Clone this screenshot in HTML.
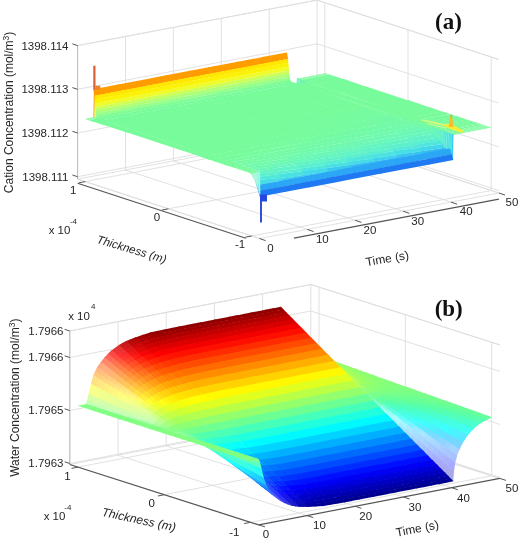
<!DOCTYPE html>
<html lang="en"><head><meta charset="utf-8"><title>Concentration profiles</title>
<style>html,body{margin:0;padding:0;background:#fff}svg{display:block}text{font-family:"Liberation Sans",sans-serif;fill:#262626}.s{font-family:"Liberation Serif",serif;font-weight:bold;fill:#111}</style></head><body>
<svg width="520" height="540" viewBox="0 0 520 540">
<rect width="520" height="540" fill="#fff"/>
<line x1="77.6" y1="179.1" x2="77.6" y2="45.6" stroke="#dedede" stroke-width="0.9"/>
<line x1="77.6" y1="179.1" x2="259.4" y2="238.5" stroke="#dedede" stroke-width="0.9"/>
<line x1="125.5" y1="170" x2="125.5" y2="36.5" stroke="#dedede" stroke-width="0.9"/>
<line x1="125.5" y1="170" x2="307.3" y2="229.4" stroke="#dedede" stroke-width="0.9"/>
<line x1="173.4" y1="160.9" x2="173.4" y2="27.4" stroke="#dedede" stroke-width="0.9"/>
<line x1="173.4" y1="160.9" x2="355.2" y2="220.3" stroke="#dedede" stroke-width="0.9"/>
<line x1="221.3" y1="151.8" x2="221.3" y2="18.3" stroke="#dedede" stroke-width="0.9"/>
<line x1="221.3" y1="151.8" x2="403.1" y2="211.2" stroke="#dedede" stroke-width="0.9"/>
<line x1="269.2" y1="142.7" x2="269.2" y2="9.2" stroke="#dedede" stroke-width="0.9"/>
<line x1="269.2" y1="142.7" x2="451" y2="202.1" stroke="#dedede" stroke-width="0.9"/>
<line x1="317.1" y1="133.6" x2="317.1" y2="0.1" stroke="#dedede" stroke-width="0.9"/>
<line x1="317.1" y1="133.6" x2="498.9" y2="193" stroke="#dedede" stroke-width="0.9"/>
<line x1="324.8" y1="136.1" x2="324.8" y2="2.6" stroke="#dedede" stroke-width="0.9"/>
<line x1="85.3" y1="181.6" x2="324.8" y2="136.1" stroke="#dedede" stroke-width="0.9"/>
<line x1="408" y1="163.3" x2="408" y2="29.8" stroke="#dedede" stroke-width="0.9"/>
<line x1="168.5" y1="208.8" x2="408" y2="163.3" stroke="#dedede" stroke-width="0.9"/>
<line x1="491.2" y1="190.5" x2="491.2" y2="57" stroke="#dedede" stroke-width="0.9"/>
<line x1="251.7" y1="236" x2="491.2" y2="190.5" stroke="#dedede" stroke-width="0.9"/>
<line x1="77.6" y1="176.7" x2="317.1" y2="131.2" stroke="#dedede" stroke-width="0.9"/>
<line x1="317.1" y1="131.2" x2="498.9" y2="190.6" stroke="#dedede" stroke-width="0.9"/>
<line x1="77.6" y1="133" x2="317.1" y2="87.5" stroke="#dedede" stroke-width="0.9"/>
<line x1="317.1" y1="87.5" x2="498.9" y2="146.9" stroke="#dedede" stroke-width="0.9"/>
<line x1="77.6" y1="89.3" x2="317.1" y2="43.8" stroke="#dedede" stroke-width="0.9"/>
<line x1="317.1" y1="43.8" x2="498.9" y2="103.2" stroke="#dedede" stroke-width="0.9"/>
<line x1="77.6" y1="45.6" x2="317.1" y2="0.1" stroke="#dedede" stroke-width="0.9"/>
<line x1="317.1" y1="0.1" x2="498.9" y2="59.5" stroke="#dedede" stroke-width="0.9"/>
<line x1="77.6" y1="45.6" x2="317.1" y2="0.1" stroke="#dedede" stroke-width="0.9"/>
<line x1="317.1" y1="0.1" x2="498.9" y2="59.5" stroke="#dedede" stroke-width="0.9"/>
<line x1="317.1" y1="133.6" x2="498.9" y2="193" stroke="#dedede" stroke-width="0.9"/>
<line x1="77.6" y1="179.1" x2="317.1" y2="133.6" stroke="#dedede" stroke-width="0.9"/>
<g>
<path d="M296.5,78.7L325.3,73.2L326.3,73.6L297.5,79z" fill="#78fb9a"/>
<path d="M297.5,79L326.3,73.5L326.7,73.7L297.8,79.1z" fill="#78fb9a"/>
<path d="M297.8,79.1L326.7,73.6L327,73.8L298.1,79.2z" fill="#78fb9a"/>
<path d="M298.1,79.2L327,73.8L327.3,73.9L298.5,79.4z" fill="#78fb9a"/>
<path d="M298.5,79.3L327.3,73.9L327.7,74L298.8,79.5z" fill="#78fb9a"/>
<path d="M298.8,79.5L327.7,74L328,74.1L299.1,79.6z" fill="#78fb9a"/>
<path d="M299.1,79.6L328,74.1L328.5,74.3L299.6,79.7z" fill="#78fb9a"/>
<path d="M299.6,79.7L328.5,74.2L329.5,74.6L300.6,80.1z" fill="#78fb9a"/>
<path d="M300.6,80L329.5,74.5L334.5,76.3L305.6,81.7z" fill="#78fb9a"/>
<path d="M305.6,81.6L334.5,76.1L343.6,79.3L314.8,84.8z" fill="#78fb9a"/>
<path d="M314.8,84.6L343.3,78.8L366.9,86.9L338.4,92.7z" fill="#78fb9a"/>
<path d="M338.1,92.1L366.1,86.5L408.5,100.6L380.5,106.2z" fill="#78fb9a"/>
<path d="M379.7,105.8L408.3,100L429.3,107.3L400.7,113.1z" fill="#78fb9a"/>
<path d="M400.5,112.6L429.3,107L441.8,111.4L413,117z" fill="#78fb9a"/>
<path d="M412.9,116.7L441.8,111.2L450.1,114.1L421.3,119.6z" fill="#78fb9a"/>
<path d="M421.3,119.4L450.1,113.9L456.8,116.2L428,121.8z" fill="#78fb9a"/>
<path d="M427.9,121.6L456.8,116.1L461.8,117.9L432.9,123.4z" fill="#78fb9a"/>
<path d="M432.9,123.3L461.8,117.8L466.8,119.5L437.9,125z" fill="#78fb9a"/>
<path d="M437.9,124.9L466.8,119.4L470.9,120.9L442.1,126.3z" fill="#78fb9a"/>
<path d="M442.1,126.3L470.9,120.8L475.1,122.2L446.2,127.7z" fill="#78fb9a"/>
<path d="M446.2,127.6L475.1,122.1L478.4,123.3L449.6,128.8z" fill="#78fb9a"/>
<path d="M449.6,128.7L478.4,123.2L480.9,124.1L452.1,129.6z" fill="#78fb9a"/>
<path d="M452.1,129.5L480.9,124.1L483.4,124.9L454.6,130.4z" fill="#78fb9a"/>
<path d="M454.6,130.4L483.4,124.9L485.1,125.5L456.2,130.9z" fill="#78fb9a"/>
<path d="M456.2,130.9L485.1,125.4L486.7,126L457.9,131.5z" fill="#78fb9a"/>
<path d="M457.9,131.5L486.7,126L488.4,126.5L459.5,132z" fill="#78fb9a"/>
<path d="M459.5,132L488.4,126.5L490.1,127.1L461.2,132.6z" fill="#78fb9a"/>
<path d="M461.2,132.5L490.1,127.1L491.7,127.6L462.9,133.1z" fill="#78fb9a"/>
<path d="M296.4,83.6L297,78.1L298.2,78.4L297.6,83.7z" fill="#70f4b0"/>
<path d="M297.4,83.7L298,78.4L298.5,78.5L297.8,83.7z" fill="#70f4b0"/>
<path d="M297.8,83.7L298.4,78.5L298.8,78.6L298.2,83.8z" fill="#70f4b0"/>
<path d="M298.1,83.7L298.7,78.6L299.1,78.7L298.5,83.8z" fill="#70f4b0"/>
<path d="M298.4,83.8L299,78.7L299.5,78.8L298.8,83.8z" fill="#70f4b0"/>
<path d="M298.8,83.8L299.4,78.8L299.8,78.9L299.2,83.8z" fill="#70f4b0"/>
<path d="M299.1,83.8L299.7,78.9L300.3,79.1L299.7,83.9z" fill="#70f4b0"/>
<path d="M299.5,83.8L300.1,79.1L301.4,79.5L300.8,84z" fill="#70f4b0"/>
<path d="M300.2,83.6L300.8,79.6L306.7,81.5L306.1,84.2z" fill="#70f4b0"/>
<path d="M305.1,83.9L305.7,81.4L315.9,84.7L315.4,84.8z" fill="#78fb9a"/>
<path d="M314.3,84.5L314.8,84.4L339.1,92.4L338.7,92.5z" fill="#78fb9a"/>
<path d="M337.6,92.1L338.1,92L380.7,106L380.3,106.1z" fill="#78fb9a"/>
<path d="M379.2,105.7L379.7,105.6L401.5,112.8L401.1,112.9z" fill="#78fb9a"/>
<path d="M400,112.5L400.5,112.4L414,116.8L413.5,116.9z" fill="#78fb9a"/>
<path d="M412.5,116.6L413,116.5L422.3,119.6L421.9,119.7z" fill="#78fb9a"/>
<path d="M420.8,119.3L421.3,119.2L429,121.7L428.5,121.9z" fill="#78fb9a"/>
<path d="M427.5,121.5L428,121.4L434,123.4L433.5,123.5z" fill="#78fb9a"/>
<path d="M432.5,123.1L432.9,123L439,125L438.5,125.1z" fill="#78fb9a"/>
<path d="M437.4,124.8L437.9,124.6L443.1,126.3L442.6,126.5z" fill="#78fb9a"/>
<path d="M441.6,126.1L442.1,126L447.3,127.7L446.8,127.8z" fill="#78fb9a"/>
<path d="M445.8,127.5L446.3,127.3L450.6,128.8L450.1,128.9z" fill="#78fb9a"/>
<path d="M449.1,128.6L449.6,128.4L453.1,129.6L452.6,129.8z" fill="#78fb9a"/>
<path d="M451.6,129.4L452.1,129.2L455.6,130.4L455.1,130.6z" fill="#78fb9a"/>
<path d="M454.1,130.3L454.6,130L457.3,130.9L456.8,131.2z" fill="#78fb9a"/>
<path d="M455.7,130.8L456.3,130.6L459,131.5L458.4,131.7z" fill="#78fb9a"/>
<path d="M457.4,131.3L457.9,131.1L460.6,132L460.1,132.3z" fill="#78fb9a"/>
<path d="M459.1,131.9L459.6,131.6L462.3,132.6L461.8,132.8z" fill="#78fb9a"/>
<path d="M460.7,132.4L461.3,132.2L464,133.1L463.4,133.3z" fill="#78fb9a"/>
<path d="M286.5,84.9L297.1,82.9L298.1,83.1L287.5,85.1z" fill="#70f4b0"/>
<path d="M287.5,85L298.1,83L298.4,83.1L287.8,85.1z" fill="#70f4b0"/>
<path d="M287.8,85.1L298.4,83.1L298.7,83.1L288.2,85.1z" fill="#70f4b0"/>
<path d="M288.2,85.1L298.7,83.1L299.1,83.1L288.5,85.1z" fill="#70f4b0"/>
<path d="M288.5,85.1L299.1,83.1L299.4,83.2L288.8,85.2z" fill="#70f4b0"/>
<path d="M288.8,85.2L299.4,83.2L299.7,83.2L289.2,85.2z" fill="#70f4b0"/>
<path d="M289.2,85.2L299.7,83.2L300.2,83.2L289.7,85.2z" fill="#70f4b0"/>
<path d="M289.7,85.2L300.2,83.2L301.2,83.3L290.7,85.3z" fill="#70f4b0"/>
<path d="M290.7,85.3L301.2,83.2L306.2,83.8L295.7,85.9z" fill="#70f4b0"/>
<path d="M295.7,85.7L305.8,83.3L315.4,84.6L305.3,87z" fill="#78fb9a"/>
<path d="M304.8,86.4L314.4,84.4L338.7,92.4L329.1,94.4z" fill="#78fb9a"/>
<path d="M328.1,94L337.6,92.1L380.3,106L370.7,107.9z" fill="#78fb9a"/>
<path d="M369.7,107.6L379.3,105.6L401.1,112.8L391.5,114.8z" fill="#78fb9a"/>
<path d="M390.5,114.4L400.3,112.2L413.6,116.8L403.8,119.1z" fill="#78fb9a"/>
<path d="M403,118.5L413.2,116.2L421.9,119.5L411.7,121.8z" fill="#78fb9a"/>
<path d="M411.3,121.3L421.7,119L428.5,121.7L418.2,123.9z" fill="#78fb9a"/>
<path d="M418,123.5L428.4,121.3L433.5,123.3L423.1,125.4z" fill="#78fb9a"/>
<path d="M422.9,125.1L433.4,123L438.5,124.9L428.1,127.1z" fill="#78fb9a"/>
<path d="M427.9,126.7L438.4,124.6L442.7,126.3L432.2,128.4z" fill="#78fb9a"/>
<path d="M432.1,128.1L442.6,126L446.8,127.6L436.3,129.7z" fill="#78fb9a"/>
<path d="M436.3,129.5L446.8,127.4L450.2,128.7L439.6,130.8z" fill="#78fb9a"/>
<path d="M439.6,130.6L450.1,128.5L452.7,129.5L442.1,131.5z" fill="#78fb9a"/>
<path d="M442.1,131.4L452.6,129.4L455.2,130.3L444.6,132.4z" fill="#78fb9a"/>
<path d="M444.6,132.2L455.1,130.2L456.8,130.9L446.3,132.9z" fill="#78fb9a"/>
<path d="M446.2,132.8L456.8,130.8L458.5,131.4L447.9,133.4z" fill="#78fb9a"/>
<path d="M447.9,133.3L458.5,131.3L460.2,131.9L449.6,134z" fill="#78fb9a"/>
<path d="M449.6,133.9L460.1,131.8L461.8,132.5L451.3,134.5z" fill="#78fb9a"/>
<path d="M451.2,134.4L461.8,132.4L463.5,133L452.9,135z" fill="#78fb9a"/>
<path d="M286.5,52.1L287,85.4L288.1,85.5L287.5,58.5z" fill="#70f4b0"/>
<path d="M287.5,58.5L288.1,85.5L288.4,85.5L287.8,62.1z" fill="#70f4b0"/>
<path d="M287.8,62.1L288.4,85.5L288.7,85.6L288.1,66.2z" fill="#70f4b0"/>
<path d="M288.1,66.2L288.7,85.6L289.1,85.6L288.5,69.8z" fill="#70f4b0"/>
<path d="M288.4,69.8L289.1,85.6L289.4,85.6L288.8,72.9z" fill="#70f4b0"/>
<path d="M288.8,72.9L289.4,85.6L289.8,85.6L289.1,76.1z" fill="#70f4b0"/>
<path d="M289.1,76.1L289.7,85.6L290.3,85.7L289.6,78.9z" fill="#70f4b0"/>
<path d="M289.5,78.9L290.2,85.7L291.4,85.7L290.8,81.4z" fill="#70f4b0"/>
<path d="M290.2,81.6L290.7,85.5L296.7,85.9L296.2,83.5z" fill="#70f4b0"/>
<path d="M295.1,83.4L295.7,85.7L305.9,86.6L305.3,86.7z" fill="#75fba1"/>
<path d="M304.3,86.4L304.8,86.3L329.2,94.3L328.6,94.4z" fill="#78fb9a"/>
<path d="M327.6,94L328.1,93.9L370.8,107.9L370.2,108.4z" fill="#77fb9b"/>
<path d="M369.2,108.1L369.7,107.5L391.6,114.6L391,115.9z" fill="#76fb9f"/>
<path d="M389.9,115.5L390.6,114.3L404.1,118.7L403.4,120.6z" fill="#75fba2"/>
<path d="M402.4,120.3L403.1,118.3L412.4,121.3L411.7,124z" fill="#74faa4"/>
<path d="M410.7,123.7L411.4,120.9L419.1,123.4L418.3,126.8z" fill="#73faa6"/>
<path d="M417.4,126.5L418.1,123.1L424,124.9L423.2,129.5z" fill="#72faab"/>
<path d="M422.4,129.2L423.2,124.7L429,126.5L428.2,132.1z" fill="#70f9af"/>
<path d="M427.5,131.9L428.2,126.2L433.1,127.7L432.3,134.7z" fill="#6df8b3"/>
<path d="M431.6,134.5L432.4,127.6L437.2,129L436.4,138.3z" fill="#69f6bc"/>
<path d="M435.9,138.3L436.7,128.9L440.4,130L439.7,141.3z" fill="#65f4c2"/>
<path d="M439.4,141.3L440.1,130L442.8,130.8L442.1,144.6z" fill="#60f2c9"/>
<path d="M441.9,144.6L442.6,130.8L445.3,131.6L444.6,148.1z" fill="#5aefd0"/>
<path d="M444.5,148.1L445.1,131.6L446.9,132.2L446.3,150.7z" fill="#54ead6"/>
<path d="M446.1,150.7L446.8,132.2L448.5,132.7L447.9,153.2z" fill="#4ee5dd"/>
<path d="M447.8,153.2L448.4,132.7L450.2,133.3L449.6,149.3z" fill="#4ee5dd"/>
<path d="M449.4,149.3L450.1,133.3L451.9,133.8L451.2,155.1z" fill="#4ce3e0"/>
<path d="M451.1,155.1L451.8,133.8L453.5,134.3L452.9,160.5z" fill="#3bcbed"/>
<path d="M262,57.1L287,52.4L288,59.1L263,63.9z" fill="#ff9c00"/>
<path d="M263,63.6L288,58.9L288.4,62.7L263.3,67.4z" fill="#ffe700"/>
<path d="M263.3,67.2L288.3,62.5L288.7,66.7L263.7,71.5z" fill="#fcf208"/>
<path d="M263.6,71.3L288.7,66.5L289,70.3L264,75.1z" fill="#f2fb2a"/>
<path d="M264,74.9L289,70.2L289.4,73.5L264.3,78.2z" fill="#cfff57"/>
<path d="M264.3,78.1L289.3,73.3L289.7,76.6L264.7,81.4z" fill="#b0ff76"/>
<path d="M264.6,81.3L289.7,76.5L290.2,79.4L265.2,84.2z" fill="#97ff8a"/>
<path d="M265.1,84L290.2,79.3L291.2,81.9L266.2,86.7z" fill="#82fd95"/>
<path d="M266.1,86.6L291.2,81.8L296.2,83.5L271.2,88.3z" fill="#78fb9a"/>
<path d="M271.1,88.2L296.1,83.3L305.3,86.6L280.3,91.4z" fill="#78fb9a"/>
<path d="M280.3,91.1L304.8,86L328.6,94.2L304.1,99.3z" fill="#78fb9a"/>
<path d="M303.6,98.7L327.7,93.8L370.2,108.3L346.1,113.1z" fill="#77fb9b"/>
<path d="M345.2,112.6L369.8,107.7L391,115.7L366.4,120.6z" fill="#76fba0"/>
<path d="M366,120L390.9,115.3L403.5,120.4L378.6,125z" fill="#74faa4"/>
<path d="M378.5,124.6L403.5,120.1L411.8,123.7L386.8,128.3z" fill="#73faa8"/>
<path d="M386.8,128L411.8,123.5L418.5,126.4L393.5,130.9z" fill="#71faac"/>
<path d="M393.4,130.8L418.4,126.2L423.5,129L398.5,133.2z" fill="#6ef9b1"/>
<path d="M398.4,133.1L423.4,128.8L428.5,131.6L403.4,136z" fill="#6bf7b7"/>
<path d="M403.4,135.8L428.4,131.5L432.6,134.1L407.6,138.2z" fill="#68f6be"/>
<path d="M407.6,138L432.6,134L436.8,137.8L411.8,141.8z" fill="#61f3c6"/>
<path d="M411.7,141.6L436.8,137.7L440.1,140.7L415.1,144.9z" fill="#5aefcf"/>
<path d="M415.1,144.7L440.1,140.6L442.6,144.1L417.6,147.8z" fill="#4fe6dc"/>
<path d="M417.6,147.7L442.6,143.9L445.1,147.6L420.1,151.5z" fill="#42d8e9"/>
<path d="M420.1,151.4L445.1,147.4L446.8,150.1L421.7,154.2z" fill="#34bcf1"/>
<path d="M421.7,154L446.7,150L448.4,152.7L423.4,156.9z" fill="#2aa4f6"/>
<path d="M423.4,156.9L448.4,152.7L450.1,148.6L425,153.3z" fill="#2cabf6"/>
<path d="M425,153.3L450,148.5L451.8,154.6L426.8,159.3z" fill="#2ba7f6"/>
<path d="M426.7,159.1L451.7,154.3L453.4,159.9L428.4,164.7z" fill="#1f79f2"/>
<path d="M238,61.7L263,56.9L264.1,63.7L239.1,68.4z" fill="#ff9c00"/>
<path d="M239,68.2L264,63.4L264.4,67.2L239.4,72z" fill="#ffe700"/>
<path d="M239.4,71.8L264.4,67L264.7,71.3L239.7,76z" fill="#fcf208"/>
<path d="M239.7,75.8L264.7,71.1L265.1,74.9L240.1,79.6z" fill="#f2fb2a"/>
<path d="M240,79.5L265,74.7L265.4,78L240.4,82.8z" fill="#cfff57"/>
<path d="M240.4,82.6L265.4,77.9L265.7,81.2L240.7,85.9z" fill="#b0ff76"/>
<path d="M240.7,85.8L265.7,81L266.2,84L241.2,88.7z" fill="#97ff8a"/>
<path d="M241.2,88.6L266.2,83.8L267.2,86.5L242.2,91.2z" fill="#82fd95"/>
<path d="M242.2,91.1L267.2,86.3L272.2,88.1L247.2,92.9z" fill="#78fb9a"/>
<path d="M247.2,92.7L272.2,87.9L281.4,91.1L256.4,95.9z" fill="#78fb9a"/>
<path d="M256.3,95.6L280.9,90.6L304.7,98.8L280.1,103.8z" fill="#78fb9a"/>
<path d="M279.6,103.2L303.7,98.4L346.3,112.7L322.2,117.5z" fill="#78fb9b"/>
<path d="M321.2,117.1L345.9,112.1L367.1,120.1L342.4,125z" fill="#76fb9f"/>
<path d="M342,124.4L367,119.7L379.6,124.6L354.6,129.3z" fill="#75faa2"/>
<path d="M354.5,128.9L379.5,124.4L387.9,128L362.9,132.5z" fill="#73faa6"/>
<path d="M362.8,132.3L387.8,127.8L394.5,130.7L369.5,135.2z" fill="#72faab"/>
<path d="M369.5,135.1L394.5,130.6L399.5,133L374.5,137.3z" fill="#70f9af"/>
<path d="M374.5,137.1L399.5,132.9L404.5,135.8L379.5,140z" fill="#6df8b4"/>
<path d="M379.5,139.9L404.5,135.6L408.7,138L383.7,142.4z" fill="#6af7bb"/>
<path d="M383.6,142.2L408.6,137.9L412.8,141.6L387.8,145.4z" fill="#64f4c4"/>
<path d="M387.8,145.3L412.8,141.4L416.2,144.7L391.1,148.7z" fill="#5df0cc"/>
<path d="M391.1,148.5L416.1,144.5L418.7,147.6L393.6,151.2z" fill="#54ead7"/>
<path d="M393.6,151.1L418.6,147.5L421.2,151.3L396.1,155.2z" fill="#47dfe4"/>
<path d="M396.1,155L421.1,151.2L422.8,154L397.8,157.9z" fill="#38c5ef"/>
<path d="M397.8,157.8L422.8,153.9L424.5,156.7L399.5,160.8z" fill="#2cabf6"/>
<path d="M399.5,160.8L424.5,156.7L426.1,153.2L401.1,157.9z" fill="#2eaff5"/>
<path d="M401.1,157.8L426.1,153.1L427.8,159.1L402.8,163.9z" fill="#2ba7f6"/>
<path d="M402.8,163.6L427.8,158.9L429.5,164.5L404.5,169.2z" fill="#1f79f2"/>
<path d="M214.1,66.2L239.1,61.5L240.1,68.2L215.1,73z" fill="#ff9c00"/>
<path d="M215.1,72.7L240.1,68L240.5,71.8L215.4,76.5z" fill="#ffe700"/>
<path d="M215.4,76.3L240.4,71.6L240.8,75.8L215.8,80.6z" fill="#fcf208"/>
<path d="M215.7,80.4L240.8,75.6L241.1,79.4L216.1,84.2z" fill="#f2fb2a"/>
<path d="M216.1,84L241.1,79.3L241.5,82.6L216.4,87.3z" fill="#cfff57"/>
<path d="M216.4,87.2L241.4,82.4L241.8,85.7L216.8,90.5z" fill="#b0ff76"/>
<path d="M216.7,90.4L241.8,85.6L242.3,88.5L217.3,93.3z" fill="#97ff8a"/>
<path d="M217.2,93.1L242.3,88.4L243.3,91L218.3,95.8z" fill="#82fd95"/>
<path d="M218.2,95.7L243.3,90.9L248.3,92.6L223.3,97.4z" fill="#78fb9a"/>
<path d="M223.2,97.3L248.2,92.4L257.4,95.7L232.4,100.5z" fill="#78fb9a"/>
<path d="M232.4,100.2L256.9,95.1L280.7,103.3L256.2,108.4z" fill="#78fb9a"/>
<path d="M255.7,107.8L279.8,102.9L322.3,117.2L298.2,122z" fill="#78fb9b"/>
<path d="M297.3,121.5L321.9,116.6L343.1,124.5L318.5,129.3z" fill="#77fb9e"/>
<path d="M318.1,128.8L343,124.1L355.6,128.9L330.7,133.6z" fill="#76fba1"/>
<path d="M330.6,133.3L355.6,128.7L363.9,132.2L338.9,136.7z" fill="#74faa5"/>
<path d="M338.9,136.5L363.9,132.1L370.6,135L345.6,139.5z" fill="#73faa8"/>
<path d="M345.5,139.3L370.6,134.9L375.6,137.1L350.6,141.6z" fill="#71faac"/>
<path d="M350.5,141.4L375.5,136.9L380.6,139.8L355.5,144z" fill="#6ef8b2"/>
<path d="M355.5,143.8L380.5,139.7L384.7,142.2L359.7,146.4z" fill="#6bf7b8"/>
<path d="M359.7,146.3L384.7,142L388.9,145.2L363.9,148.9z" fill="#66f5c0"/>
<path d="M363.8,148.7L388.9,145.1L392.2,148.5L367.2,152.4z" fill="#60f2c8"/>
<path d="M367.2,152.2L392.2,148.4L394.7,151.1L369.7,155z" fill="#58eed1"/>
<path d="M369.7,154.8L394.7,150.9L397.2,155L372.2,158.7z" fill="#4ce3e0"/>
<path d="M372.2,158.6L397.2,154.9L398.9,157.8L373.8,161.5z" fill="#3ed0ec"/>
<path d="M373.8,161.4L398.8,157.6L400.5,160.7L375.5,164.7z" fill="#30b3f4"/>
<path d="M375.5,164.7L400.5,160.7L402.2,157.7L377.2,162.5z" fill="#30b3f4"/>
<path d="M377.1,162.4L402.1,157.6L403.9,163.7L378.9,168.4z" fill="#2ba7f6"/>
<path d="M378.8,168.2L403.8,163.4L405.5,169L380.5,173.8z" fill="#1f79f2"/>
<path d="M190.1,70.8L215.1,66L216.2,72.8L191.2,77.5z" fill="#ff9c00"/>
<path d="M191.1,77.3L216.1,72.5L216.5,76.3L191.5,81.1z" fill="#ffe700"/>
<path d="M191.5,80.9L216.5,76.1L216.8,80.4L191.8,85.1z" fill="#fcf208"/>
<path d="M191.8,84.9L216.8,80.2L217.2,84L192.2,88.7z" fill="#f2fb2a"/>
<path d="M192.1,88.6L217.1,83.8L217.5,87.1L192.5,91.9z" fill="#cfff57"/>
<path d="M192.5,91.7L217.5,87L217.8,90.3L192.8,95z" fill="#b0ff76"/>
<path d="M192.8,94.9L217.8,90.1L218.3,93.1L193.3,97.8z" fill="#97ff8a"/>
<path d="M193.3,97.7L218.3,92.9L219.3,95.6L194.3,100.3z" fill="#82fd95"/>
<path d="M194.3,100.2L219.3,95.4L224.3,97.2L199.3,102z" fill="#78fb9a"/>
<path d="M199.3,101.8L224.3,97L233.5,100.2L208.5,105z" fill="#78fb9a"/>
<path d="M208.4,104.7L233,99.7L256.8,107.9L232.2,112.9z" fill="#78fb9a"/>
<path d="M231.7,112.3L255.8,107.5L298.4,121.6L274.3,126.4z" fill="#78fb9a"/>
<path d="M273.3,126L298,121L319.2,128.8L294.5,133.6z" fill="#77fb9c"/>
<path d="M294.1,133.1L319.1,128.4L331.7,133.3L306.7,138z" fill="#76fb9f"/>
<path d="M306.6,137.7L331.6,133.1L340,136.4L315,141z" fill="#75faa2"/>
<path d="M314.9,140.7L339.9,136.2L346.6,139.2L321.6,143.7z" fill="#73faa6"/>
<path d="M321.6,143.5L346.6,139.1L351.6,141.3L326.6,145.8z" fill="#72faaa"/>
<path d="M326.6,145.7L351.6,141.2L356.6,143.8L331.6,148z" fill="#70f9ae"/>
<path d="M331.6,147.8L356.6,143.6L360.8,146.2L335.8,150.4z" fill="#6df8b4"/>
<path d="M335.7,150.2L360.7,146.1L364.9,148.7L339.9,152.9z" fill="#69f7bb"/>
<path d="M339.9,152.8L364.9,148.5L368.3,152.2L343.2,155.9z" fill="#63f3c5"/>
<path d="M343.2,155.7L368.2,152L370.8,154.8L345.7,158.7z" fill="#5cf0cd"/>
<path d="M345.7,158.5L370.7,154.6L373.3,158.5L348.2,162z" fill="#50e7da"/>
<path d="M348.2,161.8L373.2,158.4L374.9,161.4L349.9,165.1z" fill="#44dce8"/>
<path d="M349.9,164.9L374.9,161.2L376.6,164.5L351.6,168.4z" fill="#35bdf1"/>
<path d="M351.5,168.3L376.6,164.5L378.2,162.3L353.2,167z" fill="#32b9f2"/>
<path d="M353.2,166.9L378.2,162.2L379.9,168.2L354.9,173z" fill="#2ba7f6"/>
<path d="M354.9,172.7L379.9,168L381.6,173.6L356.6,178.3z" fill="#1f79f2"/>
<path d="M166.2,75.3L191.2,70.6L192.2,77.3L167.2,82.1z" fill="#ff9c00"/>
<path d="M167.2,81.8L192.2,77.1L192.6,80.9L167.5,85.6z" fill="#ffe700"/>
<path d="M167.5,85.4L192.5,80.7L192.9,84.9L167.9,89.7z" fill="#fcf208"/>
<path d="M167.8,89.5L192.9,84.7L193.2,88.5L168.2,93.3z" fill="#f2fb2a"/>
<path d="M168.2,93.1L193.2,88.4L193.6,91.7L168.5,96.4z" fill="#cfff57"/>
<path d="M168.5,96.3L193.5,91.5L193.9,94.8L168.9,99.6z" fill="#b0ff76"/>
<path d="M168.8,99.5L193.9,94.7L194.4,97.6L169.4,102.4z" fill="#97ff8a"/>
<path d="M169.3,102.2L194.4,97.5L195.4,100.1L170.4,104.9z" fill="#82fd95"/>
<path d="M170.3,104.8L195.4,100L200.4,101.7L175.4,106.5z" fill="#78fb9a"/>
<path d="M175.3,106.4L200.3,101.5L209.5,104.8L184.5,109.6z" fill="#78fb9a"/>
<path d="M184.5,109.3L209,104.2L232.8,112.4L208.3,117.5z" fill="#78fb9a"/>
<path d="M207.8,116.9L231.9,112L274.4,126.1L250.3,130.9z" fill="#78fb9a"/>
<path d="M249.4,130.5L274,125.5L295.2,133.1L270.6,138.1z" fill="#77fb9b"/>
<path d="M270.2,137.5L295.1,132.8L307.7,137.7L282.8,142.3z" fill="#77fb9e"/>
<path d="M282.7,142L307.7,137.4L316,140.7L291,145.3z" fill="#76fba0"/>
<path d="M291,145.1L316,140.5L322.7,143.4L297.7,147.7z" fill="#74faa4"/>
<path d="M297.6,147.6L322.7,143.3L327.7,145.6L302.7,149.9z" fill="#73faa7"/>
<path d="M302.6,149.8L327.6,145.4L332.7,147.7L307.6,152.2z" fill="#71faab"/>
<path d="M307.6,152L332.6,147.6L336.8,150.2L311.8,154.1z" fill="#6ff9b1"/>
<path d="M311.8,154L336.8,150L341,152.7L316,156.9z" fill="#6bf7b7"/>
<path d="M315.9,156.7L341,152.6L344.3,155.7L319.3,159.1z" fill="#66f5c1"/>
<path d="M319.3,158.9L344.3,155.5L346.8,158.5L321.8,162.1z" fill="#60f2c8"/>
<path d="M321.8,162L346.8,158.3L349.3,161.8L324.3,165.2z" fill="#56edd4"/>
<path d="M324.3,165L349.3,161.7L351,164.9L325.9,168.3z" fill="#4ae2e1"/>
<path d="M325.9,168.2L350.9,164.7L352.6,168.2L327.6,171.8z" fill="#3bcaed"/>
<path d="M327.6,171.8L352.6,168.1L354.3,166.9L329.3,171.6z" fill="#35bff0"/>
<path d="M329.2,171.5L354.2,166.7L356,172.8L331,177.5z" fill="#2ba7f6"/>
<path d="M330.9,177.3L355.9,172.5L357.6,178.1L332.6,182.9z" fill="#1f79f2"/>
<path d="M142.2,79.9L167.2,75.1L168.3,81.9L143.3,86.6z" fill="#ff9c00"/>
<path d="M143.2,86.4L168.2,81.6L168.6,85.4L143.6,90.2z" fill="#ffe700"/>
<path d="M143.6,90L168.6,85.2L168.9,89.5L143.9,94.2z" fill="#fcf208"/>
<path d="M143.9,94L168.9,89.3L169.3,93.1L144.3,97.8z" fill="#f2fb2a"/>
<path d="M144.2,97.7L169.2,92.9L169.6,96.2L144.6,101z" fill="#cfff57"/>
<path d="M144.6,100.8L169.6,96.1L169.9,99.4L144.9,104.1z" fill="#b0ff76"/>
<path d="M144.9,104L169.9,99.2L170.4,102.2L145.4,106.9z" fill="#97ff8a"/>
<path d="M145.4,106.8L170.4,102L171.4,104.7L146.4,109.4z" fill="#82fd95"/>
<path d="M146.4,109.3L171.4,104.5L176.4,106.3L151.4,111.1z" fill="#78fb9a"/>
<path d="M151.4,110.9L176.4,106.1L185.6,109.3L160.6,114.1z" fill="#78fb9a"/>
<path d="M160.5,113.8L185.1,108.8L208.9,117L184.3,122z" fill="#78fb9a"/>
<path d="M183.8,121.4L207.9,116.6L250.5,130.6L226.4,135.5z" fill="#78fb9a"/>
<path d="M225.4,135.1L250.1,130L271.3,137.6L246.6,142.5z" fill="#78fb9b"/>
<path d="M246.2,141.9L271.2,137.2L283.8,141.9L258.8,146.6z" fill="#77fb9c"/>
<path d="M258.7,146.3L283.7,141.7L292.1,145L267.1,149.6z" fill="#76fb9f"/>
<path d="M267,149.4L292,144.9L298.7,147.5L273.7,152.1z" fill="#75fba1"/>
<path d="M273.7,151.9L298.7,147.4L303.7,149.7L278.7,154z" fill="#74faa5"/>
<path d="M278.7,153.8L303.7,149.6L308.7,152L283.7,156.3z" fill="#73faa8"/>
<path d="M283.7,156.2L308.7,151.8L312.9,153.9L287.8,158.2z" fill="#71f9ad"/>
<path d="M287.8,158.1L312.8,153.8L317,156.7L292,160.7z" fill="#6df8b4"/>
<path d="M292,160.5L317,156.6L320.4,158.9L295.3,163z" fill="#6af7bb"/>
<path d="M295.3,162.8L320.3,158.8L322.9,162L297.8,165.3z" fill="#63f4c4"/>
<path d="M297.8,165.1L322.8,161.8L325.4,165L300.3,168.7z" fill="#5cf0cd"/>
<path d="M300.3,168.5L325.3,164.9L327,168.2L302,171.3z" fill="#50e7db"/>
<path d="M302,171.1L327,168L328.7,171.7L303.7,175.1z" fill="#43dae9"/>
<path d="M303.6,175L328.7,171.6L330.3,171.4L305.3,176.2z" fill="#3bcaed"/>
<path d="M305.3,176L330.3,171.3L332,177.3L307,182.1z" fill="#2ba7f6"/>
<path d="M307,181.8L332,177.1L333.7,182.7L308.7,187.4z" fill="#1f79f2"/>
<path d="M118.3,84.4L143.3,79.7L144.3,86.4L119.3,91.2z" fill="#ff9c00"/>
<path d="M119.3,90.9L144.3,86.2L144.7,90L119.6,94.7z" fill="#ffe700"/>
<path d="M119.6,94.5L144.6,89.8L145,94L120,98.8z" fill="#fcf208"/>
<path d="M119.9,98.6L145,93.8L145.3,97.6L120.3,102.4z" fill="#f2fb2a"/>
<path d="M120.3,102.2L145.3,97.5L145.7,100.8L120.6,105.5z" fill="#cfff57"/>
<path d="M120.6,105.4L145.6,100.6L146,103.9L121,108.7z" fill="#b0ff76"/>
<path d="M120.9,108.6L146,103.8L146.5,106.7L121.5,111.5z" fill="#97ff8a"/>
<path d="M121.4,111.3L146.5,106.6L147.5,109.2L122.5,114z" fill="#82fd95"/>
<path d="M122.4,113.9L147.5,109.1L152.5,110.8L127.5,115.6z" fill="#78fb9a"/>
<path d="M127.4,115.5L152.4,110.6L161.6,113.9L136.6,118.7z" fill="#78fb9a"/>
<path d="M136.6,118.4L161.1,113.3L184.9,121.5L160.4,126.6z" fill="#78fb9a"/>
<path d="M159.9,126L184,121.1L226.5,135.2L202.4,140z" fill="#78fb9a"/>
<path d="M201.5,139.6L226.1,134.6L247.3,142L222.7,147z" fill="#78fb9a"/>
<path d="M222.3,146.5L247.2,141.6L259.8,146.3L234.9,151z" fill="#78fb9b"/>
<path d="M234.8,150.7L259.8,146L268.1,149.3L243.1,153.8z" fill="#77fb9d"/>
<path d="M243.1,153.6L268.1,149.1L274.8,151.8L249.8,156.3z" fill="#76fb9f"/>
<path d="M249.7,156.1L274.8,151.7L279.8,153.8L254.8,158.2z" fill="#75fba2"/>
<path d="M254.7,158.1L279.7,153.6L284.8,156.1L259.7,160.3z" fill="#74faa6"/>
<path d="M259.7,160.1L284.7,156L288.9,158L263.9,162.3z" fill="#72faa9"/>
<path d="M263.9,162.2L288.9,157.9L293.1,160.5L268.1,164.3z" fill="#6ff9af"/>
<path d="M268,164.2L293.1,160.3L296.4,162.8L271.4,166.7z" fill="#6cf8b6"/>
<path d="M271.4,166.6L296.4,162.7L298.9,165.1L273.9,168.6z" fill="#67f6bf"/>
<path d="M273.9,168.4L298.9,165L301.4,168.5L276.4,171.8z" fill="#60f2c8"/>
<path d="M276.4,171.7L301.4,168.4L303.1,171.1L278,174.3z" fill="#58eed2"/>
<path d="M278,174.2L303,171L304.7,174.9L279.7,178z" fill="#4ae1e1"/>
<path d="M279.7,177.9L304.7,174.8L306.4,176L281.4,180.8z" fill="#41d7ea"/>
<path d="M281.3,180.6L306.3,175.8L308.1,181.9L283.1,186.6z" fill="#2ba7f6"/>
<path d="M283,186.4L308,181.6L309.7,187.2L284.7,192z" fill="#1f79f2"/>
<path d="M93.4,89.2L119.3,84.2L120.4,91L94.4,95.9z" fill="#ff9c00"/>
<path d="M94.4,95.7L120.3,90.7L120.7,94.5L94.7,99.4z" fill="#ffe700"/>
<path d="M94.7,99.3L120.7,94.3L121,98.6L95.1,103.5z" fill="#fcf208"/>
<path d="M95,103.3L121,98.4L121.4,102.2L95.4,107.1z" fill="#f2fb2a"/>
<path d="M95.4,106.9L121.3,102L121.7,105.3L95.7,110.2z" fill="#cfff57"/>
<path d="M95.7,110.1L121.7,105.2L122,108.5L96.1,113.4z" fill="#b0ff76"/>
<path d="M96,113.3L122,108.4L122.5,111.3L96.6,116.2z" fill="#97ff8a"/>
<path d="M96.5,116.1L122.5,111.1L123.5,113.8L97.6,118.7z" fill="#82fd95"/>
<path d="M97.5,118.6L123.5,113.6L128.5,115.4L102.5,120.3z" fill="#78fb9a"/>
<path d="M102.5,120.2L128.5,115.2L137.7,118.4L111.7,123.4z" fill="#78fb9a"/>
<path d="M111.7,123.1L137.2,117.9L161,126.1L135.4,131.3z" fill="#78fb9a"/>
<path d="M135,130.7L160.1,125.6L202.6,139.7L177.5,144.8z" fill="#78fb9a"/>
<path d="M176.6,144.4L202.2,139.1L223.4,146.5L197.7,151.7z" fill="#78fb9a"/>
<path d="M197.4,151.2L223.3,146.1L235.9,150.6L209.9,155.6z" fill="#78fb9b"/>
<path d="M209.8,155.3L235.8,150.4L244.2,153.5L218.2,158.3z" fill="#77fb9b"/>
<path d="M218.2,158.1L244.1,153.4L250.8,156.1L224.9,160.7z" fill="#77fb9d"/>
<path d="M224.8,160.5L250.8,155.9L255.8,158L229.8,162.6z" fill="#76fb9f"/>
<path d="M229.8,162.4L255.8,157.9L260.8,160.1L234.8,164.6z" fill="#75fba2"/>
<path d="M234.8,164.4L260.8,159.9L265,162.1L239,166.3z" fill="#74faa6"/>
<path d="M239,166.2L265,162L269.1,164.1L243.2,168.5z" fill="#72faaa"/>
<path d="M243.1,168.4L269.1,164L272.5,166.5L246.5,170.2z" fill="#6ef9b1"/>
<path d="M246.5,170.1L272.4,166.4L275,168.4L249,172.3z" fill="#6bf7b7"/>
<path d="M249,172.2L274.9,168.3L277.5,171.7L251.5,174.5z" fill="#65f4c2"/>
<path d="M251.4,174.3L277.4,171.5L279.1,174.2L253.1,177.4z" fill="#5ef1ca"/>
<path d="M253.1,177.3L279.1,174L280.8,177.9L254.8,180.3z" fill="#52e9d8"/>
<path d="M254.8,180.2L280.8,177.7L282.4,180.6L256.5,185.5z" fill="#47dee5"/>
<path d="M256.4,185.3L282.4,180.4L284.1,186.4L258.2,191.4z" fill="#2ba7f6"/>
<path d="M258.1,191.1L284.1,186.2L285.8,191.8L259.8,196.7z" fill="#1f79f2"/>
<path d="M93.4,117.8L93.9,88.7L95,95.1L94.4,118.1z" fill="#ff9c00"/>
<path d="M94.4,118.1L94.9,95.1L95.3,98.7L94.8,118.3z" fill="#edfc33"/>
<path d="M94.7,118.3L95.3,98.7L95.6,102.8L95.1,118.4z" fill="#d6fe4f"/>
<path d="M95.1,118.4L95.6,102.8L96,106.4L95.4,118.5z" fill="#bfff67"/>
<path d="M95.4,118.5L95.9,106.4L96.3,109.5L95.8,118.6z" fill="#abff7b"/>
<path d="M95.7,118.6L96.3,109.5L96.7,112.7L96.1,118.7z" fill="#9dff85"/>
<path d="M96,118.7L96.6,112.7L97.5,115.7L96.6,118.9z" fill="#8eff90"/>
<path d="M96.1,118.6L97,115.5L98.5,118.9L97.8,119.2z" fill="#82fd95"/>
<path d="M97.1,118.5L97.6,118.3L103.6,120.3L103.1,120.5z" fill="#78fb9a"/>
<path d="M102.1,120.1L102.6,120L112.7,123.3L112.3,123.4z" fill="#78fb9a"/>
<path d="M111.2,123.1L111.7,123L136,130.9L135.6,131z" fill="#78fb9a"/>
<path d="M134.5,130.7L135,130.6L177.6,144.5L177.2,144.6z" fill="#78fb9a"/>
<path d="M176.1,144.3L176.6,144.2L198.4,151.3L198,151.4z" fill="#78fb9a"/>
<path d="M196.9,151.1L197.4,151L210.9,155.4L210.4,155.5z" fill="#78fb9a"/>
<path d="M209.4,155.2L209.9,155.1L219.2,158.3L218.8,158.3z" fill="#78fb9b"/>
<path d="M217.7,157.9L218.2,157.9L225.9,160.6L225.4,160.4z" fill="#78fb9b"/>
<path d="M224.4,160.1L224.9,160.3L230.9,162.6L230.4,162z" fill="#b4fdc8"/>
<path d="M229.4,161.7L229.8,162.2L235.9,164.6L235.4,163.6z" fill="#b4fdc9"/>
<path d="M234.4,163.3L234.8,164.3L240,166.5L239.6,164.9z" fill="#b4fdc9"/>
<path d="M238.6,164.6L239,166.1L244.1,168.7L243.7,166.2z" fill="#b4fdcb"/>
<path d="M242.8,165.9L243.1,168.5L247.4,170.5L247,167.1z" fill="#b3fdcb"/>
<path d="M246.2,166.9L246.5,170.4L249.8,172.7L249.4,167.7z" fill="#b3fccd"/>
<path d="M248.8,167.7L249.2,172.6L252.2,174.8L251.8,168.5z" fill="#b2fccf"/>
<path d="M251.4,168.4L251.8,174.8L253.8,177.8L253.3,169z" fill="#b0fcd2"/>
<path d="M253.1,169L253.6,177.8L255.4,180.8L254.9,169.5z" fill="#affbd5"/>
<path d="M254.8,169.5L255.2,180.8L257.1,185.9L256.6,170z" fill="#acfadb"/>
<path d="M256.4,170L256.9,185.9L258.7,191.7L258.2,170.6z" fill="#a8f8e0"/>
<path d="M258.1,170.6L258.6,191.7L260.4,197L259.9,171.1z" fill="#a5f7e4"/>
<path d="M84.8,118.9L94,117.1L95,117.5L85.8,119.3z" fill="#78fb9a"/>
<path d="M85.8,119.2L95,117.5L95.3,117.6L86.1,119.4z" fill="#78fb9a"/>
<path d="M86.1,119.3L95.3,117.6L95.6,117.7L86.4,119.5z" fill="#78fb9a"/>
<path d="M86.4,119.5L95.6,117.7L96,117.8L86.8,119.6z" fill="#78fb9a"/>
<path d="M86.8,119.6L96,117.8L96.3,117.9L87.1,119.7z" fill="#78fb9a"/>
<path d="M87.1,119.7L96.3,117.9L96.6,118.1L87.4,119.8z" fill="#78fb9a"/>
<path d="M87.4,119.8L96.6,118L97.1,118.2L87.9,120z" fill="#78fb9a"/>
<path d="M87.9,119.9L97.1,118.2L98.1,118.6L88.9,120.3z" fill="#78fb9a"/>
<path d="M88.9,120.2L98,118.2L103.1,120.3L94.1,122.2z" fill="#78fb9a"/>
<path d="M93.9,121.8L102.5,119.7L112.3,123.3L103.7,125.3z" fill="#78fb9a"/>
<path d="M103.1,124.7L111.3,123L135.6,131L127.4,132.7z" fill="#78fb9a"/>
<path d="M126.4,132.3L134.5,130.6L177.2,144.6L169,146.2z" fill="#78fb9a"/>
<path d="M168,145.9L176.2,144.2L198,151.4L189.8,153.1z" fill="#78fb9a"/>
<path d="M188.8,152.8L197.1,150.8L210.5,155.4L202.1,157.3z" fill="#78fb9a"/>
<path d="M201.2,156.9L209.9,154.8L218.8,158.1L210.1,160.2z" fill="#78fb9a"/>
<path d="M209.5,159.6L218.4,157.6L225.4,160.3L216.5,162.3z" fill="#78fb9a"/>
<path d="M216.2,161.8L225.3,159.9L230.4,161.9L221.4,163.8z" fill="#78fb9a"/>
<path d="M221.2,163.4L230.3,161.5L235.4,163.5L226.3,165.4z" fill="#78fb9a"/>
<path d="M226.2,165.1L235.3,163.2L239.6,164.9L230.5,166.7z" fill="#78fb9a"/>
<path d="M230.3,166.4L239.5,164.5L243.7,166.2L234.6,168.1z" fill="#78fb9a"/>
<path d="M234.5,167.8L243.7,166L247.1,167.3L237.9,169.1z" fill="#78fb9a"/>
<path d="M237.8,168.9L247,167.1L249.6,168.1L240.4,169.9z" fill="#78fb9a"/>
<path d="M240.3,169.7L249.5,167.9L252.1,168.9L242.9,170.7z" fill="#78fb9a"/>
<path d="M242.8,170.6L252,168.8L253.7,169.4L244.5,171.2z" fill="#78fb9a"/>
<path d="M244.5,171.1L253.7,169.3L255.4,170L246.2,171.8z" fill="#78fb9a"/>
<path d="M246.2,171.6L255.4,169.9L257.1,170.5L247.8,172.3z" fill="#78fb9a"/>
<path d="M247.8,172.2L257,170.4L258.7,171.1L249.5,172.8z" fill="#78fb9a"/>
<path d="M249.5,172.7L258.7,171L260.4,171.6L251.2,173.4z" fill="#78fb9a"/>
<path d="M93.3,89.7 h2.2 v-24 h-2.2z" fill="#dc5c34"/>
<path d="M95.3,89.7 h5 v-4 h-5z" fill="#ee8428"/>
<path d="M260,195.5 h2 v27 h-2z" fill="#3050dc"/>
<path d="M260,194.5 h7 v7 h-7z" fill="#2448e0"/>
<path d="M421.5,119.3L435.5,122.1L448.5,125.5L448.5,126.9L434.5,123.7L421.5,120.5z" fill="#e6fa78" opacity=".85"/>
<path d="M427.5,123.1L446.5,127.5L446.5,128.7L427.5,124.3z" fill="#dcfc8c" opacity=".8"/>
<path d="M443.5,124.9L447.5,123.7L452.5,124.5L458,127.5L464,131.1L463,132.7L455.5,130.7L448.5,128.3z" fill="#f4ee3a"/>
<path d="M448.9,126.9L449.9,119.5L451.1,113.9L452.5,119.5L453.3,127.1z" fill="#ffb82a"/>
<path d="M450.2,117.5L451.1,113.7L452.2,117.5z" fill="#ff9638"/>
</g>
<line x1="77.6" y1="179.1" x2="77.6" y2="45.6" stroke="#bbb" stroke-width="1"/>
<line x1="77.6" y1="183.3" x2="245.9" y2="238.3" stroke="#555" stroke-width="1.2"/>
<line x1="293.9" y1="238.2" x2="498.9" y2="199.2" stroke="#555" stroke-width="1.2"/>
<line x1="77.6" y1="179.1" x2="259.4" y2="238.5" stroke="#dedede" stroke-width="0.9"/>
<line x1="259.4" y1="238.5" x2="498.9" y2="193" stroke="#dedede" stroke-width="0.9"/>
<line x1="259.4" y1="238.5" x2="265.6" y2="240.6" stroke="#555" stroke-width="1"/>
<line x1="307.3" y1="229.4" x2="313.5" y2="231.5" stroke="#555" stroke-width="1"/>
<line x1="355.2" y1="220.3" x2="361.4" y2="222.4" stroke="#555" stroke-width="1"/>
<line x1="403.1" y1="211.2" x2="409.3" y2="213.3" stroke="#555" stroke-width="1"/>
<line x1="451" y1="202.1" x2="457.2" y2="204.2" stroke="#555" stroke-width="1"/>
<line x1="498.9" y1="193" x2="505.1" y2="195.1" stroke="#555" stroke-width="1"/>
<line x1="85.3" y1="181.6" x2="78.9" y2="182.8" stroke="#555" stroke-width="1"/>
<line x1="168.5" y1="208.8" x2="162.1" y2="210" stroke="#555" stroke-width="1"/>
<line x1="251.7" y1="236" x2="245.3" y2="237.2" stroke="#555" stroke-width="1"/>
<line x1="77.6" y1="176.7" x2="72.4" y2="175" stroke="#555" stroke-width="1"/>
<line x1="77.6" y1="133" x2="72.4" y2="131.3" stroke="#555" stroke-width="1"/>
<line x1="77.6" y1="89.3" x2="72.4" y2="87.6" stroke="#555" stroke-width="1"/>
<line x1="77.6" y1="45.6" x2="72.4" y2="43.9" stroke="#555" stroke-width="1"/>
<text x="68.5" y="180.6" font-size="11.5" text-anchor="end">1398.111</text>
<text x="68.5" y="136.9" font-size="11.5" text-anchor="end">1398.112</text>
<text x="68.5" y="93.2" font-size="11.5" text-anchor="end">1398.113</text>
<text x="68.5" y="49.5" font-size="11.5" text-anchor="end">1398.114</text>
<text x="73.3" y="194.3" font-size="11.5" text-anchor="middle">1</text>
<text x="156.9" y="220.8" font-size="11.5" text-anchor="middle">0</text>
<text x="240" y="248.3" font-size="11.5" text-anchor="middle">-1</text>
<text x="270.4" y="251.8" font-size="11.5" text-anchor="middle">0</text>
<text x="322.3" y="243.1" font-size="11.5" text-anchor="middle">10</text>
<text x="370" y="233.9" font-size="11.5" text-anchor="middle">20</text>
<text x="417.7" y="225.3" font-size="11.5" text-anchor="middle">30</text>
<text x="466.2" y="214.5" font-size="11.5" text-anchor="middle">40</text>
<text x="512" y="206.4" font-size="11.5" text-anchor="middle">50</text>
<text x="59.5" y="233.5" font-size="11.5" text-anchor="middle">x 10</text>
<text x="73.5" y="224.3" font-size="8" text-anchor="middle">-4</text>
<text transform="translate(13.4 112.4) rotate(-90)" font-size="12" text-anchor="middle">Cation Concentration (mol/m<tspan dy="-4.5" font-size="8.5">3</tspan><tspan dy="4.5">)</tspan></text>
<text transform="translate(130.5 253) rotate(16.5)" font-size="11.5" text-anchor="middle" font-style="italic">Thickness (m)</text>
<text transform="translate(388 262.5) rotate(-10)" font-size="12" text-anchor="middle">Time (s)</text>
<text class="s" x="448.5" y="29" font-size="23" text-anchor="middle">(a)</text>
<line x1="69.8" y1="464.5" x2="69.8" y2="331" stroke="#dedede" stroke-width="0.9"/>
<line x1="69.8" y1="464.5" x2="258.8" y2="524.9" stroke="#dedede" stroke-width="0.9"/>
<line x1="118" y1="455.2" x2="118" y2="321.7" stroke="#dedede" stroke-width="0.9"/>
<line x1="118" y1="455.2" x2="307" y2="515.6" stroke="#dedede" stroke-width="0.9"/>
<line x1="166.2" y1="445.9" x2="166.2" y2="312.4" stroke="#dedede" stroke-width="0.9"/>
<line x1="166.2" y1="445.9" x2="355.2" y2="506.3" stroke="#dedede" stroke-width="0.9"/>
<line x1="214.4" y1="436.6" x2="214.4" y2="303.1" stroke="#dedede" stroke-width="0.9"/>
<line x1="214.4" y1="436.6" x2="403.4" y2="497" stroke="#dedede" stroke-width="0.9"/>
<line x1="262.6" y1="427.3" x2="262.6" y2="293.8" stroke="#dedede" stroke-width="0.9"/>
<line x1="262.6" y1="427.3" x2="451.6" y2="487.7" stroke="#dedede" stroke-width="0.9"/>
<line x1="310.8" y1="418" x2="310.8" y2="284.5" stroke="#dedede" stroke-width="0.9"/>
<line x1="310.8" y1="418" x2="499.8" y2="478.4" stroke="#dedede" stroke-width="0.9"/>
<line x1="319" y1="420.6" x2="319" y2="287.1" stroke="#dedede" stroke-width="0.9"/>
<line x1="78" y1="467.1" x2="319" y2="420.6" stroke="#dedede" stroke-width="0.9"/>
<line x1="405.3" y1="448.2" x2="405.3" y2="314.7" stroke="#dedede" stroke-width="0.9"/>
<line x1="164.3" y1="494.7" x2="405.3" y2="448.2" stroke="#dedede" stroke-width="0.9"/>
<line x1="491.6" y1="475.8" x2="491.6" y2="342.3" stroke="#dedede" stroke-width="0.9"/>
<line x1="250.6" y1="522.3" x2="491.6" y2="475.8" stroke="#dedede" stroke-width="0.9"/>
<line x1="69.8" y1="463.5" x2="310.8" y2="417" stroke="#dedede" stroke-width="0.9"/>
<line x1="310.8" y1="417" x2="499.8" y2="477.4" stroke="#dedede" stroke-width="0.9"/>
<line x1="69.8" y1="410.5" x2="310.8" y2="364" stroke="#dedede" stroke-width="0.9"/>
<line x1="310.8" y1="364" x2="499.8" y2="424.4" stroke="#dedede" stroke-width="0.9"/>
<line x1="69.8" y1="357.5" x2="310.8" y2="311" stroke="#dedede" stroke-width="0.9"/>
<line x1="310.8" y1="311" x2="499.8" y2="371.4" stroke="#dedede" stroke-width="0.9"/>
<line x1="69.8" y1="331" x2="310.8" y2="284.5" stroke="#dedede" stroke-width="0.9"/>
<line x1="310.8" y1="284.5" x2="499.8" y2="344.9" stroke="#dedede" stroke-width="0.9"/>
<line x1="69.8" y1="331" x2="310.8" y2="284.5" stroke="#dedede" stroke-width="0.9"/>
<line x1="310.8" y1="284.5" x2="499.8" y2="344.9" stroke="#dedede" stroke-width="0.9"/>
<line x1="310.8" y1="418" x2="499.8" y2="478.4" stroke="#dedede" stroke-width="0.9"/>
<line x1="69.8" y1="464.5" x2="310.8" y2="418" stroke="#dedede" stroke-width="0.9"/>
<g>
<path d="M312.7,355.5L319.5,355.9L322,357L315.2,356.6z" fill="#a0ff5f"/>
<path d="M315.2,356.5L322,356.8L324.9,358L318.1,357.7z" fill="#9fff60"/>
<path d="M318.1,357.5L324.8,357.8L328.2,359.2L321.4,359z" fill="#9dff62"/>
<path d="M321.4,358.8L328.1,358.9L331.8,360.5L325.1,360.5z" fill="#9cff63"/>
<path d="M325.1,360.1L331.7,360.1L335.9,361.9L329.2,362z" fill="#9bff64"/>
<path d="M329.1,361.7L335.7,361.5L340.3,363.5L333.7,363.8z" fill="#9f6"/>
<path d="M333.5,363.3L340.1,363L345.1,365.2L338.5,365.6z" fill="#97ff68"/>
<path d="M338.3,365.1L344.7,364.7L350.2,367L343.7,367.5z" fill="#95ff6a"/>
<path d="M343.4,367L349.8,366.4L355.5,368.9L349.2,369.6z" fill="#94ff6b"/>
<path d="M348.8,369L355.1,368.3L361.2,370.9L354.9,371.7z" fill="#91ff6e"/>
<path d="M354.4,371.1L360.7,370.4L367.1,373L360.8,373.9z" fill="#8fff70"/>
<path d="M360.3,373.3L366.5,372.5L373.2,375.2L367,376.2z" fill="#8dff72"/>
<path d="M366.4,375.6L372.6,374.6L379.5,377.4L373.3,378.5z" fill="#8bff74"/>
<path d="M372.7,378L378.9,376.9L386,379.7L379.8,380.9z" fill="#8f7"/>
<path d="M379.2,380.4L385.3,379.2L392.5,382.1L386.3,383.4z" fill="#86ff79"/>
<path d="M385.7,382.8L391.9,381.5L399.1,384.4L393,385.8z" fill="#83ff7c"/>
<path d="M392.4,385.3L398.5,383.9L405.8,386.8L399.6,388.3z" fill="#81ff7e"/>
<path d="M399,387.8L405.2,386.2L412.5,389.1L406.3,390.8z" fill="#7eff81"/>
<path d="M405.7,390.3L411.8,388.6L419.1,391.5L412.9,393.3z" fill="#7cff83"/>
<path d="M412.3,392.8L418.5,391L425.6,393.8L419.5,395.7z" fill="#79ff86"/>
<path d="M418.9,395.2L425.1,393.3L432.1,396.1L425.9,398.1z" fill="#7f8"/>
<path d="M425.3,397.6L431.5,395.6L438.4,398.3L432.2,400.5z" fill="#74ff8b"/>
<path d="M431.6,400L437.8,397.8L444.5,400.5L438.2,402.8z" fill="#72ff8d"/>
<path d="M437.7,402.3L444,400L450.4,402.6L444.1,405z" fill="#70ff8f"/>
<path d="M443.6,404.5L449.9,402.1L456.1,404.6L449.8,407.1z" fill="#6eff91"/>
<path d="M449.3,406.6L455.6,404.1L461.4,406.5L455.1,409.1z" fill="#6bff94"/>
<path d="M454.7,408.6L461,406L466.5,408.3L460.2,411z" fill="#6aff95"/>
<path d="M459.7,410.5L466.1,407.8L471.3,410L464.9,412.8z" fill="#68ff97"/>
<path d="M464.5,412.3L470.9,409.5L475.7,411.6L469.3,414.4z" fill="#6f9"/>
<path d="M468.9,414L475.4,411.1L479.8,413L473.3,415.9z" fill="#64ff9b"/>
<path d="M473,415.5L479.5,412.6L483.4,414.3L476.9,417.3z" fill="#63ff9c"/>
<path d="M476.7,416.9L483.2,413.9L486.7,415.4L480.2,418.5z" fill="#62ff9d"/>
<path d="M479.9,418.1L486.5,415.1L489.6,416.5L483,419.5z" fill="#60ff9f"/>
<path d="M482.8,419.2L489.5,416.2L492.1,417.3L485.5,420.4z" fill="#5fffa0"/>
<path d="M306.5,354.2L313.7,355.7L316.2,356.7L308.9,355.3z" fill="#b3ff54"/>
<path d="M309,355.2L316.2,356.6L319.1,357.7L311.8,356.5z" fill="#b1ff54"/>
<path d="M311.8,356.4L319.1,357.6L322.4,359L315.1,357.8z" fill="#afff55"/>
<path d="M315.1,357.7L322.4,358.8L326,360.3L318.8,359.4z" fill="#acff56"/>
<path d="M318.8,359.2L326,360.1L330.1,361.8L322.9,361.1z" fill="#aaff57"/>
<path d="M322.9,360.8L330.1,361.5L334.5,363.5L327.3,362.9z" fill="#a7ff59"/>
<path d="M327.3,362.6L334.4,363.1L339.3,365.3L332.1,364.9z" fill="#a4ff5b"/>
<path d="M332,364.5L339.1,364.8L344.4,367.2L337.3,367.1z" fill="#a1ff5e"/>
<path d="M337.1,366.5L344.1,366.6L349.8,369.2L342.8,369.3z" fill="#9eff61"/>
<path d="M342.5,368.7L349.4,368.6L355.4,371.3L348.5,371.6z" fill="#9bff64"/>
<path d="M348.2,371L355,370.7L361.3,373.5L354.5,374z" fill="#97ff68"/>
<path d="M354.1,373.4L360.9,372.9L367.4,375.8L360.6,376.4z" fill="#94ff6b"/>
<path d="M360.2,375.8L366.9,375.2L373.7,378.1L367,379z" fill="#90ff6f"/>
<path d="M366.5,378.4L373.2,377.5L380.2,380.5L373.4,381.6z" fill="#8dff72"/>
<path d="M372.9,381L379.6,379.9L386.7,382.9L380,384.2z" fill="#89ff76"/>
<path d="M379.5,383.6L386.2,382.4L393.3,385.4L386.6,386.9z" fill="#85ff7a"/>
<path d="M386.1,386.3L392.8,384.9L400,387.9L393.3,389.5z" fill="#81ff7e"/>
<path d="M392.8,389L399.5,387.3L406.7,390.4L400,392.2z" fill="#7eff81"/>
<path d="M399.4,391.7L406.1,389.8L413.3,392.8L406.6,394.9z" fill="#7aff85"/>
<path d="M406,394.4L412.8,392.3L419.9,395.3L413.1,397.5z" fill="#76ff89"/>
<path d="M412.6,397L419.3,394.7L426.3,397.7L419.6,400.1z" fill="#72ff8d"/>
<path d="M419,399.6L425.8,397.2L432.6,400L425.8,402.7z" fill="#6fff90"/>
<path d="M425.3,402.2L432.1,399.5L438.7,402.3L431.9,405.1z" fill="#6bff94"/>
<path d="M431.4,404.6L438.2,401.8L444.6,404.5L437.8,407.5z" fill="#68ff97"/>
<path d="M437.3,407L444.2,404L450.3,406.6L443.4,409.8z" fill="#64ff9b"/>
<path d="M443,409.3L449.9,406.1L455.7,408.6L448.8,411.9z" fill="#61ff9e"/>
<path d="M448.4,411.5L455.3,408.1L460.7,410.5L453.9,414z" fill="#5effa1"/>
<path d="M453.5,413.5L460.4,410L465.5,412.2L458.6,415.9z" fill="#5bffa4"/>
<path d="M458.2,415.5L465.2,411.8L469.9,413.9L463,417.7z" fill="#59ffa7"/>
<path d="M462.7,417.3L469.6,413.5L474,415.4L467,419.3z" fill="#57ffaa"/>
<path d="M466.7,418.9L473.7,415L477.6,416.7L470.6,420.7z" fill="#56ffac"/>
<path d="M470.4,420.4L477.4,416.4L480.9,417.9L473.9,422z" fill="#55ffaf"/>
<path d="M473.7,421.7L480.7,417.7L483.8,419L476.8,423.2z" fill="#54ffb1"/>
<path d="M476.6,422.9L483.6,418.7L486.3,419.9L479.2,424.2z" fill="#54ffb3"/>
<path d="M300.2,351.5L307.4,354.5L309.9,355.5L302.7,352.6z" fill="#d0ff48"/>
<path d="M302.7,352.6L309.9,355.5L312.8,356.7L305.6,353.9z" fill="#ceff49"/>
<path d="M305.6,353.9L312.8,356.6L316.1,358L308.9,355.4z" fill="#cbff4a"/>
<path d="M308.9,355.3L316.1,357.9L319.8,359.5L312.5,357.1z" fill="#c7ff4b"/>
<path d="M312.6,357L319.8,359.4L323.8,361.1L316.6,358.9z" fill="#c4ff4d"/>
<path d="M316.6,358.8L323.8,360.9L328.2,362.9L321,361z" fill="#c0ff4e"/>
<path d="M321,360.8L328.3,362.6L333,364.8L325.8,363.3z" fill="#bbff50"/>
<path d="M325.8,362.9L333,364.4L338.1,366.8L330.9,365.7z" fill="#b6ff52"/>
<path d="M330.9,365.2L337.9,366.3L343.5,369L336.4,368.2z" fill="#b0ff55"/>
<path d="M336.2,367.6L343.2,368.4L349.1,371.2L342.2,370.8z" fill="#aaff57"/>
<path d="M341.9,370.2L348.8,370.6L355,373.6L348.2,373.4z" fill="#a4ff5b"/>
<path d="M347.8,372.8L354.6,373L361.2,376L354.4,376.2z" fill="#9fff60"/>
<path d="M353.9,375.6L360.7,375.4L367.5,378.6L360.7,379z" fill="#9aff65"/>
<path d="M360.2,378.4L366.9,378L373.9,381.2L367.2,381.9z" fill="#94ff6b"/>
<path d="M366.6,381.3L373.4,380.6L380.5,383.8L373.7,384.8z" fill="#8eff71"/>
<path d="M373.2,384.2L379.9,383.2L387.1,386.4L380.4,387.8z" fill="#8f7"/>
<path d="M379.8,387.2L386.5,385.9L393.7,389.1L387,390.8z" fill="#82ff7d"/>
<path d="M386.5,390.2L393.2,388.5L400.4,391.8L393.7,393.7z" fill="#7dff82"/>
<path d="M393.1,393.2L399.9,391.2L407,394.4L400.3,396.7z" fill="#7f8"/>
<path d="M399.8,396.2L406.5,393.9L413.6,397.1L406.9,399.6z" fill="#71ff8e"/>
<path d="M406.3,399.1L413.1,396.5L420,399.6L413.3,402.5z" fill="#6bff94"/>
<path d="M412.8,402L419.5,399.1L426.3,402.2L419.6,405.3z" fill="#65ff9a"/>
<path d="M419.1,404.8L425.8,401.7L432.4,404.6L425.7,408.1z" fill="#60ff9f"/>
<path d="M425.2,407.6L432,404.1L438.3,407L431.5,410.7z" fill="#5bffa4"/>
<path d="M431.1,410.2L437.9,406.5L444,409.2L437.2,413.2z" fill="#57ffaa"/>
<path d="M436.7,412.8L443.6,408.8L449.4,411.4L442.5,415.6z" fill="#55ffb0"/>
<path d="M442.1,415.2L449,410.9L454.5,413.4L447.6,417.9z" fill="#52ffb6"/>
<path d="M447.2,417.5L454.1,413L459.2,415.3L452.3,420z" fill="#50ffbb"/>
<path d="M452,419.7L458.9,414.9L463.6,417.1L456.7,422z" fill="#4effc0"/>
<path d="M456.4,421.6L463.3,416.7L467.7,418.7L460.8,423.8z" fill="#4dffc4"/>
<path d="M460.5,423.5L467.4,418.4L471.4,420.1L464.4,425.4z" fill="#4bffc7"/>
<path d="M464.1,425.1L471.1,419.8L474.6,421.4L467.7,426.9z" fill="#4affcb"/>
<path d="M467.4,426.6L474.4,421.2L477.5,422.6L470.6,428.2z" fill="#49ffce"/>
<path d="M470.3,428L477.3,422.4L480,423.6L473,429.3z" fill="#48ffd0"/>
<path d="M294.5,347.1L301,352L303.6,353L297,348.3z" fill="#f3ff2a"/>
<path d="M297,348.4L303.5,353.1L306.5,354.3L299.9,349.8z" fill="#f0ff2e"/>
<path d="M299.8,349.8L306.4,354.4L309.8,355.8L303.2,351.4z" fill="#ecff31"/>
<path d="M303.1,351.5L309.7,355.9L313.5,357.4L306.9,353.3z" fill="#e8ff35"/>
<path d="M306.8,353.4L313.4,357.5L317.5,359.2L310.9,355.4z" fill="#e4ff3a"/>
<path d="M310.9,355.5L317.5,359.3L321.9,361.2L315.3,357.7z" fill="#dfff3f"/>
<path d="M315.3,357.7L321.9,361.2L326.7,363.3L320,360.2z" fill="#d9ff44"/>
<path d="M320,360.2L326.7,363.3L331.8,365.6L325.1,363z" fill="#d3ff48"/>
<path d="M325.1,362.8L331.8,365.1L337.2,368L330.6,366.1z" fill="#ccff4a"/>
<path d="M330.5,365.5L336.8,367.3L342.9,370.5L336.5,369.1z" fill="#c3ff4d"/>
<path d="M336.1,368.4L342.3,369.8L348.8,373.1L342.5,372.1z" fill="#bbff50"/>
<path d="M342,371.5L348.2,372.5L354.9,375.8L348.7,375.2z" fill="#b1ff54"/>
<path d="M348.1,374.6L354.3,375.2L361.2,378.6L355,378.5z" fill="#a7ff58"/>
<path d="M354.4,377.8L360.6,378L367.6,381.5L361.5,381.7z" fill="#9eff61"/>
<path d="M360.9,381.1L367,380.9L374.2,384.4L368,385.1z" fill="#96ff69"/>
<path d="M367.4,384.5L373.6,383.8L380.8,387.4L374.6,388.5z" fill="#8dff72"/>
<path d="M374,387.9L380.2,386.8L387.5,390.3L381.3,391.9z" fill="#84ff7b"/>
<path d="M380.7,391.3L386.9,389.8L394.1,393.3L388,395.3z" fill="#7bff84"/>
<path d="M387.4,394.7L393.6,392.7L400.8,396.3L394.6,398.6z" fill="#72ff8d"/>
<path d="M394,398.1L400.2,395.7L407.3,399.2L401.1,402z" fill="#69ff96"/>
<path d="M400.5,401.5L406.8,398.6L413.8,402L407.5,405.3z" fill="#61ff9e"/>
<path d="M407,404.8L413.2,401.5L420.1,404.8L413.8,408.5z" fill="#58ffa7"/>
<path d="M413.3,408L419.5,404.3L426.2,407.5L419.9,411.6z" fill="#54ffb1"/>
<path d="M419.4,411.1L425.7,407.1L432.1,410.2L425.8,414.6z" fill="#50ffbb"/>
<path d="M425.3,414.2L431.6,409.7L437.7,412.7L431.4,417.5z" fill="#4dffc3"/>
<path d="M431,417.1L437.3,412.2L443.1,415.1L436.8,420.2z" fill="#4affcc"/>
<path d="M436.3,419.8L442.7,414.6L448.2,417.3L441.9,422.8z" fill="#48ffd3"/>
<path d="M441.4,422.5L447.8,416.9L452.9,419.4L446.6,425.3z" fill="#46ffda"/>
<path d="M446.2,424.9L452.6,419.1L457.4,421.4L451,427.5z" fill="#44ffe0"/>
<path d="M450.6,427.2L457,421L461.4,423.2L455,429.6z" fill="#42ffe5"/>
<path d="M454.7,429.3L461.1,422.9L465.1,424.8L458.7,431.5z" fill="#41ffea"/>
<path d="M458.4,431.2L464.8,424.5L468.4,426.2L462,433.1z" fill="#40ffee"/>
<path d="M461.7,432.9L468.1,426L471.2,427.5L464.8,434.6z" fill="#40fff1"/>
<path d="M464.6,434.4L471,427.3L473.7,428.6L467.3,435.8z" fill="#3ffff4"/>
<path d="M289.7,341.4L295.1,347.8L297.8,349L292.3,342.8z" fill="#ffdf1f"/>
<path d="M292.2,342.9L297.6,349.1L300.7,350.4L295.2,344.5z" fill="#ffe41f"/>
<path d="M295.1,344.6L300.5,350.6L303.9,352.1L298.5,346.4z" fill="#ffe91f"/>
<path d="M298.4,346.5L303.7,352.2L307.6,354L302.2,348.6z" fill="#ffef1f"/>
<path d="M302,348.7L307.4,354.1L311.7,356L306.3,350.9z" fill="#fff51f"/>
<path d="M306.1,351.1L311.4,356.2L316.1,358.3L310.8,353.5z" fill="#fffd1f"/>
<path d="M310.5,353.7L315.7,358.5L320.9,360.7L315.6,356.3z" fill="#faff24"/>
<path d="M315.2,356.5L320.3,360.9L326,363.3L321,359.3z" fill="#f1ff2c"/>
<path d="M320.3,359.5L325.1,363.2L331.4,366L326.6,363z" fill="#e8ff35"/>
<path d="M325.7,362.6L330.5,365.6L337,368.9L332.2,366.5z" fill="#dfff3f"/>
<path d="M331.3,366L336.2,368.3L343,371.9L338,370z" fill="#d5ff47"/>
<path d="M337.2,369.4L342.2,371.3L349.1,375L344.1,373.6z" fill="#c9ff4b"/>
<path d="M343.3,373L348.3,374.4L355.4,378.2L350.4,377.3z" fill="#bcff50"/>
<path d="M349.6,376.7L354.6,377.5L361.8,381.4L356.8,381.1z" fill="#adff56"/>
<path d="M356.1,380.5L361.1,380.8L368.4,384.7L363.3,385z" fill="#9fff60"/>
<path d="M362.6,384.4L367.7,384.1L375,388.1L369.9,388.9z" fill="#93ff6c"/>
<path d="M369.2,388.3L374.3,387.5L381.7,391.5L376.6,392.8z" fill="#86ff79"/>
<path d="M375.9,392.2L381,390.9L388.4,394.9L383.2,396.7z" fill="#79ff86"/>
<path d="M382.6,396.1L387.7,394.3L395,398.2L389.8,400.6z" fill="#6cff93"/>
<path d="M389.2,400L394.3,397.7L401.5,401.5L396.4,404.4z" fill="#60ff9f"/>
<path d="M395.7,403.9L400.9,401L408,404.8L402.8,408.2z" fill="#56ffad"/>
<path d="M402.2,407.7L407.4,404.3L414.3,408L409.1,411.9z" fill="#50ffbc"/>
<path d="M408.5,411.4L413.7,407.5L420.4,411.1L415.2,415.4z" fill="#4bffc9"/>
<path d="M414.6,415L419.8,410.6L426.3,414.1L421,418.9z" fill="#47ffd5"/>
<path d="M420.5,418.5L425.7,413.6L431.9,416.9L426.7,422.2z" fill="#44ffe0"/>
<path d="M426.1,421.8L431.4,416.5L437.3,419.6L432.1,425.4z" fill="#42ffea"/>
<path d="M431.5,425L436.8,419.2L442.4,422.2L437.1,428.3z" fill="#40fff3"/>
<path d="M436.6,428L441.9,421.8L447.2,424.6L441.9,431.1z" fill="#3ffffa"/>
<path d="M441.4,430.8L446.7,424.3L451.6,426.8L446.3,433.7z" fill="#40fdff"/>
<path d="M445.8,433.4L451.1,426.5L455.6,428.9L450.3,436.1z" fill="#46f7ff"/>
<path d="M449.9,435.8L455.2,428.6L459.3,430.7L453.9,438.2z" fill="#4bf2ff"/>
<path d="M453.6,438L458.9,430.5L462.5,432.4L457.2,440.2z" fill="#50eeff"/>
<path d="M456.9,440L462.2,432.2L465.4,433.8L460.1,441.9z" fill="#54eaff"/>
<path d="M459.8,441.7L465.1,433.6L467.9,435.1L462.6,443.3z" fill="#58e7ff"/>
<path d="M286.4,336L290.2,342.3L292.9,343.6L289.1,337.5z" fill="#ffb11f"/>
<path d="M288.9,337.6L292.6,343.7L295.8,345.3L292,339.4z" fill="#ffb71f"/>
<path d="M291.7,339.5L295.5,345.4L299.1,347.2L295.4,341.5z" fill="#ffbe1f"/>
<path d="M295,341.7L298.7,347.4L302.8,349.4L299.1,343.9z" fill="#ffc61f"/>
<path d="M298.7,344.1L302.3,349.5L306.8,351.7L303.3,346.6z" fill="#ffce1f"/>
<path d="M302.7,346.8L306.2,351.8L311.3,354.3L307.8,349.6z" fill="#ffd81f"/>
<path d="M307.1,349.7L310.5,354.3L316,357.1L312.7,352.9z" fill="#ffe21f"/>
<path d="M311.9,352.8L315.2,356.9L321.1,360L317.9,356.4z" fill="#ffed1f"/>
<path d="M317,356.2L320.2,359.7L326.5,363.2L323.2,360.1z" fill="#fff91f"/>
<path d="M322.3,359.7L325.6,362.8L332.2,366.5L328.9,363.9z" fill="#f9ff25"/>
<path d="M328,363.4L331.3,366L338.1,369.9L334.7,367.8z" fill="#ecff32"/>
<path d="M333.9,367.3L337.3,369.4L344.2,373.5L340.8,371.9z" fill="#dfff45"/>
<path d="M340,371.3L343.4,372.9L350.5,377.2L347.1,376z" fill="#d0ff4a"/>
<path d="M346.3,375.5L349.7,376.6L357,380.9L353.5,380.3z" fill="#beff50"/>
<path d="M352.7,379.7L356.2,380.3L363.5,384.7L360,384.6z" fill="#abff57"/>
<path d="M359.3,384L362.8,384.1L370.2,388.6L366.6,389z" fill="#9f6"/>
<path d="M365.9,388.4L369.4,388L376.9,392.5L373.3,393.4z" fill="#8f7"/>
<path d="M372.5,392.8L376.1,391.9L383.5,396.3L379.9,397.7z" fill="#7f8"/>
<path d="M379.2,397.2L382.8,395.8L390.2,400.2L386.5,402.1z" fill="#6f9"/>
<path d="M385.8,401.6L389.4,399.6L396.7,404L393.1,406.4z" fill="#57ffab"/>
<path d="M392.4,405.9L396,403.5L403.2,407.8L399.5,410.6z" fill="#50ffbe"/>
<path d="M398.8,410.1L402.5,407.2L409.5,411.4L405.8,414.8z" fill="#4affd0"/>
<path d="M405.1,414.3L408.8,410.9L415.6,415L411.9,418.8z" fill="#45ffdf"/>
<path d="M411.2,418.3L414.9,414.5L421.5,418.4L417.8,422.7z" fill="#42ffed"/>
<path d="M417.1,422.2L420.8,417.9L427.1,421.7L423.4,426.4z" fill="#40fffa"/>
<path d="M422.8,426L426.5,421.2L432.5,424.8L428.8,429.9z" fill="#45faff"/>
<path d="M428.1,429.5L431.9,424.4L437.6,427.7L433.8,433.3z" fill="#4ef1ff"/>
<path d="M433.2,432.9L437,427.4L442.3,430.5L438.6,436.4z" fill="#57e9ff"/>
<path d="M438,436.1L441.8,430.1L446.7,433L443,439.3z" fill="#5fe3ff"/>
<path d="M442.4,439L446.2,432.7L450.8,435.4L447,442z" fill="#67deff"/>
<path d="M446.5,441.7L450.3,435.1L454.5,437.5L450.7,444.4z" fill="#6edaff"/>
<path d="M450.2,444.1L454,437.2L457.7,439.4L453.9,446.5z" fill="#74d7ff"/>
<path d="M453.5,446.3L457.3,439.2L460.6,441.1L456.8,448.4z" fill="#7ad4ff"/>
<path d="M456.4,448.3L460.2,440.9L463.1,442.5L459.3,450.1z" fill="#7ed2ff"/>
<path d="M284,330.6L286.7,336.8L289.5,338.4L286.8,332.3z" fill="#ff861f"/>
<path d="M286.5,332.4L289.1,338.5L292.4,340.3L289.8,334.4z" fill="#ff8d1f"/>
<path d="M289.4,334.5L291.9,340.3L295.7,342.4L293.1,336.8z" fill="#ff951f"/>
<path d="M292.6,336.9L295.1,342.5L299.4,344.8L296.9,339.5z" fill="#ff9f1f"/>
<path d="M296.3,339.6L298.7,344.8L303.4,347.5L301.1,342.6z" fill="#ffaa1f"/>
<path d="M300.3,342.5L302.7,347.3L307.9,350.4L305.6,345.9z" fill="#ffb51f"/>
<path d="M304.8,345.7L307,350.1L312.6,353.5L310.4,349.5z" fill="#ffc21f"/>
<path d="M309.5,349.2L311.8,353.1L317.7,356.8L315.5,353.2z" fill="#ffcf1f"/>
<path d="M314.6,352.9L316.9,356.4L323.1,360.3L320.8,357.2z" fill="#ffde1f"/>
<path d="M320,356.8L322.3,359.8L328.8,364L326.5,361.4z" fill="#ffed1f"/>
<path d="M325.6,360.9L328,363.5L334.7,367.9L332.3,365.7z" fill="#fffd1f"/>
<path d="M331.5,365.1L333.9,367.3L340.8,371.9L338.4,370.1z" fill="#f1ff2d"/>
<path d="M337.6,369.6L340,371.3L347.1,376L344.7,374.7z" fill="#e1ff49"/>
<path d="M343.9,374.1L346.3,375.4L353.6,380.2L351.1,379.4z" fill="#ceff4e"/>
<path d="M350.3,378.8L352.8,379.6L360.2,384.5L357.7,384.2z" fill="#b7ff55"/>
<path d="M356.9,383.6L359.4,383.9L366.8,388.8L364.3,389z" fill="#9fff60"/>
<path d="M363.5,388.4L366,388.2L373.5,393.2L370.9,393.8z" fill="#8aff75"/>
<path d="M370.1,393.2L372.7,392.6L380.1,397.5L377.6,398.6z" fill="#75ff8a"/>
<path d="M376.8,398L379.4,396.9L386.8,401.8L384.2,403.4z" fill="#60ff9f"/>
<path d="M383.4,402.9L386,401.3L393.3,406.1L390.7,408.2z" fill="#55ffb7"/>
<path d="M390,407.6L392.6,405.6L399.8,410.3L397.1,412.8z" fill="#4effce"/>
<path d="M396.4,412.3L399,409.8L406.1,414.4L403.4,417.4z" fill="#49ffe1"/>
<path d="M402.7,416.9L405.3,413.9L412.2,418.4L409.5,421.8z" fill="#47fff2"/>
<path d="M408.8,421.3L411.5,417.9L418.1,422.2L415.4,426.1z" fill="#49fdff"/>
<path d="M414.7,425.6L417.4,421.8L423.8,425.9L421,430.2z" fill="#56f1ff"/>
<path d="M420.3,429.8L423.1,425.5L429.1,429.4L426.4,434.1z" fill="#64e8ff"/>
<path d="M425.7,433.7L428.5,429L434.2,432.7L431.5,437.8z" fill="#70e1ff"/>
<path d="M430.8,437.4L433.6,432.3L439,435.8L436.2,441.2z" fill="#7cdbff"/>
<path d="M435.6,440.9L438.4,435.4L443.4,438.7L440.6,444.4z" fill="#87d8ff"/>
<path d="M440,444.1L442.8,438.3L447.4,441.3L444.6,447.4z" fill="#91d5ff"/>
<path d="M444.1,447.1L446.9,441L451.1,443.7L448.3,450z" fill="#9ad4ff"/>
<path d="M447.8,449.8L450.6,443.4L454.3,445.8L451.6,452.4z" fill="#a3d4ff"/>
<path d="M451.1,452.2L453.9,445.5L457.2,447.6L454.4,454.5z" fill="#a8d3ff"/>
<path d="M454,454.3L456.8,447.4L459.7,449.2L456.9,456.3z" fill="#a8d0ff"/>
<path d="M282.1,323.7L284.2,331.5L287,333.3L284.9,325.6z" fill="#ff561f"/>
<path d="M284.6,325.7L286.7,333.3L289.9,335.4L287.9,328z" fill="#ff5f1f"/>
<path d="M287.5,328L289.5,335.4L293.2,337.7L291.2,330.7z" fill="#ff691f"/>
<path d="M290.8,330.7L292.7,337.7L296.9,340.4L295,333.7z" fill="#ff741f"/>
<path d="M294.4,333.7L296.3,340.4L301,343.3L299.1,337z" fill="#ff811f"/>
<path d="M298.5,337L300.3,343.2L305.4,346.5L303.6,340.6z" fill="#ff8f1f"/>
<path d="M302.9,340.5L304.7,346.3L310.2,349.9L308.4,344.6z" fill="#ff9e1f"/>
<path d="M307.6,344.4L309.4,349.7L315.3,353.6L313.5,348.8z" fill="#ffaf1f"/>
<path d="M312.7,348.5L314.5,353.2L320.7,357.5L318.9,353.3z" fill="#ffc01f"/>
<path d="M318.1,352.9L319.8,357L326.4,361.5L324.6,357.9z" fill="#ffd21f"/>
<path d="M323.7,357.4L325.5,361L332.3,365.8L330.4,362.7z" fill="#ffe51f"/>
<path d="M329.6,362.2L331.4,365.3L338.4,370.2L336.5,367.7z" fill="#fff91f"/>
<path d="M335.7,367.2L337.6,369.6L344.7,374.7L342.8,372.9z" fill="#f0ff2d"/>
<path d="M342,372.3L343.9,374.1L351.2,379.4L349.2,378.1z" fill="#dbff43"/>
<path d="M348.4,377.5L350.4,378.8L357.7,384.1L355.7,383.4z" fill="#c7ff5c"/>
<path d="M355,382.8L356.9,383.5L364.4,388.9L362.3,388.8z" fill="#a9ff61"/>
<path d="M361.6,388.1L363.6,388.2L371,393.7L369,394.2z" fill="#8cff73"/>
<path d="M368.2,393.5L370.3,393L377.7,398.5L375.6,399.6z" fill="#73ff8c"/>
<path d="M374.9,399L377,397.8L384.3,403.2L382.2,404.9z" fill="#61ffa9"/>
<path d="M381.5,404.3L383.6,402.6L390.9,407.9L388.8,410.2z" fill="#5cffc7"/>
<path d="M388,409.6L390.2,407.3L397.4,412.6L395.2,415.4z" fill="#5bffe0"/>
<path d="M394.5,414.9L396.6,412L403.7,417.1L401.5,420.5z" fill="#5ffff4"/>
<path d="M400.8,420L402.9,416.5L409.8,421.5L407.6,425.5z" fill="#6bfbff"/>
<path d="M406.9,425L409.1,420.9L415.7,425.7L413.5,430.2z" fill="#82f1ff"/>
<path d="M412.8,429.8L415,425.2L421.3,429.7L419.1,434.8z" fill="#98eaff"/>
<path d="M418.4,434.4L420.7,429.3L426.7,433.6L424.5,439.2z" fill="#a8e7ff"/>
<path d="M423.8,438.8L426.1,433.2L431.8,437.2L429.5,443.3z" fill="#a8e0ff"/>
<path d="M428.9,442.9L431.2,436.8L436.6,440.6L434.3,447.1z" fill="#a8daff"/>
<path d="M433.7,446.8L435.9,440.3L441,443.7L438.7,450.7z" fill="#a8d4ff"/>
<path d="M438.1,450.4L440.4,443.5L445,446.6L442.7,454z" fill="#a8ceff"/>
<path d="M442.2,453.8L444.5,446.4L448.6,449.2L446.4,456.9z" fill="#a8c9ff"/>
<path d="M445.9,456.8L448.2,449L451.9,451.6L449.7,459.6z" fill="#a8c5ff"/>
<path d="M449.2,459.5L451.5,451.4L454.7,453.6L452.5,461.9z" fill="#a8c1ff"/>
<path d="M452.2,461.8L454.4,453.5L457.2,455.4L455,463.9z" fill="#a8beff"/>
<path d="M281,315.3L282.3,324.6L285,326.6L283.8,317.6z" fill="#fc1f1f"/>
<path d="M283.5,317.6L284.7,326.6L287.9,328.9L286.7,320.2z" fill="#ff271f"/>
<path d="M286.3,320.2L287.6,328.9L291.2,331.6L290,323.2z" fill="#ff331f"/>
<path d="M289.6,323.2L290.8,331.6L294.9,334.5L293.8,326.6z" fill="#ff411f"/>
<path d="M293.3,326.5L294.4,334.5L299,337.8L297.9,330.3z" fill="#ff501f"/>
<path d="M297.3,330.2L298.4,337.7L303.4,341.4L302.4,334.4z" fill="#ff611f"/>
<path d="M301.7,334.2L302.8,341.2L308.2,345.2L307.2,338.8z" fill="#ff731f"/>
<path d="M306.5,338.6L307.5,345L313.3,349.3L312.3,343.5z" fill="#ff871f"/>
<path d="M311.5,343.2L312.5,349L318.7,353.6L317.7,348.5z" fill="#ff9c1f"/>
<path d="M316.9,348.1L317.9,353.2L324.4,358.2L323.4,353.7z" fill="#ffb21f"/>
<path d="M322.6,353.2L323.6,357.7L330.3,362.9L329.2,359.1z" fill="#ffc91f"/>
<path d="M328.4,358.6L329.5,362.4L336.4,367.9L335.3,364.7z" fill="#ffe11f"/>
<path d="M334.5,364.1L335.6,367.3L342.7,372.9L341.6,370.5z" fill="#fffa1f"/>
<path d="M340.8,369.8L342,372.3L349.2,378.1L348,376.3z" fill="#ebff33"/>
<path d="M347.3,375.7L348.4,377.5L355.8,383.4L354.6,382.3z" fill="#d1ff4d"/>
<path d="M353.8,381.7L355,382.7L362.4,388.7L361.2,388.3z" fill="#bbff70"/>
<path d="M360.4,387.7L361.6,388.1L369.1,394.1L367.8,394.4z" fill="#8fff70"/>
<path d="M367.1,393.7L368.3,393.4L375.8,399.4L374.4,400.4z" fill="#70ff8f"/>
<path d="M373.7,399.8L375,398.8L382.4,404.8L381.1,406.5z" fill="#70ffbb"/>
<path d="M380.3,405.8L381.7,404.1L389,410L387.6,412.4z" fill="#7cffdd"/>
<path d="M386.8,411.8L388.2,409.4L395.4,415.2L394,418.3z" fill="#93fff4"/>
<path d="M393.3,417.7L394.7,414.6L401.7,420.2L400.3,424z" fill="#a8fdff"/>
<path d="M399.6,423.4L401,419.7L407.9,425.1L406.4,429.5z" fill="#a8f3ff"/>
<path d="M405.7,429L407.1,424.6L413.8,429.8L412.3,434.9z" fill="#a8eaff"/>
<path d="M411.6,434.4L413,429.3L419.4,434.3L417.9,440z" fill="#a8e1ff"/>
<path d="M417.2,439.6L418.7,433.9L424.8,438.6L423.3,444.9z" fill="#a8d9ff"/>
<path d="M422.6,444.6L424.1,438.2L429.9,442.7L428.4,449.5z" fill="#a8d1ff"/>
<path d="M427.7,449.2L429.2,442.3L434.6,446.4L433.1,453.8z" fill="#a8c9ff"/>
<path d="M432.5,453.6L434,446.2L439,450L437.5,457.9z" fill="#a8c2ff"/>
<path d="M437,457.7L438.4,449.7L443,453.2L441.5,461.5z" fill="#a8bbff"/>
<path d="M441,461.4L442.5,453L446.7,456.1L445.2,464.9z" fill="#a8b6ff"/>
<path d="M444.8,464.8L446.2,456L449.9,458.7L448.5,467.9z" fill="#a8b0ff"/>
<path d="M448.1,467.8L449.5,458.6L452.8,461L451.4,470.5z" fill="#a8abff"/>
<path d="M451,470.4L452.4,460.9L455.2,463L453.8,472.7z" fill="#a8a8fe"/>
<path d="M280.3,306.6L281,316.3L283.8,318.5L283.1,309.1z" fill="#bc1f1f"/>
<path d="M282.8,309.1L283.5,318.5L286.7,321.2L286,312z" fill="#c91f1f"/>
<path d="M285.6,312L286.3,321.1L290,324.1L289.3,315.4z" fill="#d81f1f"/>
<path d="M288.9,315.3L289.5,324.1L293.7,327.5L293.1,319.1z" fill="#e81f1f"/>
<path d="M292.6,319.1L293.2,327.4L297.8,331.1L297.2,323.3z" fill="#fb1f1f"/>
<path d="M296.6,323.2L297.2,331L302.2,335.1L301.7,327.8z" fill="#ff2e1f"/>
<path d="M301,327.6L301.5,334.9L307,339.4L306.5,332.7z" fill="#ff441f"/>
<path d="M305.8,332.4L306.3,339.1L312.1,344L311.6,337.9z" fill="#ff5b1f"/>
<path d="M310.9,337.6L311.3,343.6L317.5,348.9L317,343.5z" fill="#ff741f"/>
<path d="M316.2,343L316.7,348.4L323.1,354L322.6,349.2z" fill="#ff8e1f"/>
<path d="M321.9,348.7L322.4,353.5L329.1,359.4L328.5,355.3z" fill="#ffaa1f"/>
<path d="M327.8,354.7L328.3,358.8L335.2,364.9L334.6,361.5z" fill="#ffc61f"/>
<path d="M333.9,360.9L334.4,364.3L341.5,370.6L340.9,367.9z" fill="#ffe41f"/>
<path d="M340.1,367.2L340.8,369.9L348,376.4L347.3,374.4z" fill="#fcff21"/>
<path d="M346.6,373.8L347.2,375.7L354.5,382.3L353.8,381.1z" fill="#ddff40"/>
<path d="M353.1,380.4L353.8,381.7L361.2,388.3L360.4,387.8z" fill="#beff60"/>
<path d="M359.7,387.1L360.4,387.6L367.8,394.3L367.1,394.5z" fill="#97ff76"/>
<path d="M366.4,393.8L367.1,393.7L374.5,400.4L373.7,401.3z" fill="#76ff97"/>
<path d="M373,400.6L373.8,399.7L381.2,406.3L380.3,408z" fill="#8effd1"/>
<path d="M379.6,407.3L380.5,405.7L387.7,412.3L386.9,414.6z" fill="#b5fff2"/>
<path d="M386.1,413.9L387,411.6L394.2,418.1L393.3,421.1z" fill="#a9fffe"/>
<path d="M392.6,420.5L393.5,417.4L400.5,423.7L399.6,427.5z" fill="#a8f4ff"/>
<path d="M398.8,426.9L399.8,423.1L406.6,429.2L405.7,433.7z" fill="#a8e9ff"/>
<path d="M404.9,433.1L405.9,428.6L412.6,434.5L411.6,439.6z" fill="#a8deff"/>
<path d="M410.8,439.1L411.8,434L418.2,439.6L417.2,445.3z" fill="#a8d4ff"/>
<path d="M416.5,444.9L417.5,439.1L423.6,444.4L422.6,450.8z" fill="#a8c9ff"/>
<path d="M421.9,450.4L422.9,444L428.7,448.9L427.6,455.9z" fill="#a8c0ff"/>
<path d="M427,455.6L428,448.6L433.4,453.2L432.4,460.7z" fill="#a8b7ff"/>
<path d="M431.8,460.5L432.8,452.9L437.8,457.1L436.8,465.2z" fill="#a8aeff"/>
<path d="M436.2,465L437.2,456.9L441.8,460.7L440.8,469.3z" fill="#a8a8fd"/>
<path d="M440.3,469.2L441.3,460.6L445.4,464L444.5,473z" fill="#a8a8f6"/>
<path d="M444.1,472.9L445,463.9L448.7,467L447.8,476.3z" fill="#a8a8f0"/>
<path d="M447.4,476.3L448.3,466.9L451.5,469.6L450.6,479.2z" fill="#a8a8ea"/>
<path d="M450.3,479.2L451.2,469.5L454,471.8L453.1,481.8z" fill="#a8a8e5"/>
<path d="M272.7,308.4L280.8,306.7L283.4,309.6L275.3,311.3z" fill="#8e0000"/>
<path d="M275.2,310.9L283.3,309.2L286.3,312.6L278.2,314.2z" fill="#9e0000"/>
<path d="M278.1,313.8L286.1,312.1L289.6,315.9L281.6,317.6z" fill="#b00000"/>
<path d="M281.4,317.1L289.4,315.4L293.3,319.6L285.3,321.3z" fill="#c40000"/>
<path d="M285.1,320.8L293,319.1L297.3,323.7L289.4,325.4z" fill="#db0000"/>
<path d="M289.1,324.9L297.1,323.2L301.7,328.2L293.8,329.9z" fill="#f30000"/>
<path d="M293.5,329.3L301.4,327.6L306.5,333L298.6,334.7z" fill="#ff0f00"/>
<path d="M298.3,334.1L306.2,332.4L311.6,338.2L303.7,339.9z" fill="#ff2c00"/>
<path d="M303.4,339.3L311.2,337.5L317,343.6L309.1,345.3z" fill="#ff4a00"/>
<path d="M308.8,344.7L316.6,343L322.6,349.3L314.8,351z" fill="#ff6a00"/>
<path d="M314.4,350.4L322.2,348.7L328.5,355.3L320.7,357z" fill="#ff8c00"/>
<path d="M320.3,356.3L328.1,354.6L334.6,361.4L326.9,363.2z" fill="#ffaf00"/>
<path d="M326.5,362.5L334.2,360.8L340.9,367.8L333.2,369.5z" fill="#ffd300"/>
<path d="M332.8,368.9L340.5,367.1L347.4,374.3L339.6,376z" fill="#fff800"/>
<path d="M339.2,375.4L346.9,373.6L353.9,380.9L346.2,382.6z" fill="#e0ff1f"/>
<path d="M345.8,382L353.5,380.2L360.5,387.6L352.8,389.3z" fill="#baff45"/>
<path d="M352.4,388.7L360.1,386.9L367.2,394.3L359.5,396.1z" fill="#93ff6c"/>
<path d="M359,395.4L366.8,393.7L373.9,401.1L366.1,402.8z" fill="#6cff93"/>
<path d="M365.7,402.1L373.4,400.4L380.5,407.8L372.8,409.5z" fill="#45ffba"/>
<path d="M372.3,408.8L380.1,407.1L387,414.4L379.3,416.1z" fill="#1fffe0"/>
<path d="M378.9,415.4L386.6,413.7L393.5,420.9L385.7,422.6z" fill="#00f8ff"/>
<path d="M385.3,421.9L393.1,420.2L399.8,427.2L392,428.9z" fill="#00d3ff"/>
<path d="M391.6,428.3L399.4,426.5L405.9,433.4L398.1,435.1z" fill="#00afff"/>
<path d="M397.7,434.4L405.5,432.7L411.8,439.3L404,441.1z" fill="#008cff"/>
<path d="M403.6,440.4L411.4,438.7L417.5,445L409.7,446.8z" fill="#006aff"/>
<path d="M409.3,446.1L417.1,444.4L422.9,450.5L415,452.2z" fill="#004aff"/>
<path d="M414.7,451.6L422.5,449.8L427.9,455.6L420.1,457.3z" fill="#002cff"/>
<path d="M419.7,456.7L427.6,455L432.7,460.4L424.8,462.1z" fill="#000fff"/>
<path d="M424.5,461.5L432.4,459.8L437.1,464.8L429.2,466.6z" fill="#0000f3"/>
<path d="M428.9,466L436.9,464.3L441.2,468.9L433.2,470.6z" fill="#0000db"/>
<path d="M433,470.1L441,468.4L444.9,472.6L436.9,474.3z" fill="#0000c4"/>
<path d="M436.7,473.8L444.7,472.1L448.2,475.9L440.1,477.6z" fill="#0000b0"/>
<path d="M439.9,477.2L448,475.5L451,478.8L443,480.5z" fill="#00009e"/>
<path d="M442.8,480.1L450.9,478.4L453.5,481.3L445.4,483z" fill="#00008e"/>
<path d="M265.5,309.8L273.6,308.1L276.2,311L268.1,312.7z" fill="#8e0000"/>
<path d="M268,312.3L276.1,310.6L279.1,314L271,315.6z" fill="#9e0000"/>
<path d="M270.9,315.2L278.9,313.5L282.4,317.3L274.3,319z" fill="#b00000"/>
<path d="M274.2,318.5L282.2,316.8L286,321L278,322.7z" fill="#c40000"/>
<path d="M277.8,322.2L285.8,320.5L290.1,325.1L282.1,326.8z" fill="#db0000"/>
<path d="M281.9,326.3L289.8,324.6L294.5,329.6L286.6,331.3z" fill="#f30000"/>
<path d="M286.3,330.7L294.2,329L299.3,334.4L291.4,336.1z" fill="#ff0f00"/>
<path d="M291.1,335.5L298.9,333.8L304.4,339.5L296.5,341.3z" fill="#ff2c00"/>
<path d="M296.2,340.6L304,338.9L309.7,345L301.9,346.7z" fill="#ff4a00"/>
<path d="M301.6,346.1L309.4,344.4L315.4,350.7L307.6,352.4z" fill="#ff6a00"/>
<path d="M307.2,351.8L315,350.1L321.3,356.7L313.5,358.4z" fill="#ff8c00"/>
<path d="M313.1,357.7L320.9,356L327.4,362.8L319.6,364.6z" fill="#ffaf00"/>
<path d="M319.2,363.9L327,362.2L333.7,369.2L325.9,370.9z" fill="#ffd300"/>
<path d="M325.5,370.2L333.3,368.5L340.1,375.7L332.4,377.4z" fill="#fff800"/>
<path d="M332,376.7L339.7,375L346.7,382.3L338.9,384z" fill="#e0ff1f"/>
<path d="M338.5,383.4L346.3,381.6L353.3,389L345.6,390.7z" fill="#baff45"/>
<path d="M345.1,390L352.9,388.3L360,395.7L352.2,397.5z" fill="#93ff6c"/>
<path d="M351.8,396.8L359.5,395.1L366.6,402.5L358.9,404.2z" fill="#6cff93"/>
<path d="M358.5,403.5L366.2,401.8L373.3,409.1L365.5,410.9z" fill="#45ffba"/>
<path d="M365.1,410.2L372.8,408.5L379.8,415.8L372.1,417.5z" fill="#1fffe0"/>
<path d="M371.7,416.8L379.4,415.1L386.3,422.3L378.5,424z" fill="#00f8ff"/>
<path d="M378.1,423.3L385.9,421.6L392.6,428.6L384.8,430.3z" fill="#00d3ff"/>
<path d="M384.4,429.7L392.2,427.9L398.7,434.8L390.9,436.5z" fill="#00afff"/>
<path d="M390.5,435.8L398.3,434.1L404.6,440.7L396.8,442.5z" fill="#008cff"/>
<path d="M396.4,441.8L404.2,440.1L410.2,446.4L402.4,448.2z" fill="#006aff"/>
<path d="M402.1,447.5L409.9,445.8L415.6,451.9L407.8,453.6z" fill="#004aff"/>
<path d="M407.4,453L415.3,451.2L420.7,457L412.8,458.7z" fill="#002cff"/>
<path d="M412.5,458.1L420.4,456.4L425.5,461.8L417.6,463.5z" fill="#000fff"/>
<path d="M417.3,462.9L425.2,461.2L429.9,466.2L422,468z" fill="#0000f3"/>
<path d="M421.7,467.4L429.7,465.7L434,470.3L426,472z" fill="#0000db"/>
<path d="M425.7,471.5L433.8,469.8L437.6,474L429.6,475.7z" fill="#0000c4"/>
<path d="M429.4,475.2L437.5,473.5L440.9,477.3L432.9,479z" fill="#0000b0"/>
<path d="M432.7,478.6L440.8,476.9L443.8,480.2L435.7,481.9z" fill="#00009e"/>
<path d="M435.6,481.5L443.7,479.8L446.3,482.7L438.2,484.4z" fill="#00008e"/>
<path d="M258.3,311.2L266.4,309.5L269,312.4L260.8,314.1z" fill="#8e0000"/>
<path d="M260.7,313.7L268.8,312L271.8,315.4L263.8,317z" fill="#9e0000"/>
<path d="M263.6,316.6L271.7,314.9L275.1,318.7L267.1,320.4z" fill="#b00000"/>
<path d="M266.9,319.9L274.9,318.2L278.8,322.4L270.8,324.1z" fill="#c40000"/>
<path d="M270.6,323.6L278.6,321.9L282.9,326.5L274.9,328.2z" fill="#db0000"/>
<path d="M274.7,327.7L282.6,326L287.3,331L279.3,332.7z" fill="#f30000"/>
<path d="M279.1,332.1L287,330.4L292,335.8L284.1,337.5z" fill="#ff0f00"/>
<path d="M283.8,336.9L291.7,335.2L297.1,340.9L289.3,342.7z" fill="#ff2c00"/>
<path d="M288.9,342L296.8,340.3L302.5,346.4L294.7,348.1z" fill="#ff4a00"/>
<path d="M294.3,347.5L302.1,345.7L308.2,352.1L300.3,353.8z" fill="#ff6a00"/>
<path d="M300,353.2L307.8,351.5L314.1,358.1L306.3,359.8z" fill="#ff8c00"/>
<path d="M305.9,359.1L313.7,357.4L320.2,364.2L312.4,366z" fill="#ffaf00"/>
<path d="M312,365.3L319.8,363.6L326.5,370.6L318.7,372.3z" fill="#ffd300"/>
<path d="M318.3,371.6L326,369.9L332.9,377.1L325.2,378.8z" fill="#fff800"/>
<path d="M324.7,378.1L332.5,376.4L339.5,383.7L331.7,385.4z" fill="#e0ff1f"/>
<path d="M331.3,384.8L339,383L346.1,390.4L338.3,392.1z" fill="#baff45"/>
<path d="M337.9,391.4L345.6,389.7L352.7,397.1L345,398.8z" fill="#93ff6c"/>
<path d="M344.6,398.2L352.3,396.5L359.4,403.9L351.7,405.6z" fill="#6cff93"/>
<path d="M351.2,404.9L359,403.2L366,410.5L358.3,412.3z" fill="#45ffba"/>
<path d="M357.9,411.6L365.6,409.9L372.6,417.2L364.8,418.9z" fill="#1fffe0"/>
<path d="M364.4,418.2L372.2,416.5L379,423.7L371.3,425.4z" fill="#00f8ff"/>
<path d="M370.9,424.7L378.6,423L385.3,430L377.6,431.7z" fill="#00d3ff"/>
<path d="M377.2,431.1L384.9,429.3L391.4,436.2L383.7,437.9z" fill="#00afff"/>
<path d="M383.3,437.2L391.1,435.5L397.3,442.1L389.6,443.8z" fill="#008cff"/>
<path d="M389.2,443.2L397,441.5L403,447.8L395.2,449.6z" fill="#006aff"/>
<path d="M394.8,448.9L402.7,447.2L408.4,453.3L400.6,455z" fill="#004aff"/>
<path d="M400.2,454.4L408.1,452.6L413.5,458.4L405.6,460.1z" fill="#002cff"/>
<path d="M405.3,459.5L413.2,457.8L418.2,463.2L410.3,464.9z" fill="#000fff"/>
<path d="M410,464.3L418,462.6L422.7,467.6L414.7,469.3z" fill="#0000f3"/>
<path d="M414.5,468.8L422.4,467.1L426.7,471.7L418.8,473.4z" fill="#0000db"/>
<path d="M418.5,472.9L426.5,471.2L430.4,475.4L422.4,477.1z" fill="#0000c4"/>
<path d="M422.2,476.6L430.2,474.9L433.7,478.7L425.7,480.4z" fill="#0000b0"/>
<path d="M425.5,479.9L433.6,478.3L436.6,481.6L428.5,483.3z" fill="#00009e"/>
<path d="M428.4,482.9L436.5,481.2L439.1,484.1L431,485.8z" fill="#00008e"/>
<path d="M251,312.6L259.1,310.9L261.7,313.8L253.6,315.5z" fill="#8e0000"/>
<path d="M253.5,315.1L261.6,313.4L264.6,316.7L256.5,318.4z" fill="#9e0000"/>
<path d="M256.4,318L264.4,316.3L267.9,320.1L259.9,321.8z" fill="#b00000"/>
<path d="M259.7,321.3L267.7,319.6L271.6,323.8L263.6,325.5z" fill="#c40000"/>
<path d="M263.4,325L271.3,323.3L275.6,327.9L267.7,329.6z" fill="#db0000"/>
<path d="M267.4,329.1L275.4,327.3L280,332.4L272.1,334.1z" fill="#f30000"/>
<path d="M271.9,333.5L279.7,331.8L284.8,337.2L276.9,338.9z" fill="#ff0f00"/>
<path d="M276.6,338.3L284.5,336.6L289.9,342.3L282,344.1z" fill="#ff2c00"/>
<path d="M281.7,343.4L289.5,341.7L295.3,347.8L287.4,349.5z" fill="#ff4a00"/>
<path d="M287.1,348.9L294.9,347.1L300.9,353.5L293.1,355.2z" fill="#ff6a00"/>
<path d="M292.8,354.6L300.5,352.8L306.8,359.5L299,361.2z" fill="#ff8c00"/>
<path d="M298.7,360.5L306.4,358.8L312.9,365.6L305.2,367.4z" fill="#ffaf00"/>
<path d="M304.8,366.7L312.5,365L319.2,372L311.5,373.7z" fill="#ffd300"/>
<path d="M311.1,373L318.8,371.3L325.7,378.5L317.9,380.2z" fill="#fff800"/>
<path d="M317.5,379.5L325.2,377.8L332.2,385.1L324.5,386.8z" fill="#e0ff1f"/>
<path d="M324.1,386.1L331.8,384.4L338.9,391.8L331.1,393.5z" fill="#baff45"/>
<path d="M330.7,392.8L338.4,391.1L345.5,398.5L337.8,400.2z" fill="#93ff6c"/>
<path d="M337.4,399.6L345.1,397.8L352.2,405.3L344.4,407z" fill="#6cff93"/>
<path d="M344,406.3L351.7,404.6L358.8,411.9L351.1,413.7z" fill="#45ffba"/>
<path d="M350.6,413L358.4,411.3L365.4,418.6L357.6,420.3z" fill="#1fffe0"/>
<path d="M357.2,419.6L364.9,417.9L371.8,425L364.1,426.8z" fill="#00f8ff"/>
<path d="M363.6,426.1L371.4,424.4L378.1,431.4L370.3,433.1z" fill="#00d3ff"/>
<path d="M369.9,432.5L377.7,430.7L384.2,437.6L376.4,439.3z" fill="#00afff"/>
<path d="M376,438.6L383.8,436.9L390.1,443.5L382.3,445.2z" fill="#008cff"/>
<path d="M381.9,444.6L389.8,442.9L395.8,449.2L388,450.9z" fill="#006aff"/>
<path d="M387.6,450.3L395.4,448.6L401.2,454.7L393.3,456.4z" fill="#004aff"/>
<path d="M393,455.7L400.8,454L406.2,459.8L398.4,461.5z" fill="#002cff"/>
<path d="M398.1,460.9L406,459.2L411,464.6L403.1,466.3z" fill="#000fff"/>
<path d="M402.8,465.7L410.7,464L415.4,469L407.5,470.7z" fill="#0000f3"/>
<path d="M407.2,470.2L415.2,468.5L419.5,473.1L411.5,474.8z" fill="#0000db"/>
<path d="M411.3,474.3L419.3,472.6L423.2,476.8L415.2,478.5z" fill="#0000c4"/>
<path d="M415,478L423,476.3L426.5,480.1L418.4,481.8z" fill="#0000b0"/>
<path d="M418.2,481.3L426.3,479.7L429.4,483L421.3,484.7z" fill="#00009e"/>
<path d="M421.1,484.3L429.2,482.6L431.8,485.5L423.7,487.2z" fill="#00008e"/>
<path d="M243.8,314L251.9,312.3L254.5,315.2L246.4,316.9z" fill="#8e0000"/>
<path d="M246.3,316.5L254.4,314.8L257.4,318.1L249.3,319.8z" fill="#9e0000"/>
<path d="M249.2,319.4L257.2,317.7L260.7,321.5L252.6,323.2z" fill="#b00000"/>
<path d="M252.5,322.7L260.5,321L264.4,325.2L256.3,326.9z" fill="#c40000"/>
<path d="M256.1,326.4L264.1,324.7L268.4,329.3L260.4,331z" fill="#db0000"/>
<path d="M260.2,330.5L268.1,328.7L272.8,333.8L264.9,335.5z" fill="#f30000"/>
<path d="M264.6,334.9L272.5,333.2L277.6,338.6L269.7,340.3z" fill="#ff0f00"/>
<path d="M269.4,339.7L277.3,338L282.7,343.7L274.8,345.5z" fill="#ff2c00"/>
<path d="M274.5,344.8L282.3,343.1L288,349.2L280.2,350.9z" fill="#ff4a00"/>
<path d="M279.9,350.3L287.7,348.5L293.7,354.9L285.9,356.6z" fill="#ff6a00"/>
<path d="M285.5,356L293.3,354.2L299.6,360.9L291.8,362.6z" fill="#ff8c00"/>
<path d="M291.4,361.9L299.2,360.2L305.7,367L297.9,368.8z" fill="#ffaf00"/>
<path d="M297.5,368.1L305.3,366.4L312,373.4L304.2,375.1z" fill="#ffd300"/>
<path d="M303.8,374.4L311.6,372.7L318.4,379.9L310.7,381.6z" fill="#fff800"/>
<path d="M310.3,380.9L318,379.2L325,386.5L317.3,388.2z" fill="#e0ff1f"/>
<path d="M316.8,387.5L324.6,385.8L331.6,393.2L323.9,394.9z" fill="#baff45"/>
<path d="M323.5,394.2L331.2,392.5L338.3,399.9L330.6,401.6z" fill="#93ff6c"/>
<path d="M330.1,401L337.9,399.2L344.9,406.6L337.2,408.4z" fill="#6cff93"/>
<path d="M336.8,407.7L344.5,406L351.6,413.3L343.8,415z" fill="#45ffba"/>
<path d="M343.4,414.4L351.2,412.7L358.1,419.9L350.4,421.7z" fill="#1fffe0"/>
<path d="M350,421L357.7,419.3L364.6,426.4L356.8,428.2z" fill="#00f8ff"/>
<path d="M356.4,427.5L364.2,425.8L370.9,432.8L363.1,434.5z" fill="#00d3ff"/>
<path d="M362.7,433.8L370.5,432.1L377,439L369.2,440.7z" fill="#00afff"/>
<path d="M368.8,440L376.6,438.3L382.9,444.9L375.1,446.6z" fill="#008cff"/>
<path d="M374.7,446L382.5,444.3L388.5,450.6L380.7,452.3z" fill="#006aff"/>
<path d="M380.4,451.7L388.2,450L393.9,456L386.1,457.8z" fill="#004aff"/>
<path d="M385.7,457.1L393.6,455.4L399,461.2L391.2,462.9z" fill="#002cff"/>
<path d="M390.8,462.3L398.7,460.6L403.8,466L395.9,467.7z" fill="#000fff"/>
<path d="M395.6,467.1L403.5,465.4L408.2,470.4L400.3,472.1z" fill="#0000f3"/>
<path d="M400,471.6L408,469.9L412.3,474.5L404.3,476.2z" fill="#0000db"/>
<path d="M404.1,475.7L412.1,474L415.9,478.2L407.9,479.9z" fill="#0000c4"/>
<path d="M407.7,479.4L415.8,477.7L419.2,481.5L411.2,483.2z" fill="#0000b0"/>
<path d="M411,482.7L419.1,481.1L422.1,484.4L414,486.1z" fill="#00009e"/>
<path d="M413.9,485.7L422,484L424.6,486.9L416.5,488.6z" fill="#00008e"/>
<path d="M236.6,315.4L244.7,313.7L247.3,316.6L239.2,318.3z" fill="#8e0000"/>
<path d="M239.1,317.9L247.1,316.2L250.2,319.5L242.1,321.2z" fill="#9e0000"/>
<path d="M241.9,320.8L250,319.1L253.4,322.9L245.4,324.6z" fill="#b00000"/>
<path d="M245.2,324.1L253.2,322.4L257.1,326.6L249.1,328.3z" fill="#c40000"/>
<path d="M248.9,327.8L256.9,326.1L261.2,330.7L253.2,332.4z" fill="#db0000"/>
<path d="M253,331.9L260.9,330.1L265.6,335.2L257.7,336.9z" fill="#f30000"/>
<path d="M257.4,336.3L265.3,334.6L270.3,340L262.5,341.7z" fill="#ff0f00"/>
<path d="M262.2,341.1L270,339.4L275.4,345.1L267.6,346.9z" fill="#ff2c00"/>
<path d="M267.2,346.2L275.1,344.5L280.8,350.6L273,352.3z" fill="#ff4a00"/>
<path d="M272.6,351.7L280.4,349.9L286.5,356.3L278.7,358z" fill="#ff6a00"/>
<path d="M278.3,357.4L286.1,355.6L292.4,362.2L284.6,364z" fill="#ff8c00"/>
<path d="M284.2,363.3L292,361.6L298.5,368.4L290.7,370.1z" fill="#ffaf00"/>
<path d="M290.3,369.5L298.1,367.8L304.8,374.8L297,376.5z" fill="#ffd300"/>
<path d="M296.6,375.8L304.4,374.1L311.2,381.3L303.5,383z" fill="#fff800"/>
<path d="M303,382.3L310.8,380.6L317.8,387.9L310,389.6z" fill="#e0ff1f"/>
<path d="M309.6,388.9L317.3,387.2L324.4,394.6L316.7,396.3z" fill="#baff45"/>
<path d="M316.2,395.6L324,393.9L331.1,401.3L323.3,403z" fill="#93ff6c"/>
<path d="M322.9,402.4L330.6,400.6L337.7,408L330,409.8z" fill="#6cff93"/>
<path d="M329.6,409.1L337.3,407.4L344.3,414.7L336.6,416.4z" fill="#45ffba"/>
<path d="M336.2,415.8L343.9,414.1L350.9,421.3L343.2,423.1z" fill="#1fffe0"/>
<path d="M342.7,422.4L350.5,420.7L357.3,427.8L349.6,429.6z" fill="#00f8ff"/>
<path d="M349.2,428.9L356.9,427.2L363.6,434.2L355.9,435.9z" fill="#00d3ff"/>
<path d="M355.5,435.2L363.2,433.5L369.8,440.4L362,442.1z" fill="#00afff"/>
<path d="M361.6,441.4L369.4,439.7L375.7,446.3L367.9,448z" fill="#008cff"/>
<path d="M367.5,447.4L375.3,445.7L381.3,452L373.5,453.7z" fill="#006aff"/>
<path d="M373.1,453.1L381,451.4L386.7,457.4L378.9,459.2z" fill="#004aff"/>
<path d="M378.5,458.5L386.4,456.8L391.8,462.6L383.9,464.3z" fill="#002cff"/>
<path d="M383.6,463.7L391.5,462L396.6,467.4L388.7,469.1z" fill="#000fff"/>
<path d="M388.4,468.5L396.3,466.8L401,471.8L393,473.5z" fill="#0000f3"/>
<path d="M392.8,473L400.7,471.3L405,475.9L397.1,477.6z" fill="#0000db"/>
<path d="M396.8,477.1L404.8,475.4L408.7,479.6L400.7,481.3z" fill="#0000c4"/>
<path d="M400.5,480.8L408.5,479.1L412,482.9L404,484.6z" fill="#0000b0"/>
<path d="M403.8,484.1L411.9,482.5L414.9,485.8L406.8,487.5z" fill="#00009e"/>
<path d="M406.7,487.1L414.8,485.4L417.4,488.3L409.3,489.9z" fill="#00008e"/>
<path d="M229.3,316.8L237.4,315.1L240,318L231.9,319.7z" fill="#8e0000"/>
<path d="M231.8,319.3L239.9,317.6L242.9,320.9L234.9,322.6z" fill="#9e0000"/>
<path d="M234.7,322.2L242.8,320.5L246.2,324.3L238.2,326z" fill="#b00000"/>
<path d="M238,325.5L246,323.8L249.9,328L241.9,329.7z" fill="#c40000"/>
<path d="M241.7,329.2L249.7,327.5L253.9,332.1L246,333.8z" fill="#db0000"/>
<path d="M245.7,333.2L253.7,331.5L258.4,336.6L250.4,338.3z" fill="#f30000"/>
<path d="M250.2,337.7L258.1,336L263.1,341.4L255.2,343.1z" fill="#ff0f00"/>
<path d="M254.9,342.5L262.8,340.8L268.2,346.5L260.3,348.2z" fill="#ff2c00"/>
<path d="M260,347.6L267.9,345.9L273.6,352L265.7,353.7z" fill="#ff4a00"/>
<path d="M265.4,353.1L273.2,351.3L279.2,357.7L271.4,359.4z" fill="#ff6a00"/>
<path d="M271.1,358.8L278.9,357L285.1,363.6L277.3,365.4z" fill="#ff8c00"/>
<path d="M277,364.7L284.7,363L291.3,369.8L283.5,371.5z" fill="#ffaf00"/>
<path d="M283.1,370.9L290.8,369.2L297.5,376.2L289.8,377.9z" fill="#ffd300"/>
<path d="M289.4,377.2L297.1,375.5L304,382.7L296.2,384.4z" fill="#fff800"/>
<path d="M295.8,383.7L303.6,382L310.5,389.3L302.8,391z" fill="#e0ff1f"/>
<path d="M302.4,390.3L310.1,388.6L317.2,396L309.4,397.7z" fill="#baff45"/>
<path d="M309,397L316.7,395.3L323.8,402.7L316.1,404.4z" fill="#93ff6c"/>
<path d="M315.7,403.7L323.4,402L330.5,409.4L322.8,411.2z" fill="#6cff93"/>
<path d="M322.3,410.5L330.1,408.8L337.1,416.1L329.4,417.8z" fill="#45ffba"/>
<path d="M329,417.2L336.7,415.4L343.7,422.7L335.9,424.5z" fill="#1fffe0"/>
<path d="M335.5,423.8L343.3,422.1L350.1,429.2L342.4,431z" fill="#00f8ff"/>
<path d="M341.9,430.3L349.7,428.6L356.4,435.6L348.6,437.3z" fill="#00d3ff"/>
<path d="M348.2,436.6L356,434.9L362.5,441.8L354.7,443.5z" fill="#00afff"/>
<path d="M354.3,442.8L362.1,441.1L368.4,447.7L360.6,449.4z" fill="#008cff"/>
<path d="M360.2,448.8L368.1,447.1L374.1,453.4L366.3,455.1z" fill="#006aff"/>
<path d="M365.9,454.5L373.7,452.8L379.5,458.8L371.6,460.6z" fill="#004aff"/>
<path d="M371.3,459.9L379.2,458.2L384.6,464L376.7,465.7z" fill="#002cff"/>
<path d="M376.4,465.1L384.3,463.4L389.3,468.8L381.4,470.5z" fill="#000fff"/>
<path d="M381.1,469.9L389.1,468.2L393.7,473.2L385.8,474.9z" fill="#0000f3"/>
<path d="M385.5,474.4L393.5,472.6L397.8,477.3L389.8,479z" fill="#0000db"/>
<path d="M389.6,478.5L397.6,476.8L401.5,481L393.5,482.7z" fill="#0000c4"/>
<path d="M393.3,482.2L401.3,480.5L404.8,484.3L396.7,486z" fill="#0000b0"/>
<path d="M396.6,485.5L404.6,483.9L407.7,487.2L399.6,488.9z" fill="#00009e"/>
<path d="M399.4,488.5L407.6,486.8L410.2,489.7L402,491.3z" fill="#00008e"/>
<path d="M222.1,318.2L230.2,316.5L232.8,319.4L224.7,321z" fill="#8e0000"/>
<path d="M224.6,320.7L232.7,319L235.7,322.3L227.6,324z" fill="#9e0000"/>
<path d="M227.5,323.6L235.5,321.9L239,325.7L230.9,327.4z" fill="#b00000"/>
<path d="M230.8,326.9L238.8,325.2L242.7,329.4L234.7,331.1z" fill="#c40000"/>
<path d="M234.5,330.6L242.4,328.9L246.7,333.5L238.7,335.2z" fill="#db0000"/>
<path d="M238.5,334.6L246.4,332.9L251.1,338L243.2,339.7z" fill="#f30000"/>
<path d="M242.9,339.1L250.8,337.4L255.9,342.8L248,344.5z" fill="#ff0f00"/>
<path d="M247.7,343.9L255.6,342.2L261,347.9L253.1,349.6z" fill="#ff2c00"/>
<path d="M252.8,349L260.6,347.3L266.4,353.4L258.5,355.1z" fill="#ff4a00"/>
<path d="M258.2,354.4L266,352.7L272,359.1L264.2,360.8z" fill="#ff6a00"/>
<path d="M263.8,360.1L271.6,358.4L277.9,365L270.1,366.8z" fill="#ff8c00"/>
<path d="M269.7,366.1L277.5,364.4L284,371.2L276.2,372.9z" fill="#ffaf00"/>
<path d="M275.9,372.3L283.6,370.5L290.3,377.6L282.6,379.3z" fill="#ffd300"/>
<path d="M282.1,378.6L289.9,376.9L296.8,384.1L289,385.8z" fill="#fff800"/>
<path d="M288.6,385.1L296.3,383.4L303.3,390.7L295.6,392.4z" fill="#e0ff1f"/>
<path d="M295.1,391.7L302.9,390L309.9,397.4L302.2,399.1z" fill="#baff45"/>
<path d="M301.8,398.4L309.5,396.7L316.6,404.1L308.9,405.8z" fill="#93ff6c"/>
<path d="M308.4,405.1L316.2,403.4L323.3,410.8L315.5,412.5z" fill="#6cff93"/>
<path d="M315.1,411.9L322.8,410.2L329.9,417.5L322.2,419.2z" fill="#45ffba"/>
<path d="M321.7,418.6L329.5,416.8L336.4,424.1L328.7,425.8z" fill="#1fffe0"/>
<path d="M328.3,425.2L336,423.5L342.9,430.6L335.1,432.3z" fill="#00f8ff"/>
<path d="M334.7,431.7L342.5,430L349.2,437L341.4,438.7z" fill="#00d3ff"/>
<path d="M341,438L348.8,436.3L355.3,443.1L347.5,444.9z" fill="#00afff"/>
<path d="M347.1,444.2L354.9,442.5L361.2,449.1L353.4,450.8z" fill="#008cff"/>
<path d="M353,450.2L360.8,448.4L366.9,454.8L359,456.5z" fill="#006aff"/>
<path d="M358.7,455.9L366.5,454.2L372.2,460.2L364.4,462z" fill="#004aff"/>
<path d="M364.1,461.3L371.9,459.6L377.3,465.4L369.5,467.1z" fill="#002cff"/>
<path d="M369.1,466.5L377,464.7L382.1,470.2L374.2,471.9z" fill="#000fff"/>
<path d="M373.9,471.3L381.8,469.6L386.5,474.6L378.6,476.3z" fill="#0000f3"/>
<path d="M378.3,475.8L386.3,474L390.6,478.7L382.6,480.4z" fill="#0000db"/>
<path d="M382.4,479.9L390.4,478.2L394.3,482.4L386.2,484.1z" fill="#0000c4"/>
<path d="M386,483.6L394.1,481.9L397.5,485.7L389.5,487.4z" fill="#0000b0"/>
<path d="M389.3,486.9L397.4,485.2L400.4,488.6L392.4,490.3z" fill="#00009e"/>
<path d="M392.2,489.9L400.3,488.2L402.9,491.1L394.8,492.7z" fill="#00008e"/>
<path d="M214.9,319.6L223,317.9L225.6,320.8L217.5,322.4z" fill="#8e0000"/>
<path d="M217.4,322.1L225.4,320.4L228.5,323.7L220.4,325.4z" fill="#9e0000"/>
<path d="M220.3,325L228.3,323.3L231.8,327.1L223.7,328.7z" fill="#b00000"/>
<path d="M223.5,328.3L231.5,326.6L235.4,330.8L227.4,332.5z" fill="#c40000"/>
<path d="M227.2,332L235.2,330.2L239.5,334.9L231.5,336.6z" fill="#db0000"/>
<path d="M231.3,336L239.2,334.3L243.9,339.4L236,341.1z" fill="#f30000"/>
<path d="M235.7,340.5L243.6,338.8L248.7,344.2L240.8,345.9z" fill="#ff0f00"/>
<path d="M240.5,345.3L248.3,343.6L253.7,349.3L245.9,351z" fill="#ff2c00"/>
<path d="M245.6,350.4L253.4,348.7L259.1,354.8L251.3,356.5z" fill="#ff4a00"/>
<path d="M250.9,355.8L258.8,354.1L264.8,360.5L257,362.2z" fill="#ff6a00"/>
<path d="M256.6,361.5L264.4,359.8L270.7,366.4L262.9,368.2z" fill="#ff8c00"/>
<path d="M262.5,367.5L270.3,365.8L276.8,372.6L269,374.3z" fill="#ffaf00"/>
<path d="M268.6,373.7L276.4,371.9L283.1,379L275.3,380.7z" fill="#ffd300"/>
<path d="M274.9,380L282.7,378.3L289.5,385.5L281.8,387.2z" fill="#fff800"/>
<path d="M281.4,386.5L289.1,384.8L296.1,392.1L288.3,393.8z" fill="#e0ff1f"/>
<path d="M287.9,393.1L295.6,391.4L302.7,398.8L295,400.5z" fill="#baff45"/>
<path d="M294.5,399.8L302.3,398.1L309.4,405.5L301.6,407.2z" fill="#93ff6c"/>
<path d="M301.2,406.5L308.9,404.8L316,412.2L308.3,413.9z" fill="#6cff93"/>
<path d="M307.9,413.3L315.6,411.5L322.7,418.9L314.9,420.6z" fill="#45ffba"/>
<path d="M314.5,420L322.2,418.2L329.2,425.5L321.5,427.2z" fill="#1fffe0"/>
<path d="M321,426.6L328.8,424.9L335.7,432L327.9,433.7z" fill="#00f8ff"/>
<path d="M327.5,433.1L335.2,431.4L341.9,438.4L334.2,440.1z" fill="#00d3ff"/>
<path d="M333.8,439.4L341.6,437.7L348.1,444.5L340.3,446.3z" fill="#00afff"/>
<path d="M339.9,445.6L347.7,443.9L354,450.5L346.2,452.2z" fill="#008cff"/>
<path d="M345.8,451.6L353.6,449.8L359.6,456.2L351.8,457.9z" fill="#006aff"/>
<path d="M351.4,457.3L359.3,455.6L365,461.6L357.2,463.4z" fill="#004aff"/>
<path d="M356.8,462.7L364.7,461L370.1,466.8L362.2,468.5z" fill="#002cff"/>
<path d="M361.9,467.9L369.8,466.1L374.9,471.5L367,473.3z" fill="#000fff"/>
<path d="M366.7,472.7L374.6,471L379.3,476L371.4,477.7z" fill="#0000f3"/>
<path d="M371.1,477.2L379.1,475.4L383.3,480.1L375.4,481.8z" fill="#0000db"/>
<path d="M375.1,481.3L383.1,479.6L387,483.8L379,485.5z" fill="#0000c4"/>
<path d="M378.8,485L386.9,483.3L390.3,487.1L382.3,488.8z" fill="#0000b0"/>
<path d="M382.1,488.3L390.2,486.6L393.2,490L385.1,491.7z" fill="#00009e"/>
<path d="M385,491.3L393.1,489.6L395.7,492.5L387.6,494.1z" fill="#00008e"/>
<path d="M207.6,321L215.8,319.3L218.4,322.2L210.2,323.8z" fill="#8e0000"/>
<path d="M210.1,323.4L218.2,321.8L221.2,325.1L213.2,326.8z" fill="#9e0000"/>
<path d="M213,326.3L221.1,324.7L224.5,328.5L216.5,330.1z" fill="#b00000"/>
<path d="M216.3,329.7L224.3,328L228.2,332.2L220.2,333.9z" fill="#c40000"/>
<path d="M220,333.4L228,331.6L232.3,336.3L224.3,338z" fill="#db0000"/>
<path d="M224.1,337.4L232,335.7L236.7,340.8L228.7,342.5z" fill="#f30000"/>
<path d="M228.5,341.9L236.4,340.2L241.4,345.6L233.5,347.3z" fill="#ff0f00"/>
<path d="M233.2,346.7L241.1,345L246.5,350.7L238.6,352.4z" fill="#ff2c00"/>
<path d="M238.3,351.8L246.2,350.1L251.9,356.2L244.1,357.9z" fill="#ff4a00"/>
<path d="M243.7,357.2L251.5,355.5L257.5,361.9L249.7,363.6z" fill="#ff6a00"/>
<path d="M249.4,362.9L257.2,361.2L263.4,367.8L255.7,369.6z" fill="#ff8c00"/>
<path d="M255.3,368.9L263,367.2L269.6,374L261.8,375.7z" fill="#ffaf00"/>
<path d="M261.4,375.1L269.1,373.3L275.9,380.4L268.1,382.1z" fill="#ffd300"/>
<path d="M267.7,381.4L275.4,379.7L282.3,386.9L274.5,388.6z" fill="#fff800"/>
<path d="M274.1,387.9L281.9,386.2L288.8,393.5L281.1,395.2z" fill="#e0ff1f"/>
<path d="M280.7,394.5L288.4,392.8L295.5,400.2L287.7,401.9z" fill="#baff45"/>
<path d="M287.3,401.2L295,399.5L302.1,406.9L294.4,408.6z" fill="#93ff6c"/>
<path d="M294,407.9L301.7,406.2L308.8,413.6L301.1,415.3z" fill="#6cff93"/>
<path d="M300.6,414.7L308.4,412.9L315.4,420.3L307.7,422z" fill="#45ffba"/>
<path d="M307.3,421.3L315,419.6L322,426.9L314.2,428.6z" fill="#1fffe0"/>
<path d="M313.8,428L321.6,426.2L328.4,433.4L320.7,435.1z" fill="#00f8ff"/>
<path d="M320.3,434.5L328,432.7L334.7,439.8L327,441.5z" fill="#00d3ff"/>
<path d="M326.5,440.8L334.3,439.1L340.8,445.9L333.1,447.7z" fill="#00afff"/>
<path d="M332.7,447L340.5,445.3L346.7,451.9L338.9,453.6z" fill="#008cff"/>
<path d="M338.6,453L346.4,451.2L352.4,457.6L344.6,459.3z" fill="#006aff"/>
<path d="M344.2,458.7L352.1,457L357.8,463L349.9,464.7z" fill="#004aff"/>
<path d="M349.6,464.1L357.5,462.4L362.9,468.1L355,469.9z" fill="#002cff"/>
<path d="M354.7,469.3L362.6,467.5L367.6,472.9L359.7,474.7z" fill="#000fff"/>
<path d="M359.4,474.1L367.4,472.4L372.1,477.4L364.1,479.1z" fill="#0000f3"/>
<path d="M363.9,478.5L371.8,476.8L376.1,481.5L368.1,483.2z" fill="#0000db"/>
<path d="M367.9,482.7L375.9,480.9L379.8,485.2L371.8,486.9z" fill="#0000c4"/>
<path d="M371.6,486.4L379.6,484.7L383.1,488.5L375,490.2z" fill="#0000b0"/>
<path d="M374.9,489.7L382.9,488L386,491.4L377.9,493.1z" fill="#00009e"/>
<path d="M377.8,492.6L385.9,491L388.5,493.9L380.4,495.5z" fill="#00008e"/>
<path d="M200.4,322.4L208.5,320.7L211.1,323.6L203,325.2z" fill="#8e0000"/>
<path d="M202.9,324.8L211,323.2L214,326.5L205.9,328.2z" fill="#9e0000"/>
<path d="M205.8,327.7L213.8,326.1L217.3,329.8L209.3,331.5z" fill="#b00000"/>
<path d="M209.1,331L217.1,329.3L221,333.6L213,335.3z" fill="#c40000"/>
<path d="M212.8,334.7L220.7,333L225,337.7L217.1,339.4z" fill="#db0000"/>
<path d="M216.8,338.8L224.8,337.1L229.4,342.1L221.5,343.9z" fill="#f30000"/>
<path d="M221.2,343.3L229.1,341.6L234.2,347L226.3,348.7z" fill="#ff0f00"/>
<path d="M226,348.1L233.9,346.4L239.3,352.1L231.4,353.8z" fill="#ff2c00"/>
<path d="M231.1,353.2L238.9,351.5L244.7,357.5L236.8,359.3z" fill="#ff4a00"/>
<path d="M236.5,358.6L244.3,356.9L250.3,363.3L242.5,365z" fill="#ff6a00"/>
<path d="M242.1,364.3L249.9,362.6L256.2,369.2L248.4,370.9z" fill="#ff8c00"/>
<path d="M248,370.3L255.8,368.6L262.3,375.4L254.6,377.1z" fill="#ffaf00"/>
<path d="M254.2,376.5L261.9,374.7L268.6,381.8L260.9,383.5z" fill="#ffd300"/>
<path d="M260.5,382.8L268.2,381.1L275.1,388.3L267.3,390z" fill="#fff800"/>
<path d="M266.9,389.3L274.6,387.6L281.6,394.9L273.9,396.6z" fill="#e0ff1f"/>
<path d="M273.5,395.9L281.2,394.2L288.2,401.6L280.5,403.3z" fill="#baff45"/>
<path d="M280.1,402.6L287.8,400.9L294.9,408.3L287.2,410z" fill="#93ff6c"/>
<path d="M286.7,409.3L294.5,407.6L301.6,415L293.8,416.7z" fill="#6cff93"/>
<path d="M293.4,416.1L301.1,414.3L308.2,421.7L300.5,423.4z" fill="#45ffba"/>
<path d="M300,422.7L307.8,421L314.7,428.3L307,430z" fill="#1fffe0"/>
<path d="M306.6,429.4L314.3,427.6L321.2,434.8L313.4,436.5z" fill="#00f8ff"/>
<path d="M313,435.9L320.8,434.1L327.5,441.2L319.7,442.9z" fill="#00d3ff"/>
<path d="M319.3,442.2L327.1,440.5L333.6,447.3L325.8,449.1z" fill="#00afff"/>
<path d="M325.4,448.4L333.2,446.7L339.5,453.3L331.7,455z" fill="#008cff"/>
<path d="M331.3,454.4L339.1,452.6L345.2,459L337.4,460.7z" fill="#006aff"/>
<path d="M337,460.1L344.8,458.3L350.6,464.4L342.7,466.1z" fill="#004aff"/>
<path d="M342.4,465.5L350.2,463.8L355.6,469.5L347.8,471.3z" fill="#002cff"/>
<path d="M347.4,470.7L355.3,468.9L360.4,474.3L352.5,476.1z" fill="#000fff"/>
<path d="M352.2,475.5L360.1,473.8L364.8,478.8L356.9,480.5z" fill="#0000f3"/>
<path d="M356.6,479.9L364.6,478.2L368.9,482.9L360.9,484.6z" fill="#0000db"/>
<path d="M360.7,484L368.7,482.3L372.6,486.6L364.6,488.3z" fill="#0000c4"/>
<path d="M364.4,487.8L372.4,486.1L375.9,489.9L367.8,491.6z" fill="#0000b0"/>
<path d="M367.6,491.1L375.7,489.4L378.7,492.8L370.7,494.4z" fill="#00009e"/>
<path d="M370.5,494L378.6,492.4L381.2,495.3L373.1,496.9z" fill="#00008e"/>
<path d="M193.2,323.7L201.3,322.1L203.9,325L195.8,326.6z" fill="#8e0000"/>
<path d="M195.7,326.2L203.8,324.6L206.8,327.9L198.7,329.6z" fill="#9e0000"/>
<path d="M198.6,329.1L206.6,327.5L210.1,331.2L202,332.9z" fill="#b00000"/>
<path d="M201.9,332.4L209.9,330.7L213.7,335L205.7,336.7z" fill="#c40000"/>
<path d="M205.5,336.1L213.5,334.4L217.8,339.1L209.8,340.8z" fill="#db0000"/>
<path d="M209.6,340.2L217.5,338.5L222.2,343.5L214.3,345.3z" fill="#f30000"/>
<path d="M214,344.7L221.9,343L227,348.4L219.1,350.1z" fill="#ff0f00"/>
<path d="M218.8,349.5L226.6,347.7L232.1,353.5L224.2,355.2z" fill="#ff2c00"/>
<path d="M223.9,354.6L231.7,352.9L237.4,358.9L229.6,360.7z" fill="#ff4a00"/>
<path d="M229.3,360L237.1,358.3L243.1,364.7L235.3,366.4z" fill="#ff6a00"/>
<path d="M234.9,365.7L242.7,364L249,370.6L241.2,372.3z" fill="#ff8c00"/>
<path d="M240.8,371.7L248.6,370L255.1,376.8L247.3,378.5z" fill="#ffaf00"/>
<path d="M246.9,377.8L254.7,376.1L261.4,383.2L253.6,384.9z" fill="#ffd300"/>
<path d="M253.2,384.2L261,382.5L267.8,389.7L260.1,391.4z" fill="#fff800"/>
<path d="M259.7,390.7L267.4,389L274.4,396.3L266.6,398z" fill="#e0ff1f"/>
<path d="M266.2,397.3L274,395.6L281,403L273.3,404.7z" fill="#baff45"/>
<path d="M272.8,404L280.6,402.3L287.7,409.7L279.9,411.4z" fill="#93ff6c"/>
<path d="M279.5,410.7L287.2,409L294.3,416.4L286.6,418.1z" fill="#6cff93"/>
<path d="M286.2,417.4L293.9,415.7L301,423.1L293.2,424.8z" fill="#45ffba"/>
<path d="M292.8,424.1L300.5,422.4L307.5,429.7L299.8,431.4z" fill="#1fffe0"/>
<path d="M299.4,430.8L307.1,429L314,436.2L306.2,437.9z" fill="#00f8ff"/>
<path d="M305.8,437.3L313.6,435.5L320.3,442.6L312.5,444.3z" fill="#00d3ff"/>
<path d="M312.1,443.6L319.9,441.9L326.4,448.7L318.6,450.4z" fill="#00afff"/>
<path d="M318.2,449.8L326,448.1L332.3,454.7L324.5,456.4z" fill="#008cff"/>
<path d="M324.1,455.8L331.9,454L337.9,460.4L330.1,462.1z" fill="#006aff"/>
<path d="M329.8,461.5L337.6,459.7L343.3,465.8L335.5,467.5z" fill="#004aff"/>
<path d="M335.1,466.9L343,465.2L348.4,470.9L340.5,472.7z" fill="#002cff"/>
<path d="M340.2,472.1L348.1,470.3L353.2,475.7L345.3,477.5z" fill="#000fff"/>
<path d="M345,476.9L352.9,475.1L357.6,480.2L349.7,481.9z" fill="#0000f3"/>
<path d="M349.4,481.3L357.4,479.6L361.7,484.3L353.7,486z" fill="#0000db"/>
<path d="M353.4,485.4L361.5,483.7L365.3,488L357.3,489.7z" fill="#0000c4"/>
<path d="M357.1,489.2L365.2,487.5L368.6,491.3L360.6,493z" fill="#0000b0"/>
<path d="M360.4,492.5L368.5,490.8L371.5,494.2L363.4,495.8z" fill="#00009e"/>
<path d="M363.3,495.4L371.4,493.8L374,496.7L365.9,498.3z" fill="#00008e"/>
<path d="M186,325.1L194.1,323.5L196.7,326.4L188.5,328z" fill="#8e0000"/>
<path d="M188.4,327.6L196.5,326L199.5,329.3L191.5,331z" fill="#9e0000"/>
<path d="M191.3,330.5L199.4,328.8L202.8,332.6L194.8,334.3z" fill="#b00000"/>
<path d="M194.6,333.8L202.6,332.1L206.5,336.4L198.5,338.1z" fill="#c40000"/>
<path d="M198.3,337.5L206.3,335.8L210.6,340.5L202.6,342.2z" fill="#db0000"/>
<path d="M202.4,341.6L210.3,339.9L215,344.9L207,346.7z" fill="#f30000"/>
<path d="M206.8,346.1L214.7,344.3L219.7,349.8L211.8,351.5z" fill="#ff0f00"/>
<path d="M211.5,350.9L219.4,349.1L224.8,354.9L217,356.6z" fill="#ff2c00"/>
<path d="M216.6,356L224.5,354.3L230.2,360.3L222.4,362.1z" fill="#ff4a00"/>
<path d="M222,361.4L229.8,359.7L235.9,366.1L228,367.8z" fill="#ff6a00"/>
<path d="M227.7,367.1L235.5,365.4L241.8,372L234,373.7z" fill="#ff8c00"/>
<path d="M233.6,373.1L241.4,371.4L247.9,378.2L240.1,379.9z" fill="#ffaf00"/>
<path d="M239.7,379.2L247.5,377.5L254.2,384.5L246.4,386.3z" fill="#ffd300"/>
<path d="M246,385.6L253.7,383.9L260.6,391.1L252.9,392.8z" fill="#fff800"/>
<path d="M252.4,392.1L260.2,390.4L267.2,397.7L259.4,399.4z" fill="#e0ff1f"/>
<path d="M259,398.7L266.7,397L273.8,404.4L266,406.1z" fill="#baff45"/>
<path d="M265.6,405.4L273.3,403.7L280.4,411.1L272.7,412.8z" fill="#93ff6c"/>
<path d="M272.3,412.1L280,410.4L287.1,417.8L279.4,419.5z" fill="#6cff93"/>
<path d="M278.9,418.8L286.7,417.1L293.7,424.5L286,426.2z" fill="#45ffba"/>
<path d="M285.6,425.5L293.3,423.8L300.3,431.1L292.5,432.8z" fill="#1fffe0"/>
<path d="M292.1,432.1L299.9,430.4L306.7,437.6L299,439.3z" fill="#00f8ff"/>
<path d="M298.6,438.7L306.3,436.9L313,444L305.3,445.7z" fill="#00d3ff"/>
<path d="M304.9,445L312.6,443.3L319.1,450.1L311.4,451.8z" fill="#00afff"/>
<path d="M311,451.2L318.8,449.5L325,456.1L317.3,457.8z" fill="#008cff"/>
<path d="M316.9,457.1L324.7,455.4L330.7,461.8L322.9,463.5z" fill="#006aff"/>
<path d="M322.5,462.9L330.4,461.1L336.1,467.2L328.3,468.9z" fill="#004aff"/>
<path d="M327.9,468.3L335.8,466.6L341.2,472.3L333.3,474.1z" fill="#002cff"/>
<path d="M333,473.4L340.9,471.7L345.9,477.1L338,478.9z" fill="#000fff"/>
<path d="M337.7,478.3L345.7,476.5L350.4,481.6L342.4,483.3z" fill="#0000f3"/>
<path d="M342.2,482.7L350.1,481L354.4,485.7L346.5,487.4z" fill="#0000db"/>
<path d="M346.2,486.8L354.2,485.1L358.1,489.4L350.1,491.1z" fill="#0000c4"/>
<path d="M349.9,490.6L357.9,488.9L361.4,492.7L353.4,494.4z" fill="#0000b0"/>
<path d="M353.2,493.9L361.3,492.2L364.3,495.6L356.2,497.2z" fill="#00009e"/>
<path d="M356.1,496.8L364.2,495.2L366.8,498.1L358.7,499.7z" fill="#00008e"/>
<path d="M178.7,326.5L186.8,324.9L189.4,327.8L181.3,329.4z" fill="#8e0000"/>
<path d="M181.2,329L189.3,327.4L192.3,330.7L184.2,332.4z" fill="#9e0000"/>
<path d="M184.1,331.9L192.1,330.2L195.6,334L187.6,335.7z" fill="#b00000"/>
<path d="M187.4,335.2L195.4,333.5L199.3,337.8L191.3,339.5z" fill="#c40000"/>
<path d="M191.1,338.9L199,337.2L203.3,341.9L195.4,343.6z" fill="#db0000"/>
<path d="M195.1,343L203.1,341.3L207.7,346.3L199.8,348.1z" fill="#f30000"/>
<path d="M199.6,347.5L207.4,345.7L212.5,351.1L204.6,352.9z" fill="#ff0f00"/>
<path d="M204.3,352.3L212.2,350.5L217.6,356.3L209.7,358z" fill="#ff2c00"/>
<path d="M209.4,357.4L217.2,355.7L223,361.7L215.1,363.5z" fill="#ff4a00"/>
<path d="M214.8,362.8L222.6,361.1L228.6,367.4L220.8,369.2z" fill="#ff6a00"/>
<path d="M220.5,368.5L228.2,366.8L234.5,373.4L226.7,375.1z" fill="#ff8c00"/>
<path d="M226.4,374.5L234.1,372.8L240.6,379.6L232.9,381.3z" fill="#ffaf00"/>
<path d="M232.5,380.6L240.2,378.9L246.9,385.9L239.2,387.7z" fill="#ffd300"/>
<path d="M238.8,387L246.5,385.3L253.4,392.4L245.6,394.2z" fill="#fff800"/>
<path d="M245.2,393.5L252.9,391.8L259.9,399.1L252.2,400.8z" fill="#e0ff1f"/>
<path d="M251.8,400.1L259.5,398.4L266.6,405.7L258.8,407.5z" fill="#baff45"/>
<path d="M258.4,406.8L266.1,405.1L273.2,412.5L265.5,414.2z" fill="#93ff6c"/>
<path d="M265.1,413.5L272.8,411.8L279.9,419.2L272.1,420.9z" fill="#6cff93"/>
<path d="M271.7,420.2L279.4,418.5L286.5,425.9L278.8,427.6z" fill="#45ffba"/>
<path d="M278.3,426.9L286.1,425.2L293.1,432.5L285.3,434.2z" fill="#1fffe0"/>
<path d="M284.9,433.5L292.6,431.8L299.5,439L291.8,440.7z" fill="#00f8ff"/>
<path d="M291.3,440L299.1,438.3L305.8,445.4L298,447.1z" fill="#00d3ff"/>
<path d="M297.6,446.4L305.4,444.7L311.9,451.5L304.1,453.2z" fill="#00afff"/>
<path d="M303.7,452.6L311.5,450.9L317.8,457.5L310,459.2z" fill="#008cff"/>
<path d="M309.6,458.5L317.5,456.8L323.5,463.2L315.7,464.9z" fill="#006aff"/>
<path d="M315.3,464.3L323.1,462.5L328.9,468.6L321,470.3z" fill="#004aff"/>
<path d="M320.7,469.7L328.5,468L333.9,473.7L326.1,475.5z" fill="#002cff"/>
<path d="M325.8,474.8L333.7,473.1L338.7,478.5L330.8,480.2z" fill="#000fff"/>
<path d="M330.5,479.7L338.4,477.9L343.1,483L335.2,484.7z" fill="#0000f3"/>
<path d="M334.9,484.1L342.9,482.4L347.2,487.1L339.2,488.8z" fill="#0000db"/>
<path d="M339,488.2L347,486.5L350.9,490.8L342.9,492.5z" fill="#0000c4"/>
<path d="M342.7,492L350.7,490.3L354.2,494.1L346.1,495.7z" fill="#0000b0"/>
<path d="M345.9,495.3L354,493.6L357.1,497L349,498.6z" fill="#00009e"/>
<path d="M348.8,498.2L356.9,496.6L359.5,499.5L351.4,501.1z" fill="#00008e"/>
<path d="M171.5,328L179.6,326.3L182.2,329.2L174.1,330.9z" fill="#8f0000"/>
<path d="M174,330.5L182.1,328.7L185.1,332.1L177,333.8z" fill="#9e0000"/>
<path d="M176.9,333.4L184.9,331.6L188.4,335.4L180.3,337.2z" fill="#b00000"/>
<path d="M180.2,336.7L188.2,334.9L192.1,339.2L184,340.9z" fill="#c40000"/>
<path d="M183.8,340.4L191.8,338.6L196.1,343.3L188.1,345z" fill="#db0000"/>
<path d="M187.9,344.5L195.8,342.7L200.5,347.7L192.6,349.5z" fill="#f40000"/>
<path d="M192.3,348.9L200.2,347.1L205.3,352.5L197.4,354.3z" fill="#ff0f00"/>
<path d="M197.1,353.7L205,351.9L210.4,357.7L202.5,359.4z" fill="#ff2c00"/>
<path d="M202.2,358.8L210,357.1L215.7,363.1L207.9,364.9z" fill="#ff4a00"/>
<path d="M207.6,364.2L215.4,362.5L221.4,368.8L213.6,370.6z" fill="#ff6b00"/>
<path d="M213.2,369.9L221,368.2L227.3,374.8L219.5,376.5z" fill="#ff8c00"/>
<path d="M219.1,375.9L226.9,374.1L233.4,381L225.6,382.7z" fill="#ffaf00"/>
<path d="M225.2,382.1L233,380.3L239.7,387.3L231.9,389.1z" fill="#ffd300"/>
<path d="M231.5,388.4L239.3,386.7L246.1,393.8L238.4,395.6z" fill="#fff800"/>
<path d="M238,394.9L245.7,393.2L252.7,400.5L245,402.2z" fill="#e0ff1f"/>
<path d="M244.5,401.5L252.3,399.8L259.3,407.1L251.6,408.9z" fill="#baff45"/>
<path d="M251.2,408.2L258.9,406.5L266,413.9L258.3,415.6z" fill="#93ff6c"/>
<path d="M257.8,414.9L265.6,413.2L272.6,420.6L264.9,422.3z" fill="#6cff93"/>
<path d="M264.5,421.6L272.2,419.9L279.3,427.3L271.5,429z" fill="#45ffba"/>
<path d="M271.1,428.3L278.9,426.6L285.8,433.9L278.1,435.6z" fill="#1fffe0"/>
<path d="M277.7,434.9L285.4,433.2L292.3,440.4L284.5,442.1z" fill="#00f8ff"/>
<path d="M284.1,441.4L291.9,439.7L298.6,446.7L290.8,448.4z" fill="#00d3ff"/>
<path d="M290.4,447.8L298.2,446.1L304.7,452.9L296.9,454.6z" fill="#00afff"/>
<path d="M296.5,454L304.3,452.3L310.6,458.9L302.8,460.6z" fill="#008cff"/>
<path d="M302.4,459.9L310.2,458.2L316.2,464.6L308.4,466.3z" fill="#006bff"/>
<path d="M308.1,465.6L315.9,463.9L321.6,470L313.8,471.7z" fill="#004aff"/>
<path d="M313.4,471.1L321.3,469.4L326.7,475.1L318.9,476.8z" fill="#002cff"/>
<path d="M318.5,476.2L326.4,474.5L331.5,479.9L323.6,481.6z" fill="#000fff"/>
<path d="M323.3,481L331.2,479.3L335.9,484.4L328,486z" fill="#0000f4"/>
<path d="M327.7,485.5L335.7,483.8L340,488.5L332,490.1z" fill="#0000db"/>
<path d="M331.8,489.6L339.8,487.9L343.6,492.2L335.6,493.8z" fill="#0000c4"/>
<path d="M335.4,493.3L343.5,491.7L346.9,495.5L338.9,497.1z" fill="#0000b0"/>
<path d="M338.7,496.6L346.8,495L349.8,498.4L341.7,500z" fill="#00009e"/>
<path d="M341.6,499.6L349.7,498L352.3,500.9L344.2,502.5z" fill="#00008f"/>
<path d="M164.3,329.5L172.4,327.7L175,330.6L166.9,332.4z" fill="#8f0000"/>
<path d="M166.7,332L174.8,330.2L177.9,333.5L169.8,335.4z" fill="#9f0000"/>
<path d="M169.6,334.9L177.7,333.1L181.1,336.9L173.1,338.7z" fill="#b10000"/>
<path d="M172.9,338.2L180.9,336.4L184.8,340.6L176.8,342.4z" fill="#c50000"/>
<path d="M176.6,341.9L184.6,340.1L188.9,344.7L180.9,346.5z" fill="#dc0000"/>
<path d="M180.7,346L188.6,344.1L193.3,349.2L185.4,351z" fill="#f40000"/>
<path d="M185.1,350.4L193,348.6L198,354L190.2,355.8z" fill="#ff1000"/>
<path d="M189.9,355.2L197.7,353.4L203.1,359.1L195.3,360.9z" fill="#ff2d00"/>
<path d="M194.9,360.3L202.8,358.5L208.5,364.5L200.7,366.4z" fill="#ff4b00"/>
<path d="M200.3,365.7L208.1,363.9L214.2,370.3L206.4,372.1z" fill="#ff6b00"/>
<path d="M206,371.4L213.8,369.6L220.1,376.2L212.3,378z" fill="#ff8d00"/>
<path d="M211.9,377.4L219.7,375.6L226.2,382.4L218.4,384.2z" fill="#ffaf00"/>
<path d="M218,383.5L225.8,381.7L232.5,388.7L224.7,390.5z" fill="#ffd400"/>
<path d="M224.3,389.8L232.1,388.1L238.9,395.2L231.2,397z" fill="#fff900"/>
<path d="M230.7,396.3L238.5,394.6L245.5,401.9L237.7,403.6z" fill="#e0ff1f"/>
<path d="M237.3,402.9L245,401.2L252.1,408.5L244.4,410.3z" fill="#b9ff46"/>
<path d="M243.9,409.6L251.7,407.9L258.8,415.3L251,417z" fill="#93ff6c"/>
<path d="M250.6,416.3L258.3,414.6L265.4,422L257.7,423.7z" fill="#6cff93"/>
<path d="M257.3,423L265,421.3L272,428.7L264.3,430.4z" fill="#46ffb9"/>
<path d="M263.9,429.7L271.6,428L278.6,435.3L270.9,437z" fill="#1fffe0"/>
<path d="M270.4,436.3L278.2,434.6L285,441.8L277.3,443.4z" fill="#00f9ff"/>
<path d="M276.9,442.8L284.6,441.1L291.3,448.1L283.6,449.8z" fill="#00d4ff"/>
<path d="M283.2,449.1L290.9,447.5L297.5,454.3L289.7,455.9z" fill="#00afff"/>
<path d="M289.3,455.3L297.1,453.6L303.4,460.2L295.6,461.9z" fill="#008dff"/>
<path d="M295.2,461.2L303,459.6L309,465.9L301.2,467.6z" fill="#006bff"/>
<path d="M300.8,466.9L308.7,465.3L314.4,471.4L306.6,473z" fill="#004bff"/>
<path d="M306.2,472.4L314.1,470.7L319.5,476.5L311.6,478.1z" fill="#002dff"/>
<path d="M311.3,477.5L319.2,475.9L324.3,481.3L316.4,482.9z" fill="#0010ff"/>
<path d="M316.1,482.3L324,480.7L328.7,485.7L320.7,487.3z" fill="#0000f4"/>
<path d="M320.5,486.7L328.4,485.2L332.7,489.8L324.8,491.4z" fill="#0000dc"/>
<path d="M324.5,490.8L332.5,489.3L336.4,493.5L328.4,495.1z" fill="#0000c5"/>
<path d="M328.2,494.6L336.2,493L339.7,496.8L331.7,498.3z" fill="#0000b1"/>
<path d="M331.5,497.9L339.6,496.4L342.6,499.7L334.5,501.2z" fill="#00009f"/>
<path d="M334.4,500.8L342.5,499.3L345.1,502.2L337,503.7z" fill="#00008f"/>
<path d="M157,331.1L165.1,329.3L167.7,332.1L159.6,334z" fill="#910000"/>
<path d="M159.5,333.6L167.6,331.7L170.6,335.1L162.6,336.9z" fill="#a00000"/>
<path d="M162.4,336.4L170.5,334.6L173.9,338.4L165.9,340.2z" fill="#b20000"/>
<path d="M165.7,339.7L173.7,337.9L177.6,342.1L169.6,343.9z" fill="#c60000"/>
<path d="M169.4,343.4L177.3,341.6L181.6,346.2L173.7,348z" fill="#d00"/>
<path d="M173.4,347.5L181.4,345.6L186.1,350.7L178.1,352.5z" fill="#f50000"/>
<path d="M177.9,351.9L185.8,350.1L190.8,355.5L182.9,357.3z" fill="#f10"/>
<path d="M182.6,356.7L190.5,354.9L195.9,360.6L188,362.4z" fill="#ff2d00"/>
<path d="M187.7,361.8L195.6,360L201.3,366L193.4,367.8z" fill="#ff4c00"/>
<path d="M193.1,367.2L200.9,365.4L206.9,371.7L199.1,373.5z" fill="#ff6c00"/>
<path d="M198.8,372.9L206.6,371.1L212.8,377.7L205,379.5z" fill="#ff8d00"/>
<path d="M204.7,378.8L212.4,377L219,383.8L211.2,385.6z" fill="#ffb000"/>
<path d="M210.8,385L218.5,383.2L225.2,390.2L217.5,392z" fill="#ffd400"/>
<path d="M217.1,391.3L224.8,389.5L231.7,396.7L223.9,398.4z" fill="#fff900"/>
<path d="M223.5,397.8L231.3,396L238.2,403.3L230.5,405z" fill="#dfff20"/>
<path d="M230.1,404.3L237.8,402.6L244.9,409.9L237.1,411.7z" fill="#b9ff46"/>
<path d="M236.7,411L244.4,409.3L251.5,416.7L243.8,418.4z" fill="#93ff6c"/>
<path d="M243.4,417.7L251.1,416L258.2,423.4L250.5,425.1z" fill="#6cff93"/>
<path d="M250,424.4L257.8,422.7L264.8,430L257.1,431.7z" fill="#46ffb9"/>
<path d="M256.7,431.1L264.4,429.4L271.4,436.6L263.6,438.3z" fill="#20ffdf"/>
<path d="M263.2,437.6L271,436L277.8,443.1L270.1,444.8z" fill="#00f9ff"/>
<path d="M269.6,444.1L277.4,442.5L284.1,449.5L276.3,451.1z" fill="#00d4ff"/>
<path d="M275.9,450.5L283.7,448.8L290.2,455.6L282.4,457.3z" fill="#00b0ff"/>
<path d="M282.1,456.6L289.8,455L296.1,461.6L288.3,463.2z" fill="#008dff"/>
<path d="M287.9,462.5L295.8,460.9L301.8,467.2L294,468.9z" fill="#006cff"/>
<path d="M293.6,468.2L301.4,466.6L307.2,472.7L299.3,474.3z" fill="#004cff"/>
<path d="M299,473.7L306.9,472L312.3,477.8L304.4,479.4z" fill="#002dff"/>
<path d="M304.1,478.8L312,477.2L317,482.6L309.1,484.2z" fill="#01f"/>
<path d="M308.8,483.6L316.8,482L321.4,487L313.5,488.6z" fill="#0000f5"/>
<path d="M313.2,488L321.2,486.4L325.5,491.1L317.5,492.6z" fill="#00d"/>
<path d="M317.3,492.1L325.3,490.5L329.2,494.8L321.2,496.3z" fill="#0000c6"/>
<path d="M321,495.8L329,494.3L332.5,498.1L324.4,499.6z" fill="#0000b2"/>
<path d="M324.3,499.1L332.3,497.6L335.4,501L327.3,502.5z" fill="#0000a0"/>
<path d="M327.1,502.1L335.3,500.6L337.9,503.4L329.7,504.9z" fill="#000091"/>
<path d="M149.8,332.6L157.9,330.8L160.5,333.7L152.4,335.5z" fill="#920000"/>
<path d="M152.3,335.1L160.4,333.3L163.4,336.6L155.3,338.4z" fill="#a10000"/>
<path d="M155.2,338L163.2,336.1L166.7,339.9L158.6,341.8z" fill="#b30000"/>
<path d="M158.5,341.3L166.5,339.4L170.4,343.6L162.4,345.5z" fill="#c70000"/>
<path d="M162.2,344.9L170.1,343.1L174.4,347.7L166.4,349.6z" fill="#de0000"/>
<path d="M166.2,349L174.1,347.2L178.8,352.2L170.9,354z" fill="#f60000"/>
<path d="M170.6,353.4L178.5,351.6L183.6,357L175.7,358.8z" fill="#ff1200"/>
<path d="M175.4,358.2L183.3,356.4L188.7,362.1L180.8,363.9z" fill="#ff2e00"/>
<path d="M180.5,363.3L188.3,361.5L194.1,367.5L186.2,369.3z" fill="#ff4d00"/>
<path d="M185.9,368.7L193.7,366.9L199.7,373.2L191.9,375z" fill="#ff6c00"/>
<path d="M191.5,374.4L199.3,372.6L205.6,379.1L197.8,380.9z" fill="#ff8e00"/>
<path d="M197.4,380.3L205.2,378.5L211.7,385.3L203.9,387.1z" fill="#ffb100"/>
<path d="M203.5,386.4L211.3,384.6L218,391.6L210.3,393.4z" fill="#ffd400"/>
<path d="M209.8,392.7L217.6,391L224.5,398.1L216.7,399.9z" fill="#fff900"/>
<path d="M216.3,399.2L224,397.4L231,404.7L223.3,406.4z" fill="#dfff20"/>
<path d="M222.8,405.8L230.6,404L237.6,411.4L229.9,413.1z" fill="#b9ff46"/>
<path d="M229.5,412.4L237.2,410.7L244.3,418.1L236.6,419.8z" fill="#93ff6c"/>
<path d="M236.1,419.1L243.9,417.4L251,424.8L243.2,426.5z" fill="#6cff93"/>
<path d="M242.8,425.8L250.5,424.1L257.6,431.4L249.9,433.1z" fill="#46ffb9"/>
<path d="M249.4,432.4L257.2,430.7L264.1,438L256.4,439.7z" fill="#20ffdf"/>
<path d="M256,439L263.7,437.3L270.6,444.5L262.8,446.1z" fill="#00f9ff"/>
<path d="M262.4,445.5L270.2,443.8L276.9,450.8L269.1,452.5z" fill="#00d4ff"/>
<path d="M268.7,451.8L276.5,450.1L283,456.9L275.2,458.6z" fill="#00b1ff"/>
<path d="M274.8,457.9L282.6,456.3L288.9,462.9L281.1,464.5z" fill="#008eff"/>
<path d="M280.7,463.9L288.5,462.2L294.6,468.6L286.7,470.2z" fill="#006cff"/>
<path d="M286.4,469.5L294.2,467.9L299.9,474L292.1,475.6z" fill="#004dff"/>
<path d="M291.8,475L299.6,473.3L305,479.1L297.2,480.7z" fill="#002eff"/>
<path d="M296.8,480.1L304.7,478.5L309.8,483.8L301.9,485.4z" fill="#0012ff"/>
<path d="M301.6,484.9L309.5,483.3L314.2,488.3L306.3,489.9z" fill="#0000f6"/>
<path d="M306,489.3L314,487.7L318.3,492.3L310.3,493.9z" fill="#0000de"/>
<path d="M310.1,493.4L318.1,491.8L322,496L313.9,497.6z" fill="#0000c7"/>
<path d="M313.7,497.1L321.8,495.5L325.2,499.3L317.2,500.9z" fill="#0000b3"/>
<path d="M317,500.4L325.1,498.9L328.1,502.2L320.1,503.7z" fill="#0000a1"/>
<path d="M319.9,503.3L328,501.8L330.6,504.7L322.5,506.2z" fill="#000092"/>
<path d="M142.6,335L150.7,332.3L153.3,335.2L145.2,337.8z" fill="#960000"/>
<path d="M145.1,337.4L153.1,334.8L156.2,338.1L148.1,340.7z" fill="#a60000"/>
<path d="M147.9,340.3L156,337.7L159.5,341.4L151.4,344z" fill="#b70000"/>
<path d="M151.2,343.5L159.2,340.9L163.1,345.1L155.2,347.7z" fill="#cb0000"/>
<path d="M154.9,347.1L162.9,344.6L167.2,349.2L159.2,351.7z" fill="#e10000"/>
<path d="M159,351.2L166.9,348.7L171.6,353.7L163.7,356.1z" fill="#fa0000"/>
<path d="M163.4,355.5L171.3,353.1L176.4,358.4L168.5,360.8z" fill="#ff1500"/>
<path d="M168.2,360.2L176,357.9L181.4,363.6L173.6,365.9z" fill="#ff3100"/>
<path d="M173.2,365.3L181.1,363L186.8,369L179,371.2z" fill="#ff4f00"/>
<path d="M178.6,370.6L186.4,368.4L192.5,374.7L184.7,376.9z" fill="#ff6f00"/>
<path d="M184.3,376.2L192.1,374L198.4,380.6L190.6,382.7z" fill="#ff9000"/>
<path d="M190.2,382.1L198,379.9L204.5,386.7L196.7,388.8z" fill="#ffb200"/>
<path d="M196.3,388.2L204.1,386.1L210.8,393.1L203,395.1z" fill="#ffd600"/>
<path d="M202.6,394.4L210.4,392.4L217.2,399.5L209.5,401.5z" fill="#fffa00"/>
<path d="M209.1,400.8L216.8,398.9L223.8,406.1L216,408z" fill="#deff21"/>
<path d="M215.6,407.3L223.3,405.4L230.4,412.8L222.7,414.5z" fill="#b9ff46"/>
<path d="M222.2,413.9L230,412.1L237.1,419.4L229.3,421.2z" fill="#93ff6c"/>
<path d="M228.9,420.5L236.6,418.8L243.7,426.1L236,427.8z" fill="#6cff93"/>
<path d="M235.6,427.1L243.3,425.5L250.4,432.8L242.6,434.4z" fill="#46ffb9"/>
<path d="M242.2,433.7L249.9,432.1L256.9,439.4L249.2,440.9z" fill="#21ffde"/>
<path d="M248.7,440.2L256.5,438.7L263.3,445.8L255.6,447.3z" fill="#00faff"/>
<path d="M255.2,446.6L262.9,445.2L269.6,452.1L261.9,453.5z" fill="#00d6ff"/>
<path d="M261.5,452.8L269.3,451.5L275.8,458.3L268,459.6z" fill="#00b2ff"/>
<path d="M267.6,458.9L275.4,457.6L281.7,464.2L273.9,465.4z" fill="#0090ff"/>
<path d="M273.5,464.8L281.3,463.5L287.3,469.9L279.5,471.1z" fill="#006fff"/>
<path d="M279.1,470.4L287,469.2L292.7,475.3L284.9,476.4z" fill="#004fff"/>
<path d="M284.5,475.8L292.4,474.6L297.8,480.4L289.9,481.4z" fill="#0031ff"/>
<path d="M289.6,480.8L297.5,479.7L302.6,485.1L294.6,486.2z" fill="#0015ff"/>
<path d="M294.4,485.5L302.3,484.5L307,489.6L299,490.5z" fill="#0000fa"/>
<path d="M298.8,489.9L306.8,489L311,493.6L303,494.5z" fill="#0000e1"/>
<path d="M302.8,494L310.9,493.1L314.7,497.3L306.7,498.1z" fill="#0000cb"/>
<path d="M306.5,497.6L314.6,496.8L318,500.6L309.9,501.4z" fill="#0000b7"/>
<path d="M309.8,500.9L317.9,500.2L320.9,503.5L312.8,504.2z" fill="#0000a6"/>
<path d="M312.7,503.8L320.8,503.1L323.4,506L315.2,506.6z" fill="#000096"/>
<path d="M135.3,337.5L143.4,334.6L146.1,337.4L138,340.3z" fill="#a00303"/>
<path d="M137.8,339.9L145.9,337L148.9,340.3L140.9,343.1z" fill="#af0303"/>
<path d="M140.7,342.7L148.7,339.9L152.2,343.6L144.2,346.4z" fill="#c00202"/>
<path d="M144,345.9L152,343.1L155.9,347.3L147.9,350z" fill="#d30101"/>
<path d="M147.7,349.5L155.6,346.8L160,351.3L152,354z" fill="#e90000"/>
<path d="M151.7,353.4L159.7,350.8L164.4,355.7L156.5,358.3z" fill="#ff0100"/>
<path d="M156.2,357.8L164.1,355.2L169.1,360.5L161.2,363z" fill="#ff1b00"/>
<path d="M160.9,362.4L168.8,359.9L174.2,365.5L166.4,368z" fill="#ff3700"/>
<path d="M166,367.4L173.9,364.9L179.6,370.9L171.8,373.3z" fill="#ff5400"/>
<path d="M171.4,372.7L179.2,370.3L185.3,376.5L177.4,378.8z" fill="#ff7300"/>
<path d="M177.1,378.2L184.9,375.9L191.2,382.4L183.4,384.6z" fill="#ff9400"/>
<path d="M183,384L190.7,381.7L197.3,388.5L189.5,390.6z" fill="#ffb600"/>
<path d="M189.1,390L196.8,387.8L203.6,394.7L195.8,396.8z" fill="#ffd900"/>
<path d="M195.4,396.1L203.1,394.1L210,401.1L202.2,403.1z" fill="#fffd00"/>
<path d="M201.8,402.4L209.6,400.5L216.5,407.6L208.8,409.5z" fill="#df2"/>
<path d="M208.4,408.9L216.1,407L223.2,414.2L215.4,416z" fill="#b8ff47"/>
<path d="M215,415.4L222.7,413.6L229.8,420.8L222.1,422.6z" fill="#92ff6d"/>
<path d="M221.7,421.9L229.4,420.2L236.5,427.5L228.8,429.1z" fill="#6dff92"/>
<path d="M228.3,428.4L236.1,426.8L243.1,434L235.4,435.6z" fill="#47ffb8"/>
<path d="M235,434.9L242.7,433.4L249.7,440.6L241.9,442z" fill="#2fd"/>
<path d="M241.5,441.3L249.3,439.9L256.1,446.9L248.4,448.3z" fill="#00fdff"/>
<path d="M248,447.7L255.7,446.3L262.4,453.2L254.7,454.5z" fill="#00d9ff"/>
<path d="M254.2,453.8L262,452.5L268.5,459.3L260.8,460.5z" fill="#00b6ff"/>
<path d="M260.4,459.8L268.2,458.6L274.4,465.1L266.6,466.3z" fill="#0094ff"/>
<path d="M266.3,465.6L274.1,464.5L280.1,470.7L272.3,471.8z" fill="#0073ff"/>
<path d="M271.9,471.2L279.8,470.1L285.5,476.1L277.6,477.1z" fill="#0054ff"/>
<path d="M277.3,476.4L285.2,475.4L290.6,481.1L282.7,482.1z" fill="#0037ff"/>
<path d="M282.4,481.4L290.3,480.5L295.3,485.9L287.4,486.7z" fill="#001bff"/>
<path d="M287.1,486.1L295.1,485.3L299.7,490.2L291.8,491z" fill="#0001ff"/>
<path d="M291.6,490.4L299.6,489.7L303.8,494.3L295.8,495z" fill="#0000e9"/>
<path d="M295.6,494.4L303.7,493.7L307.5,497.9L299.4,498.5z" fill="#0101d3"/>
<path d="M299.3,498L307.4,497.4L310.8,501.2L302.7,501.7z" fill="#0202c0"/>
<path d="M302.6,501.3L310.7,500.7L313.7,504L305.5,504.5z" fill="#0303af"/>
<path d="M305.5,504.1L313.6,503.6L316.2,506.5L308,506.9z" fill="#0303a0"/>
<path d="M132.9,338.3L135.8,337L138.8,340L135.9,341.4z" fill="#a90a0a"/>
<path d="M135.4,340.7L138.3,339.4L141.7,342.9L138.9,344.2z" fill="#b70909"/>
<path d="M138.3,343.5L141.1,342.2L145,346.1L142.2,347.4z" fill="#c70808"/>
<path d="M141.6,346.7L144.4,345.5L148.6,349.8L145.9,350.9z" fill="#da0707"/>
<path d="M145.3,350.2L148,349.1L152.7,353.8L150,354.9z" fill="#ef0606"/>
<path d="M149.4,354.2L152.1,353.1L157.1,358.1L154.4,359.2z" fill="#ff0b05"/>
<path d="M153.8,358.5L156.5,357.4L161.9,362.8L159.2,363.8z" fill="#ff2303"/>
<path d="M158.6,363.1L161.2,362.1L166.9,367.8L164.3,368.8z" fill="#ff3d02"/>
<path d="M163.7,368.1L166.3,367.1L172.3,373L169.7,374z" fill="#ff5900"/>
<path d="M169,373.3L171.7,372.4L178,378.6L175.4,379.5z" fill="#f70"/>
<path d="M174.7,378.8L177.3,377.9L183.9,384.4L181.3,385.3z" fill="#ff9700"/>
<path d="M180.6,384.6L183.2,383.7L190,390.4L187.4,391.2z" fill="#ffb900"/>
<path d="M186.7,390.5L189.3,389.7L196.3,396.6L193.7,397.3z" fill="#ffdb00"/>
<path d="M193,396.6L195.6,395.9L202.7,402.9L200.1,403.6z" fill="#fffe00"/>
<path d="M199.5,402.9L202,402.2L209.3,409.3L206.7,410z" fill="#dbff24"/>
<path d="M206,409.3L208.6,408.6L215.9,415.8L213.3,416.5z" fill="#b7ff48"/>
<path d="M212.6,415.8L215.2,415.1L222.6,422.3L220,423z" fill="#92ff6d"/>
<path d="M219.3,422.2L221.9,421.6L229.2,428.9L226.7,429.4z" fill="#6dff92"/>
<path d="M226,428.7L228.5,428.2L235.8,435.4L233.3,435.9z" fill="#48ffb7"/>
<path d="M232.6,435.2L235.2,434.7L242.4,441.8L239.8,442.3z" fill="#24ffdb"/>
<path d="M239.2,441.6L241.7,441.1L248.8,448.1L246.3,448.6z" fill="#00feff"/>
<path d="M245.6,447.9L248.2,447.4L255.1,454.3L252.6,454.7z" fill="#00dbff"/>
<path d="M251.9,454L254.5,453.6L261.2,460.3L258.7,460.7z" fill="#00b9ff"/>
<path d="M258,460L260.6,459.6L267.1,466.1L264.6,466.4z" fill="#0097ff"/>
<path d="M263.9,465.7L266.5,465.3L272.8,471.6L270.2,471.9z" fill="#07f"/>
<path d="M269.6,471.2L272.2,470.9L278.2,476.9L275.6,477.2z" fill="#0059ff"/>
<path d="M274.9,476.5L277.5,476.2L283.3,481.9L280.7,482.1z" fill="#023dff"/>
<path d="M280,481.4L282.6,481.1L288,486.5L285.4,486.8z" fill="#0323ff"/>
<path d="M284.8,486.1L287.4,485.8L292.5,490.9L289.8,491.1z" fill="#050bff"/>
<path d="M289.2,490.4L291.9,490.1L296.5,494.8L293.9,495.1z" fill="#0606ef"/>
<path d="M293.3,494.3L295.9,494.1L300.2,498.4L297.5,498.7z" fill="#0707da"/>
<path d="M296.9,497.9L299.6,497.7L303.5,501.6L300.8,501.9z" fill="#0808c7"/>
<path d="M300.2,501.2L303,500.9L306.4,504.5L303.6,504.7z" fill="#0909b7"/>
<path d="M303.1,504L305.9,503.7L308.9,506.9L306,507.1z" fill="#0a0aa9"/>
<path d="M129.3,339.8L133.6,337.9L136.4,340.9L132.2,342.8z" fill="#ae0a0a"/>
<path d="M131.8,342.2L136,340.4L139.3,343.8L135.1,345.6z" fill="#bc0909"/>
<path d="M134.7,344.9L138.8,343.2L142.6,347L138.4,348.7z" fill="#cc0808"/>
<path d="M138,348.1L142.1,346.4L146.2,350.6L142.2,352.3z" fill="#de0707"/>
<path d="M141.7,351.6L145.7,350L150.3,354.6L146.3,356.2z" fill="#f30606"/>
<path d="M145.7,355.5L149.8,353.9L154.7,358.9L150.7,360.5z" fill="#ff0f05"/>
<path d="M150.2,359.8L154.1,358.2L159.5,363.5L155.5,365.1z" fill="#ff2703"/>
<path d="M154.9,364.4L158.9,362.9L164.6,368.5L160.6,370z" fill="#ff4002"/>
<path d="M160,369.3L164,367.8L169.9,373.8L166,375.2z" fill="#ff5c00"/>
<path d="M165.4,374.5L169.3,373.1L175.6,379.3L171.7,380.6z" fill="#ff7a00"/>
<path d="M171.1,379.9L175,378.6L181.5,385L177.6,386.3z" fill="#ff9a00"/>
<path d="M177,385.6L180.9,384.3L187.6,391L183.7,392.2z" fill="#fb0"/>
<path d="M183.1,391.5L187,390.3L193.9,397.1L190,398.3z" fill="#fd0"/>
<path d="M189.4,397.6L193.3,396.4L200.3,403.4L196.5,404.5z" fill="#feff01"/>
<path d="M195.8,403.8L199.7,402.7L206.9,409.8L203,410.9z" fill="#daff25"/>
<path d="M202.4,410.1L206.2,409.1L213.5,416.3L209.6,417.2z" fill="#b6ff49"/>
<path d="M209,416.5L212.9,415.6L220.2,422.8L216.3,423.7z" fill="#92ff6d"/>
<path d="M215.7,423L219.5,422.1L226.8,429.3L223,430.1z" fill="#6dff92"/>
<path d="M222.3,429.4L226.2,428.6L233.5,435.7L229.6,436.5z" fill="#49ffb6"/>
<path d="M229,435.8L232.8,435L240,442.1L236.2,442.8z" fill="#25ffda"/>
<path d="M235.5,442.1L239.4,441.4L246.4,448.4L242.6,449.1z" fill="#01fffe"/>
<path d="M242,448.4L245.8,447.7L252.7,454.5L248.9,455.2z" fill="#0df"/>
<path d="M248.3,454.4L252.1,453.8L258.9,460.5L255,461.1z" fill="#0bf"/>
<path d="M254.4,460.3L258.2,459.8L264.8,466.2L260.9,466.8z" fill="#009aff"/>
<path d="M260.3,466.1L264.2,465.5L270.4,471.7L266.5,472.2z" fill="#007aff"/>
<path d="M265.9,471.5L269.8,471L275.8,477L271.9,477.4z" fill="#005cff"/>
<path d="M271.3,476.7L275.2,476.3L280.9,481.9L277,482.4z" fill="#0240ff"/>
<path d="M276.4,481.6L280.3,481.2L285.7,486.6L281.7,487z" fill="#0327ff"/>
<path d="M281.2,486.2L285.1,485.8L290.1,490.9L286.1,491.2z" fill="#050fff"/>
<path d="M285.6,490.5L289.6,490.1L294.1,494.8L290.1,495.2z" fill="#0606f3"/>
<path d="M289.6,494.4L293.7,494.1L297.8,498.4L293.8,498.7z" fill="#0707de"/>
<path d="M293.3,498L297.4,497.7L301.1,501.6L297,501.9z" fill="#0808cc"/>
<path d="M296.6,501.2L300.8,500.9L304,504.4L299.8,504.7z" fill="#0909bc"/>
<path d="M299.5,504L303.8,503.8L306.5,506.8L302.2,507z" fill="#0a0aae"/>
<path d="M125.7,341.2L130,339.4L132.8,342.4L128.5,344.2z" fill="#b40a0a"/>
<path d="M128.2,343.6L132.4,341.8L135.7,345.2L131.5,347z" fill="#c20909"/>
<path d="M131.1,346.3L135.2,344.6L139,348.4L134.8,350.1z" fill="#d20808"/>
<path d="M134.4,349.5L138.5,347.7L142.6,351.9L138.5,353.6z" fill="#e40707"/>
<path d="M138.1,353L142.1,351.3L146.7,355.9L142.6,357.5z" fill="#f80606"/>
<path d="M142.1,356.8L146.1,355.2L151.1,360.2L147.1,361.7z" fill="#ff1405"/>
<path d="M146.5,361.1L150.5,359.5L155.9,364.8L151.9,366.3z" fill="#ff2b03"/>
<path d="M151.3,365.6L155.3,364.1L160.9,369.7L157,371.2z" fill="#ff4502"/>
<path d="M156.4,370.5L160.3,369L166.3,374.9L162.4,376.3z" fill="#ff6000"/>
<path d="M161.8,375.6L165.7,374.2L172,380.4L168.1,381.7z" fill="#ff7e00"/>
<path d="M167.5,381L171.4,379.7L177.9,386.1L174,387.4z" fill="#ff9d00"/>
<path d="M173.4,386.7L177.2,385.4L184,392L180.1,393.2z" fill="#ffbd00"/>
<path d="M179.5,392.5L183.4,391.3L190.3,398.1L186.4,399.2z" fill="#ffdf00"/>
<path d="M185.8,398.5L189.6,397.4L196.7,404.3L192.8,405.4z" fill="#fcff03"/>
<path d="M192.2,404.7L196.1,403.6L203.3,410.6L199.4,411.7z" fill="#d9ff26"/>
<path d="M198.8,411L202.6,409.9L209.9,417L206,418z" fill="#b6ff49"/>
<path d="M205.4,417.3L209.3,416.3L216.6,423.5L212.7,424.4z" fill="#92ff6d"/>
<path d="M212.1,423.7L215.9,422.8L223.2,429.9L219.4,430.8z" fill="#6dff92"/>
<path d="M218.7,430.1L222.6,429.2L229.8,436.3L226,437.1z" fill="#49ffb6"/>
<path d="M225.4,436.4L229.2,435.6L236.4,442.6L232.5,443.4z" fill="#26ffd9"/>
<path d="M231.9,442.7L235.8,441.9L242.8,448.9L239,449.5z" fill="#03fffc"/>
<path d="M238.3,448.8L242.2,448.1L249.1,454.9L245.3,455.6z" fill="#00dfff"/>
<path d="M244.6,454.9L248.5,454.2L255.2,460.8L251.4,461.4z" fill="#00bdff"/>
<path d="M250.8,460.7L254.6,460.1L261.1,466.5L257.3,467.1z" fill="#009dff"/>
<path d="M256.7,466.4L260.5,465.8L266.8,472L262.9,472.5z" fill="#007eff"/>
<path d="M262.3,471.8L266.2,471.3L272.2,477.2L268.3,477.6z" fill="#0060ff"/>
<path d="M267.7,476.9L271.6,476.5L277.3,482.1L273.4,482.5z" fill="#0245ff"/>
<path d="M272.8,481.8L276.7,481.4L282,486.7L278.1,487.1z" fill="#032bff"/>
<path d="M277.5,486.4L281.5,486L286.5,491L282.5,491.3z" fill="#0514ff"/>
<path d="M282,490.6L286,490.2L290.5,494.9L286.5,495.2z" fill="#0606f8"/>
<path d="M286,494.5L290.1,494.2L294.2,498.4L290.1,498.7z" fill="#0707e4"/>
<path d="M289.7,498L293.8,497.7L297.5,501.6L293.4,501.9z" fill="#0808d2"/>
<path d="M293,501.2L297.2,500.9L300.4,504.4L296.2,504.6z" fill="#0909c2"/>
<path d="M295.8,504L300.1,503.7L302.9,506.8L298.6,507z" fill="#0a0ab4"/>
<path d="M122.1,343.2L126.3,340.8L129.2,343.7L124.9,346.1z" fill="#c01b1b"/>
<path d="M124.6,345.6L128.8,343.2L132.1,346.5L127.9,348.8z" fill="#cd1919"/>
<path d="M127.5,348.2L131.6,346L135.4,349.7L131.2,351.9z" fill="#db1818"/>
<path d="M130.8,351.3L134.9,349.1L139,353.3L134.9,355.4z" fill="#ec1616"/>
<path d="M134.4,354.8L138.5,352.6L143.1,357.2L139,359.2z" fill="#ff1414"/>
<path d="M138.5,358.6L142.5,356.5L147.5,361.4L143.5,363.4z" fill="#ff2712"/>
<path d="M142.9,362.7L146.9,360.8L152.2,366L148.3,367.9z" fill="#ff3c10"/>
<path d="M147.7,367.2L151.7,365.3L157.3,370.8L153.4,372.7z" fill="#ff530d"/>
<path d="M152.8,372L156.7,370.2L162.7,376L158.8,377.7z" fill="#ff6b0b"/>
<path d="M158.2,377.1L162.1,375.3L168.4,381.4L164.4,383.1z" fill="#ff8608"/>
<path d="M163.8,382.4L167.7,380.8L174.3,387.1L170.3,388.6z" fill="#ffa305"/>
<path d="M169.7,387.9L173.6,386.4L180.4,393L176.5,394.4z" fill="#ffc102"/>
<path d="M175.9,393.7L179.7,392.3L186.7,399L182.8,400.3z" fill="#ffe200"/>
<path d="M182.2,399.6L186,398.3L193.1,405.2L189.2,406.4z" fill="#faff05"/>
<path d="M188.6,405.7L192.5,404.5L199.7,411.4L195.8,412.6z" fill="#d8ff27"/>
<path d="M195.2,411.9L199,410.7L206.3,417.8L202.4,418.8z" fill="#b5ff4a"/>
<path d="M201.8,418.1L205.6,417.1L212.9,424.2L209.1,425.1z" fill="#91ff6e"/>
<path d="M208.4,424.4L212.3,423.5L219.6,430.5L215.7,431.4z" fill="#6eff91"/>
<path d="M215.1,430.7L219,429.8L226.2,436.9L222.4,437.6z" fill="#4affb5"/>
<path d="M221.7,436.9L225.6,436.2L232.8,443.2L228.9,443.8z" fill="#27ffd8"/>
<path d="M228.3,443.1L232.1,442.5L239.2,449.3L235.4,449.9z" fill="#05fffa"/>
<path d="M234.7,449.1L238.6,448.6L245.5,455.4L241.7,455.8z" fill="#00e2ff"/>
<path d="M241,455.1L244.9,454.6L251.6,461.2L247.8,461.6z" fill="#02c1ff"/>
<path d="M247.1,460.8L251,460.5L257.5,466.9L253.7,467.1z" fill="#05a3ff"/>
<path d="M253,466.4L256.9,466.1L263.2,472.3L259.3,472.5z" fill="#0886ff"/>
<path d="M258.7,471.7L262.6,471.5L268.6,477.4L264.7,477.5z" fill="#0b6bff"/>
<path d="M264.1,476.8L268,476.7L273.7,482.3L269.8,482.3z" fill="#0d53ff"/>
<path d="M269.2,481.6L273.1,481.6L278.4,486.8L274.5,486.8z" fill="#103cff"/>
<path d="M273.9,486.1L277.9,486.1L282.8,491.1L278.9,491z" fill="#1227ff"/>
<path d="M278.3,490.3L282.3,490.3L286.9,494.9L282.9,494.8z" fill="#1414ff"/>
<path d="M282.4,494.1L286.4,494.2L290.6,498.5L286.5,498.3z" fill="#1616ec"/>
<path d="M286.1,497.6L290.2,497.7L293.9,501.6L289.7,501.4z" fill="#1818db"/>
<path d="M289.4,500.7L293.6,500.9L296.8,504.4L292.5,504.1z" fill="#1919cd"/>
<path d="M292.2,503.4L296.6,503.7L299.2,506.7L294.9,506.4z" fill="#1b1bc0"/>
<path d="M118.5,345.2L122.7,342.8L125.6,345.6L121.3,348z" fill="#ca1b1b"/>
<path d="M121,347.5L125.1,345.1L128.5,348.4L124.3,350.7z" fill="#d61919"/>
<path d="M123.9,350.1L128,347.8L131.7,351.5L127.6,353.8z" fill="#e41818"/>
<path d="M127.1,353.2L131.2,350.9L135.4,355L131.3,357.2z" fill="#f51616"/>
<path d="M130.8,356.5L134.9,354.4L139.5,358.9L135.4,360.9z" fill="#ff1c14"/>
<path d="M134.9,360.3L138.9,358.2L143.9,363L139.9,365z" fill="#ff2f12"/>
<path d="M139.3,364.4L143.3,362.4L148.6,367.5L144.6,369.4z" fill="#ff4310"/>
<path d="M144.1,368.8L148,366.9L153.7,372.3L149.7,374.2z" fill="#ff590d"/>
<path d="M149.2,373.5L153.1,371.7L159.1,377.4L155.1,379.2z" fill="#ff720b"/>
<path d="M154.6,378.5L158.5,376.8L164.7,382.8L160.8,384.4z" fill="#ff8c08"/>
<path d="M160.2,383.7L164.1,382.1L170.6,388.3L166.7,389.9z" fill="#ffa805"/>
<path d="M166.1,389.2L170,387.7L176.8,394.1L172.9,395.5z" fill="#ffc602"/>
<path d="M172.2,394.9L176.1,393.4L183,400.1L179.2,401.4z" fill="#ffe600"/>
<path d="M178.5,400.7L182.4,399.4L189.5,406.1L185.6,407.4z" fill="#f7ff08"/>
<path d="M185,406.7L188.9,405.5L196,412.3L192.2,413.4z" fill="#d6ff29"/>
<path d="M191.5,412.8L195.4,411.6L202.7,418.6L198.8,419.6z" fill="#b3ff4c"/>
<path d="M198.2,418.9L202,417.9L209.3,424.9L205.5,425.8z" fill="#91ff6e"/>
<path d="M204.8,425.1L208.7,424.2L216,431.1L212.1,432z" fill="#6eff91"/>
<path d="M211.5,431.3L215.3,430.4L222.6,437.4L218.8,438.1z" fill="#4cffb3"/>
<path d="M218.1,437.4L222,436.7L229.2,443.6L225.3,444.2z" fill="#29ffd6"/>
<path d="M224.7,443.5L228.5,442.9L235.6,449.6L231.8,450.2z" fill="#08fff7"/>
<path d="M231.1,449.5L235,448.9L241.9,455.6L238,456z" fill="#00e6ff"/>
<path d="M237.4,455.3L241.3,454.9L248,461.3L244.2,461.7z" fill="#02c6ff"/>
<path d="M243.5,461L247.4,460.6L253.9,466.9L250.1,467.2z" fill="#05a8ff"/>
<path d="M249.4,466.5L253.3,466.2L259.6,472.2L255.7,472.4z" fill="#088cff"/>
<path d="M255.1,471.7L259,471.5L265,477.3L261.1,477.4z" fill="#0b72ff"/>
<path d="M260.5,476.7L264.4,476.6L270,482.1L266.1,482.2z" fill="#0d59ff"/>
<path d="M265.6,481.4L269.5,481.4L274.8,486.6L270.9,486.6z" fill="#1043ff"/>
<path d="M270.3,485.9L274.3,485.9L279.2,490.8L275.3,490.7z" fill="#122fff"/>
<path d="M274.7,490L278.7,490L283.3,494.6L279.3,494.5z" fill="#141cff"/>
<path d="M278.8,493.7L282.8,493.8L287,498L282.9,497.9z" fill="#1616f5"/>
<path d="M282.5,497.1L286.6,497.3L290.3,501.1L286.1,500.9z" fill="#1818e4"/>
<path d="M285.7,500.2L290,500.4L293.1,503.8L288.9,503.6z" fill="#1919d6"/>
<path d="M288.6,502.9L293,503.2L295.6,506.2L291.3,505.8z" fill="#1b1bca"/>
<path d="M114.9,347.9L119.1,344.7L122,347.5L117.7,350.7z" fill="#da3434"/>
<path d="M117.3,350.2L121.5,347L124.8,350.2L120.7,353.3z" fill="#e53232"/>
<path d="M120.2,352.7L124.4,349.7L128.1,353.3L124,356.3z" fill="#f12f2f"/>
<path d="M123.5,355.7L127.6,352.8L131.8,356.7L127.7,359.6z" fill="#ff2d2c"/>
<path d="M127.2,359L131.3,356.2L135.9,360.5L131.8,363.3z" fill="#ff3a29"/>
<path d="M131.3,362.6L135.3,359.9L140.3,364.6L136.2,367.2z" fill="#ff4926"/>
<path d="M135.7,366.6L139.7,364L145,369.1L141,371.6z" fill="#ff5a22"/>
<path d="M140.5,370.9L144.4,368.5L150.1,373.8L146.1,376.2z" fill="#ff6d1f"/>
<path d="M145.5,375.5L149.5,373.2L155.5,378.8L151.5,381z" fill="#ff821a"/>
<path d="M150.9,380.4L154.9,378.2L161.1,384.1L157.2,386.1z" fill="#ff9916"/>
<path d="M156.6,385.5L160.5,383.4L167,389.6L163.1,391.5z" fill="#ffb212"/>
<path d="M162.5,390.8L166.4,388.9L173.1,395.3L169.2,397z" fill="#ffce0d"/>
<path d="M168.6,396.3L172.5,394.6L179.4,401.1L175.5,402.7z" fill="#ffeb08"/>
<path d="M174.9,402L178.8,400.5L185.9,407.1L182,408.5z" fill="#f4ff0e"/>
<path d="M181.4,407.8L185.2,406.4L192.4,413.2L188.6,414.4z" fill="#d3ff2c"/>
<path d="M187.9,413.8L191.8,412.5L199.1,419.4L195.2,420.4z" fill="#b2ff4d"/>
<path d="M194.5,419.8L198.4,418.7L205.7,425.5L201.9,426.5z" fill="#90ff6f"/>
<path d="M201.2,425.8L205.1,424.9L212.4,431.7L208.5,432.5z" fill="#6fff90"/>
<path d="M207.9,431.8L211.7,431L219,437.9L215.2,438.5z" fill="#4dffb2"/>
<path d="M214.5,437.8L218.4,437.2L225.5,444L221.7,444.4z" fill="#2cffd3"/>
<path d="M221.1,443.7L224.9,443.3L232,450L228.2,450.3z" fill="#0efff4"/>
<path d="M227.5,449.6L231.3,449.3L238.3,455.8L234.4,456z" fill="#08ebff"/>
<path d="M233.8,455.2L237.6,455.1L244.4,461.5L240.6,461.5z" fill="#0dceff"/>
<path d="M239.9,460.8L243.8,460.8L250.3,467L246.5,466.8z" fill="#12b2ff"/>
<path d="M245.8,466.1L249.7,466.2L255.9,472.2L252.1,472z" fill="#1699ff"/>
<path d="M251.5,471.2L255.3,471.5L261.3,477.2L257.5,476.8z" fill="#1a82ff"/>
<path d="M256.9,476.1L260.7,476.5L266.4,481.9L262.5,481.4z" fill="#1f6dff"/>
<path d="M261.9,480.7L265.8,481.2L271.2,486.4L267.3,485.8z" fill="#225aff"/>
<path d="M266.7,485L270.6,485.6L275.6,490.5L271.7,489.8z" fill="#2649ff"/>
<path d="M271.1,489L275.1,489.7L279.7,494.2L275.7,493.4z" fill="#293aff"/>
<path d="M275.2,492.7L279.2,493.5L283.3,497.6L279.3,496.8z" fill="#2c2dff"/>
<path d="M278.9,496L283,496.9L286.6,500.7L282.5,499.7z" fill="#2f2ff1"/>
<path d="M282.1,499L286.4,500L289.5,503.4L285.2,502.3z" fill="#3232e5"/>
<path d="M285,501.6L289.5,502.8L292,505.7L287.6,504.4z" fill="#3434da"/>
<path d="M111.2,350.7L115.5,347.4L118.3,350.1L114.1,353.3z" fill="#e83434"/>
<path d="M113.7,352.8L117.9,349.7L121.2,352.8L117,355.8z" fill="#f23232"/>
<path d="M116.6,355.3L120.8,352.3L124.5,355.8L120.4,358.8z" fill="#fe2f2f"/>
<path d="M119.9,358.2L124,355.3L128.2,359.1L124.1,362z" fill="#ff392c"/>
<path d="M123.6,361.4L127.7,358.6L132.2,362.8L128.2,365.6z" fill="#ff4629"/>
<path d="M127.6,365L131.7,362.3L136.7,366.9L132.6,369.5z" fill="#ff5526"/>
<path d="M132.1,368.8L136.1,366.3L141.4,371.2L137.4,373.7z" fill="#ff6522"/>
<path d="M136.8,373L140.8,370.6L146.5,375.8L142.5,378.1z" fill="#ff771f"/>
<path d="M141.9,377.5L145.9,375.2L151.9,380.7L147.9,382.9z" fill="#ff8b1a"/>
<path d="M147.3,382.2L151.3,380.1L157.5,385.8L153.6,387.9z" fill="#ffa216"/>
<path d="M153,387.2L156.9,385.2L163.4,391.2L159.5,393.1z" fill="#ffba12"/>
<path d="M158.9,392.4L162.8,390.5L169.5,396.7L165.6,398.5z" fill="#ffd40d"/>
<path d="M165,397.8L168.9,396.1L175.8,402.4L171.9,404z" fill="#fff008"/>
<path d="M171.3,403.3L175.2,401.8L182.3,408.3L178.4,409.7z" fill="#efff13"/>
<path d="M177.7,409L181.6,407.6L188.8,414.2L184.9,415.5z" fill="#d0ff2f"/>
<path d="M184.3,414.8L188.2,413.5L195.4,420.2L191.6,421.3z" fill="#b0ff4f"/>
<path d="M190.9,420.6L194.8,419.5L202.1,426.2L198.2,427.2z" fill="#90ff6f"/>
<path d="M197.6,426.5L201.4,425.6L208.8,432.3L204.9,433z" fill="#6fff90"/>
<path d="M204.3,432.4L208.1,431.6L215.4,438.3L211.5,438.9z" fill="#4fffb0"/>
<path d="M210.9,438.2L214.7,437.6L221.9,444.2L218.1,444.7z" fill="#2fffd0"/>
<path d="M217.4,444L221.3,443.5L228.4,450L224.5,450.3z" fill="#13ffef"/>
<path d="M223.9,449.6L227.7,449.3L234.7,455.7L230.8,455.9z" fill="#08f0ff"/>
<path d="M230.2,455.2L234,455L240.8,461.3L236.9,461.3z" fill="#0dd4ff"/>
<path d="M236.3,460.6L240.1,460.6L246.7,466.6L242.8,466.5z" fill="#12baff"/>
<path d="M242.2,465.8L246,465.9L252.3,471.7L248.5,471.5z" fill="#16a2ff"/>
<path d="M247.9,470.8L251.7,471L257.7,476.6L253.9,476.2z" fill="#1a8bff"/>
<path d="M253.2,475.5L257.1,475.9L262.8,481.2L258.9,480.7z" fill="#1f77ff"/>
<path d="M258.3,480L262.2,480.5L267.6,485.5L263.7,484.9z" fill="#2265ff"/>
<path d="M263.1,484.2L267,484.8L272,489.5L268.1,488.8z" fill="#2655ff"/>
<path d="M267.5,488.1L271.5,488.8L276,493.2L272.1,492.4z" fill="#2946ff"/>
<path d="M271.6,491.7L275.6,492.4L279.7,496.5L275.7,495.7z" fill="#2c39ff"/>
<path d="M275.2,494.9L279.4,495.8L283,499.5L278.9,498.6z" fill="#2f2ffe"/>
<path d="M278.5,497.8L282.8,498.8L285.9,502.1L281.6,501.1z" fill="#3232f2"/>
<path d="M281.4,500.4L285.8,501.5L288.4,504.4L284,503.1z" fill="#3434e8"/>
<path d="M107.6,354L111.8,350.1L114.7,352.7L110.5,356.5z" fill="#f84949"/>
<path d="M110.1,356.1L114.3,352.3L117.6,355.3L113.4,359z" fill="#ff4846"/>
<path d="M113,358.5L117.1,354.9L120.9,358.2L116.8,361.8z" fill="#ff4f43"/>
<path d="M116.3,361.3L120.4,357.8L124.6,361.5L120.5,364.9z" fill="#ff583f"/>
<path d="M120,364.4L124,361L128.6,365.1L124.6,368.4z" fill="#ff623b"/>
<path d="M124,367.8L128.1,364.6L133,369L129,372.2z" fill="#ff6e37"/>
<path d="M128.4,371.6L132.5,368.5L137.8,373.3L133.8,376.2z" fill="#ff7b32"/>
<path d="M133.2,375.6L137.2,372.7L142.9,377.8L138.9,380.5z" fill="#ff8b2d"/>
<path d="M138.3,379.9L142.3,377.2L148.3,382.5L144.3,385.1z" fill="#ff9c27"/>
<path d="M143.7,384.5L147.6,381.9L153.9,387.5L150,389.9z" fill="#ffb022"/>
<path d="M149.4,389.3L153.3,386.9L159.8,392.8L155.9,394.9z" fill="#ffc51c"/>
<path d="M155.3,394.3L159.2,392.1L165.9,398.2L162,400.1z" fill="#ffdd16"/>
<path d="M161.4,399.5L165.3,397.5L172.2,403.7L168.3,405.5z" fill="#fff70f"/>
<path d="M167.7,404.8L171.6,403.1L178.7,409.4L174.8,411z" fill="#ebff1d"/>
<path d="M174.1,410.3L178,408.8L185.2,415.2L181.3,416.6z" fill="#ccff34"/>
<path d="M180.7,415.9L184.5,414.5L191.8,421L188,422.2z" fill="#aeff51"/>
<path d="M187.3,421.5L191.2,420.4L198.5,426.9L194.6,427.9z" fill="#8fff70"/>
<path d="M194,427.2L197.8,426.3L205.1,432.8L201.3,433.5z" fill="#70ff8f"/>
<path d="M200.6,432.9L204.5,432.1L211.8,438.7L207.9,439.2z" fill="#51ffae"/>
<path d="M207.3,438.5L211.1,438L218.3,444.5L214.5,444.7z" fill="#34ffcc"/>
<path d="M213.8,444.1L217.7,443.8L224.8,450.1L220.9,450.2z" fill="#1dffeb"/>
<path d="M220.3,449.5L224.1,449.4L231.1,455.7L227.2,455.6z" fill="#0ff7ff"/>
<path d="M226.6,454.9L230.4,455L237.2,461.1L233.3,460.8z" fill="#16ddff"/>
<path d="M232.7,460.1L236.5,460.4L243.1,466.3L239.2,465.8z" fill="#1cc5ff"/>
<path d="M238.6,465.1L242.4,465.6L248.7,471.3L244.9,470.6z" fill="#22b0ff"/>
<path d="M244.2,469.9L248.1,470.6L254.1,476L250.3,475.2z" fill="#279cff"/>
<path d="M249.6,474.5L253.5,475.3L259.2,480.5L255.4,479.6z" fill="#2d8bff"/>
<path d="M254.7,478.8L258.6,479.8L263.9,484.7L260.1,483.6z" fill="#327bff"/>
<path d="M259.5,482.9L263.4,484L268.4,488.6L264.5,487.4z" fill="#376eff"/>
<path d="M263.9,486.7L267.8,487.9L272.4,492.2L268.5,490.9z" fill="#3b62ff"/>
<path d="M268,490.1L272,491.4L276.1,495.4L272.1,494z" fill="#3f58ff"/>
<path d="M271.6,493.2L275.8,494.7L279.4,498.3L275.2,496.8z" fill="#434fff"/>
<path d="M274.9,496L279.3,497.7L282.3,500.9L277.9,499.1z" fill="#4648ff"/>
<path d="M277.8,498.5L282.3,500.5L284.8,503.1L280.2,501z" fill="#4949f8"/>
<path d="M104,357.9L108.2,353.4L111.1,355.9L106.9,360.3z" fill="#ff6259"/>
<path d="M106.5,359.9L110.7,355.6L114,358.4L109.8,362.6z" fill="#ff6756"/>
<path d="M109.4,362.2L113.5,358L117.3,361.3L113.1,365.3z" fill="#ff6d52"/>
<path d="M112.7,364.9L116.8,360.8L121,364.4L116.9,368.3z" fill="#ff734e"/>
<path d="M116.4,367.8L120.4,363.9L125,367.9L120.9,371.6z" fill="#ff7c49"/>
<path d="M120.4,371.1L124.5,367.4L129.4,371.7L125.4,375.2z" fill="#ff8544"/>
<path d="M124.8,374.7L128.9,371.2L134.2,375.8L130.2,379.1z" fill="#ff913e"/>
<path d="M129.6,378.5L133.6,375.2L139.3,380.1L135.3,383.2z" fill="#ff9e38"/>
<path d="M134.7,382.7L138.7,379.6L144.7,384.7L140.7,387.6z" fill="#ffad32"/>
<path d="M140.1,387L144,384.1L150.3,389.6L146.4,392.2z" fill="#ffbe2b"/>
<path d="M145.7,391.6L149.7,389L156.2,394.6L152.3,397z" fill="#ffd124"/>
<path d="M151.6,396.4L155.6,394L162.3,399.8L158.4,402z" fill="#ffe71d"/>
<path d="M157.8,401.4L161.7,399.2L168.6,405.2L164.7,407.1z" fill="#ffff15"/>
<path d="M164.1,406.5L168,404.6L175,410.7L171.2,412.4z" fill="#e5ff27"/>
<path d="M170.5,411.7L174.4,410.1L181.6,416.3L177.7,417.7z" fill="#c8ff3c"/>
<path d="M177.1,417.1L180.9,415.6L188.2,421.9L184.4,423.1z" fill="#abff54"/>
<path d="M183.7,422.5L187.5,421.3L194.9,427.6L191,428.6z" fill="#8eff71"/>
<path d="M190.4,427.9L194.2,427L201.5,433.3L197.7,434z" fill="#71ff8e"/>
<path d="M197,433.3L200.9,432.6L208.2,439L204.3,439.4z" fill="#54ffab"/>
<path d="M203.7,438.7L207.5,438.3L214.7,444.5L210.9,444.7z" fill="#3cffc8"/>
<path d="M210.2,444L214,443.9L221.1,450L217.3,450z" fill="#27ffe5"/>
<path d="M216.7,449.3L220.5,449.3L227.4,455.4L223.6,455.1z" fill="#15ffff"/>
<path d="M223,454.4L226.8,454.7L233.5,460.6L229.7,460.1z" fill="#1de7ff"/>
<path d="M229.1,459.4L232.9,459.9L239.4,465.6L235.7,464.9z" fill="#24d1ff"/>
<path d="M235,464.2L238.8,464.9L245.1,470.5L241.3,469.5z" fill="#2bbeff"/>
<path d="M240.6,468.8L244.4,469.8L250.5,475L246.7,473.9z" fill="#32adff"/>
<path d="M246,473.2L249.8,474.3L255.6,479.4L251.8,478z" fill="#389eff"/>
<path d="M251.1,477.3L254.9,478.7L260.3,483.4L256.5,481.9z" fill="#3e91ff"/>
<path d="M255.9,481.2L259.7,482.7L264.7,487.2L260.9,485.5z" fill="#4485ff"/>
<path d="M260.3,484.8L264.2,486.4L268.8,490.7L264.9,488.9z" fill="#497cff"/>
<path d="M264.4,488.1L268.4,489.9L272.5,493.8L268.5,491.9z" fill="#4e73ff"/>
<path d="M268,491.1L272.3,493.1L275.8,496.6L271.5,494.5z" fill="#526dff"/>
<path d="M271.3,493.8L275.8,496.2L278.6,499.1L274.1,496.5z" fill="#5667ff"/>
<path d="M274.2,496.1L278.7,498.9L281.1,501.2L276.6,498.3z" fill="#5962ff"/>
<path d="M100.4,362.4L104.6,357.3L107.5,359.6L103.3,364.6z" fill="#ff866e"/>
<path d="M102.9,364.3L107,359.3L110.4,362L106.2,366.9z" fill="#ff896a"/>
<path d="M105.8,366.5L109.9,361.6L113.7,364.7L109.5,369.4z" fill="#ff8d66"/>
<path d="M109.1,369L113.2,364.3L117.3,367.8L113.2,372.2z" fill="#ff9261"/>
<path d="M112.7,371.8L116.8,367.3L121.4,371.1L117.3,375.4z" fill="#ff985b"/>
<path d="M116.8,374.9L120.9,370.6L125.8,374.7L121.8,378.8z" fill="#ff9f55"/>
<path d="M121.2,378.3L125.2,374.2L130.6,378.6L126.6,382.4z" fill="#ffa84e"/>
<path d="M126,381.9L130,378.1L135.7,382.8L131.7,386.4z" fill="#ffb347"/>
<path d="M131.1,385.8L135.1,382.3L141.1,387.2L137.1,390.5z" fill="#ffc03f"/>
<path d="M136.4,389.9L140.4,386.7L146.7,391.9L142.7,394.9z" fill="#ffce37"/>
<path d="M142.1,394.3L146.1,391.3L152.6,396.7L148.7,399.4z" fill="#ffdf2e"/>
<path d="M148,398.8L152,396.1L158.7,401.7L154.8,404.1z" fill="#fff225"/>
<path d="M154.1,403.5L158.1,401.1L165,406.8L161.1,409z" fill="#f6ff25"/>
<path d="M160.4,408.4L164.3,406.2L171.4,412.1L167.5,414z" fill="#deff33"/>
<path d="M166.9,413.3L170.8,411.5L178,417.5L174.1,419z" fill="#c4ff44"/>
<path d="M173.4,418.4L177.3,416.8L184.6,422.9L180.7,424.1z" fill="#a7ff58"/>
<path d="M180.1,423.5L183.9,422.2L191.3,428.3L187.4,429.3z" fill="#8dff72"/>
<path d="M186.7,428.6L190.6,427.7L197.9,433.8L194.1,434.4z" fill="#72ff8d"/>
<path d="M193.4,433.7L197.2,433.1L204.5,439.2L200.7,439.5z" fill="#58ffa7"/>
<path d="M200,438.8L203.9,438.5L211.1,444.5L207.3,444.5z" fill="#44ffc4"/>
<path d="M206.6,443.9L210.4,443.8L217.5,449.8L213.7,449.5z" fill="#33ffde"/>
<path d="M213,448.8L216.8,449.1L223.8,454.9L220,454.4z" fill="#25fff6"/>
<path d="M219.3,453.7L223.1,454.2L229.9,459.9L226.2,459.1z" fill="#25f2ff"/>
<path d="M225.5,458.4L229.2,459.2L235.8,464.7L232.1,463.6z" fill="#2edfff"/>
<path d="M231.4,463L235.1,464L241.5,469.3L237.7,468z" fill="#37ceff"/>
<path d="M237,467.3L240.8,468.6L246.9,473.7L243.1,472.2z" fill="#3fc0ff"/>
<path d="M242.4,471.5L246.2,473L251.9,477.9L248.2,476.1z" fill="#47b3ff"/>
<path d="M247.5,475.4L251.3,477.2L256.7,481.8L253,479.7z" fill="#4ea8ff"/>
<path d="M252.3,479.1L256,481.1L261.1,485.4L257.4,483.2z" fill="#559fff"/>
<path d="M256.7,482.5L260.5,484.6L265.2,488.7L261.4,486.3z" fill="#5b98ff"/>
<path d="M260.7,485.6L264.7,487.9L268.8,491.7L265,489.2z" fill="#6192ff"/>
<path d="M264.4,488.4L268.9,491.5L272.1,494.4L267.7,491z" fill="#668dff"/>
<path d="M267.7,490.9L272.1,494.4L275,496.7L270.6,493.2z" fill="#1f4dff"/>
<path d="M270.6,493.2L275,496.8L277.5,498.8L273.1,495.1z" fill="#1f44ff"/>
<path d="M96.8,367.6L101,361.7L103.8,363.9L99.7,369.7z" fill="#ffa680"/>
<path d="M99.3,369.4L103.4,363.6L106.7,366.2L102.6,371.8z" fill="#ffab80"/>
<path d="M102.2,371.4L106.3,365.9L110,368.7L105.9,374.1z" fill="#ffaf7d"/>
<path d="M105.5,373.8L109.6,368.4L113.7,371.6L109.6,376.8z" fill="#ffb277"/>
<path d="M109.1,376.4L113.2,371.2L117.8,374.8L113.7,379.7z" fill="#ffb670"/>
<path d="M113.2,379.3L117.2,374.4L122.2,378.2L118.1,382.9z" fill="#ffbb69"/>
<path d="M117.6,382.4L121.6,377.8L127,381.9L122.9,386.3z" fill="#ffc161"/>
<path d="M122.4,385.8L126.4,381.5L132.1,385.9L128,390z" fill="#ffc958"/>
<path d="M127.4,389.4L131.4,385.4L137.4,390.1L133.4,393.8z" fill="#ffd44f"/>
<path d="M132.8,393.3L136.8,389.5L143.1,394.5L139.1,397.9z" fill="#ffe045"/>
<path d="M138.5,397.3L142.5,393.9L149,399L145,402.1z" fill="#ffee3b"/>
<path d="M144.4,401.6L148.3,398.5L155.1,403.8L151.2,406.5z" fill="#fffe30"/>
<path d="M150.5,405.9L154.4,403.2L161.4,408.6L157.5,411.1z" fill="#ecff37"/>
<path d="M156.8,410.5L160.7,408.1L167.8,413.6L163.9,415.7z" fill="#d7ff42"/>
<path d="M163.3,415.1L167.1,413L174.4,418.7L170.5,420.4z" fill="#bfff4e"/>
<path d="M169.8,419.8L173.7,418.1L181,423.8L177.1,425.2z" fill="#a4ff5d"/>
<path d="M176.4,424.5L180.3,423.2L187.7,429L183.8,429.9z" fill="#8bff74"/>
<path d="M183.1,429.3L187,428.4L194.3,434.2L190.5,434.7z" fill="#74ff8b"/>
<path d="M189.8,434.1L193.6,433.5L200.9,439.3L197.1,439.5z" fill="#5dffa4"/>
<path d="M196.4,438.8L200.2,438.6L207.5,444.3L203.7,444.2z" fill="#4effbf"/>
<path d="M203,443.6L206.8,443.7L213.9,449.3L210.1,448.8z" fill="#42ffd7"/>
<path d="M209.4,448.2L213.2,448.7L220.2,454.2L216.5,453.3z" fill="#37ffec"/>
<path d="M215.7,452.7L219.5,453.5L226.3,458.9L222.6,457.7z" fill="#30feff"/>
<path d="M221.8,457.1L225.6,458.3L232.2,463.5L228.5,462z" fill="#3beeff"/>
<path d="M227.8,461.3L231.5,462.8L237.9,467.9L234.2,466z" fill="#45e0ff"/>
<path d="M233.4,465.4L237.1,467.2L243.2,472L239.6,469.9z" fill="#4fd4ff"/>
<path d="M238.8,469.3L242.5,471.4L248.3,476L244.7,473.5z" fill="#58c9ff"/>
<path d="M243.9,472.9L247.6,475.3L253.1,479.6L249.5,476.9z" fill="#61c1ff"/>
<path d="M248.7,476.3L252.3,479L257.5,483.1L253.9,480z" fill="#1f99ff"/>
<path d="M253.1,479.5L256.6,482.7L261.5,486.2L258,482.6z" fill="#1f8cff"/>
<path d="M257.1,482.4L261.1,486.4L265.2,489L261.3,484.9z" fill="#1f7fff"/>
<path d="M260.8,485L265,489.2L268.5,491.6L264.4,487.3z" fill="#1f74ff"/>
<path d="M264.1,487.4L268.4,491.7L271.4,493.8L267.2,489.4z" fill="#1f6bff"/>
<path d="M267,489.5L271.3,493.9L273.9,495.7L269.6,491.2z" fill="#1f62ff"/>
<path d="M94.9,371.8L97.2,366.9L100.2,369L97.9,373.7z" fill="#ffb780"/>
<path d="M97.4,373.4L99.7,368.7L103.1,371.1L100.8,375.7z" fill="#ffbb80"/>
<path d="M100.2,375.3L102.5,370.8L106.4,373.5L104.1,377.9z" fill="#ffc080"/>
<path d="M103.5,377.5L105.8,373.2L110.1,376.2L107.8,380.4z" fill="#ffc680"/>
<path d="M107.2,379.9L109.5,375.8L114.2,379.2L111.9,383.1z" fill="#ffcc80"/>
<path d="M111.2,382.6L113.5,378.7L118.6,382.4L116.4,386.1z" fill="#ffd380"/>
<path d="M115.7,385.6L117.9,381.9L123.4,385.8L121.1,389.3z" fill="#ffda80"/>
<path d="M120.4,388.8L122.6,385.4L128.4,389.5L126.2,392.7z" fill="#ffe280"/>
<path d="M125.5,392.2L127.7,389L133.8,393.4L131.6,396.3z" fill="#ffea80"/>
<path d="M130.9,395.8L133.1,392.9L139.5,397.5L137.3,400.2z" fill="#fff274"/>
<path d="M136.6,399.6L138.7,397L145.4,401.8L143.2,404.1z" fill="#fffc64"/>
<path d="M142.5,403.6L144.6,401.2L151.5,406.2L149.4,408.3z" fill="#f6ff5d"/>
<path d="M148.6,407.7L150.7,405.7L157.8,410.8L155.7,412.5z" fill="#e6ff5b"/>
<path d="M154.9,411.9L157,410.2L164.2,415.4L162.1,416.9z" fill="#d3ff5c"/>
<path d="M161.3,416.3L163.4,414.8L170.7,420.1L168.7,421.3z" fill="#bdff60"/>
<path d="M167.9,420.7L170,419.6L177.4,424.9L175.3,425.7z" fill="#a4ff67"/>
<path d="M174.5,425.2L176.6,424.3L184,429.7L182,430.2z" fill="#8aff75"/>
<path d="M181.2,429.7L183.2,429.1L190.7,434.5L188.7,434.7z" fill="#75ff8a"/>
<path d="M187.9,434.1L189.9,433.9L197.3,439.3L195.3,439.2z" fill="#67ffa4"/>
<path d="M194.5,438.6L196.5,438.7L203.9,444L201.9,443.6z" fill="#60ffbd"/>
<path d="M201.1,443L203,443.4L210.3,448.7L208.3,448z" fill="#5cffd3"/>
<path d="M207.5,447.4L209.5,448.1L216.6,453.2L214.6,452.2z" fill="#5bffe6"/>
<path d="M213.8,451.6L215.8,452.6L222.7,457.6L220.8,456.3z" fill="#5dfff6"/>
<path d="M219.9,455.8L221.9,457.1L228.6,461.9L226.7,460.3z" fill="#1ffaff"/>
<path d="M225.8,459.7L227.8,461.3L234.2,466L232.3,464.1z" fill="#1feaff"/>
<path d="M231.5,463.5L233.4,465.4L239.6,469.8L237.7,467.7z" fill="#1fdaff"/>
<path d="M236.9,467.2L238.8,469.3L244.7,473.5L242.8,471.1z" fill="#1fccff"/>
<path d="M242,470.6L243.8,473L249.4,477L247.6,474.3z" fill="#1fbeff"/>
<path d="M246.8,473.8L248.6,476.5L253.9,480.1L252,477.2z" fill="#1fb1ff"/>
<path d="M251.2,476.8L253,479.8L257.9,483.1L256.1,479.9z" fill="#1fa5ff"/>
<path d="M255.2,479.5L257,482.8L261.6,485.7L259.8,482.2z" fill="#1f9aff"/>
<path d="M258.9,482L260.8,485.6L264.8,488.1L263,484.3z" fill="#1f91ff"/>
<path d="M262.2,484.2L264.2,488.1L267.7,490.2L265.8,486.1z" fill="#1f88ff"/>
<path d="M265.1,486.2L267.2,490.3L270.2,492L268.1,487.8z" fill="#1f80ff"/>
<path d="M93,375.9L95.3,371L98.3,373L96,377.7z" fill="#ffc780"/>
<path d="M95.5,377.4L97.8,372.7L101.2,375L98.9,379.5z" fill="#ffca80"/>
<path d="M98.3,379.2L100.6,374.7L104.5,377.2L102.2,381.6z" fill="#ffcf80"/>
<path d="M101.6,381.2L103.9,376.9L108.2,379.8L105.9,383.9z" fill="#ffd480"/>
<path d="M105.3,383.5L107.5,379.4L112.2,382.5L110,386.5z" fill="#ffd980"/>
<path d="M109.3,386.1L111.6,382.1L116.7,385.6L114.4,389.3z" fill="#ffdf80"/>
<path d="M113.7,388.8L116,385.1L121.4,388.8L119.2,392.3z" fill="#ffe680"/>
<path d="M118.5,391.8L120.7,388.4L126.5,392.3L124.3,395.5z" fill="#ffed80"/>
<path d="M123.6,395L125.8,391.8L131.9,396L129.7,398.9z" fill="#fff480"/>
<path d="M129,398.4L131.1,395.5L137.5,399.8L135.4,402.5z" fill="#fffb74"/>
<path d="M134.6,401.9L136.8,399.3L143.4,403.8L141.3,406.2z" fill="#f9ff6a"/>
<path d="M140.5,405.6L142.7,403.3L149.6,408L147.4,410z" fill="#edff65"/>
<path d="M146.7,409.5L148.8,407.4L155.8,412.3L153.7,414z" fill="#deff63"/>
<path d="M153,413.5L155.1,411.7L162.3,416.6L160.2,418.1z" fill="#cdff63"/>
<path d="M159.4,417.5L161.5,416.1L168.8,421.1L166.8,422.2z" fill="#b8ff66"/>
<path d="M166,421.7L168,420.5L175.4,425.6L173.4,426.4z" fill="#a0ff6b"/>
<path d="M172.6,425.8L174.6,425L182.1,430.1L180.1,430.6z" fill="#89ff76"/>
<path d="M179.3,430L181.3,429.5L188.8,434.6L186.8,434.8z" fill="#76ff89"/>
<path d="M185.9,434.2L188,434L195.4,439.1L193.4,439z" fill="#6bffa0"/>
<path d="M192.6,438.4L194.6,438.5L201.9,443.5L200,443.1z" fill="#66ffb8"/>
<path d="M199.1,442.6L201.1,443L208.4,447.9L206.4,447.2z" fill="#63ffcd"/>
<path d="M205.6,446.6L207.5,447.3L214.7,452.2L212.7,451.1z" fill="#63ffde"/>
<path d="M211.9,450.6L213.8,451.6L220.8,456.3L218.8,455z" fill="#65ffed"/>
<path d="M218,454.5L219.9,455.8L226.7,460.3L224.8,458.7z" fill="#27fff6"/>
<path d="M223.9,458.2L225.8,459.8L232.3,464.1L230.4,462.3z" fill="#1ff9ff"/>
<path d="M229.6,461.7L231.5,463.6L237.7,467.8L235.8,465.6z" fill="#1fecff"/>
<path d="M235,465.1L236.8,467.3L242.8,471.2L240.9,468.8z" fill="#1fdfff"/>
<path d="M240.1,468.3L241.9,470.8L247.5,474.5L245.7,471.8z" fill="#1fd2ff"/>
<path d="M244.8,471.4L246.6,474.1L251.9,477.5L250.1,474.5z" fill="#1fc7ff"/>
<path d="M249.3,474.1L251.1,477.1L256,480.2L254.2,477z" fill="#1fbcff"/>
<path d="M253.3,476.7L255.1,480L259.6,482.7L257.8,479.2z" fill="#1fb3ff"/>
<path d="M257,479L258.9,482.6L262.9,484.9L261,481.1z" fill="#1faaff"/>
<path d="M260.3,481.1L262.3,485L265.8,486.9L263.8,482.9z" fill="#1fa2ff"/>
<path d="M263.2,482.9L265.3,487L268.3,488.6L266.2,484.4z" fill="#1f9cff"/>
<path d="M90.7,384.5L93.4,375.1L96.2,376.8L93.5,386z" fill="#ffdf80"/>
<path d="M93.2,385.8L95.9,376.7L99.1,378.7L96.4,387.5z" fill="#ffe280"/>
<path d="M96,387.4L98.8,378.5L102.4,380.8L99.7,389.3z" fill="#ffe680"/>
<path d="M99.3,389.1L102,380.6L106.1,383.1L103.4,391.3z" fill="#ffe980"/>
<path d="M103,391.1L105.7,383L110.2,385.7L107.5,393.5z" fill="#ffee80"/>
<path d="M107,393.2L109.7,385.5L114.7,388.6L111.9,395.8z" fill="#fff380"/>
<path d="M111.4,395.6L114.1,388.3L119.5,391.6L116.7,398.4z" fill="#fff880"/>
<path d="M116.1,398.1L118.9,391.3L124.6,394.9L121.8,401.1z" fill="#fffd80"/>
<path d="M121.2,400.8L123.9,394.6L130,398.3L127.2,404z" fill="#fbff84"/>
<path d="M126.6,403.7L129.3,398L135.6,402L132.9,407.1z" fill="#f5ff8a"/>
<path d="M132.2,406.7L134.9,401.6L141.5,405.7L138.8,410.3z" fill="#eeff90"/>
<path d="M138.1,409.8L140.8,405.3L147.6,409.6L145,413.6z" fill="#e7ff97"/>
<path d="M144.2,413.1L146.9,409.2L153.9,413.7L151.3,416.9z" fill="#dfff9b"/>
<path d="M150.5,416.5L153.2,413.2L160.4,417.8L157.7,420.4z" fill="#cfff8e"/>
<path d="M157,419.9L159.6,417.3L166.9,422L164.3,423.9z" fill="#bbff83"/>
<path d="M163.5,423.4L166.1,421.4L173.5,426.2L171,427.5z" fill="#a3ff7c"/>
<path d="M170.2,427L172.7,425.6L180.2,430.4L177.7,431.1z" fill="#87ff78"/>
<path d="M176.8,430.5L179.4,429.9L186.8,434.7L184.4,434.6z" fill="#78ff87"/>
<path d="M183.5,434.1L186,434.1L193.5,438.9L191,438.2z" fill="#7cffa3"/>
<path d="M190.2,437.7L192.6,438.4L200,443.1L197.6,441.7z" fill="#83ffbb"/>
<path d="M196.7,441.2L199.1,442.5L206.4,447.1L204.1,445.1z" fill="#61ffbc"/>
<path d="M203.2,444.6L205.5,446.7L212.7,451.1L210.4,448.4z" fill="#55ffc9"/>
<path d="M209.5,448L211.8,450.7L218.8,455L216.5,451.7z" fill="#48ffd5"/>
<path d="M215.6,451.3L217.9,454.7L224.7,458.8L222.4,454.8z" fill="#3cffe1"/>
<path d="M221.5,454.5L223.8,458.5L230.3,462.4L228,457.7z" fill="#31ffed"/>
<path d="M227.2,457.5L229.5,462.2L235.7,465.8L233.4,460.5z" fill="#26fff8"/>
<path d="M232.6,460.4L234.9,465.7L240.8,469L238.4,463.2z" fill="#1ffcff"/>
<path d="M237.7,463.1L240.1,469L245.5,472.1L243.1,465.7z" fill="#1ff2ff"/>
<path d="M242.5,465.7L244.9,472.1L249.9,474.9L247.5,468z" fill="#1fe9ff"/>
<path d="M246.9,468.1L249.4,474.9L254,477.4L251.5,470.2z" fill="#1fe1ff"/>
<path d="M251,470.2L253.5,477.5L257.6,479.8L255.1,472.2z" fill="#1fd9ff"/>
<path d="M254.7,472.2L257.3,479.9L260.9,481.9L258.3,473.9z" fill="#1fd2ff"/>
<path d="M258,474L260.6,481.9L263.8,483.7L261.2,475.5z" fill="#1fccff"/>
<path d="M260.9,475.5L263.5,483.8L266.3,485.3L263.6,476.8z" fill="#1fc7ff"/>
<path d="M88.4,395L91,383.6L93.7,385L91.1,396.1z" fill="#f9ff85"/>
<path d="M90.8,396.1L93.5,385L96.7,386.6L94,397.4z" fill="#f8ff87"/>
<path d="M93.7,397.3L96.4,386.5L100,388.4L97.3,398.7z" fill="#f6ff89"/>
<path d="M97,398.6L99.6,388.3L103.7,390.4L101,400.3z" fill="#f3ff8b"/>
<path d="M100.6,400.2L103.3,390.3L107.8,392.6L105.1,402z" fill="#f1ff8e"/>
<path d="M104.6,401.9L107.3,392.5L112.2,395L109.5,403.9z" fill="#eeff91"/>
<path d="M109,403.7L111.7,394.9L117,397.6L114.3,405.9z" fill="#eaff94"/>
<path d="M113.8,405.7L116.5,397.4L122.1,400.4L119.4,408.1z" fill="#e7ff97"/>
<path d="M118.8,407.8L121.5,400.2L127.5,403.4L124.8,410.3z" fill="#e4ff9b"/>
<path d="M124.2,410.1L126.9,403.1L133.2,406.5L130.5,412.7z" fill="#e0ff9f"/>
<path d="M129.8,412.4L132.5,406.2L139.1,409.7L136.4,415.2z" fill="#dcffa3"/>
<path d="M135.7,414.9L138.4,409.4L145.2,413L142.6,417.8z" fill="#d8ffa7"/>
<path d="M141.8,417.4L144.5,412.7L151.5,416.5L148.9,420.5z" fill="#d3ffab"/>
<path d="M148.1,420.1L150.8,416.1L158,420L155.3,423.2z" fill="#cdffab"/>
<path d="M154.6,422.7L157.2,419.6L164.5,423.6L161.9,425.9z" fill="#b8ff99"/>
<path d="M161.1,425.5L163.7,423.1L171.1,427.2L168.6,428.7z" fill="#a1ff8a"/>
<path d="M167.8,428.2L170.3,426.8L177.8,430.9L175.3,431.5z" fill="#86ff7d"/>
<path d="M174.4,431L176.9,430.4L184.4,434.5L182,434.3z" fill="#7dff86"/>
<path d="M181.1,433.8L183.6,434L191.1,438.1L188.6,437z" fill="#8affa1"/>
<path d="M187.7,436.6L190.2,437.7L197.6,441.7L195.2,439.7z" fill="#7bffa3"/>
<path d="M194.3,439.3L196.7,441.3L204,445.2L201.7,442.4z" fill="#73ffab"/>
<path d="M200.8,442.1L203.1,444.8L210.3,448.6L208,445z" fill="#6bffb2"/>
<path d="M207.1,444.7L209.4,448.4L216.4,451.9L214.1,447.4z" fill="#64ffba"/>
<path d="M213.2,447.3L215.5,451.8L222.3,455.1L219.9,449.9z" fill="#5dffc1"/>
<path d="M219.1,449.8L221.5,455.1L227.9,458.2L225.5,452.2z" fill="#56ffc8"/>
<path d="M224.8,452.1L227.2,458.2L233.3,461.1L230.9,454.4z" fill="#4fffcf"/>
<path d="M230.2,454.4L232.6,461.2L238.4,463.9L235.9,456.5z" fill="#49ffd5"/>
<path d="M235.3,456.5L237.8,463.9L243.1,466.5L240.6,458.5z" fill="#43ffdb"/>
<path d="M240.1,458.5L242.6,466.5L247.5,468.9L245,460.4z" fill="#3dffe0"/>
<path d="M244.5,460.4L247.1,468.9L251.5,471.1L249,462.1z" fill="#38ffe5"/>
<path d="M248.6,462.1L251.2,471.1L255.2,473.1L252.6,463.6z" fill="#33ffea"/>
<path d="M252.3,463.7L254.9,473.1L258.5,474.8L255.9,465z" fill="#2fffee"/>
<path d="M255.6,465.1L258.2,474.9L261.3,476.4L258.7,466.2z" fill="#2cfff2"/>
<path d="M258.5,466.3L261.1,476.5L263.8,477.8L261.2,467.3z" fill="#28fff5"/>
<path d="M86.9,401.3L88.5,394.1L91.4,395.2L89.7,402.2z" fill="#d8ffa6"/>
<path d="M89.3,402.1L91,395.1L94.3,396.5L92.6,403.3z" fill="#d7ffa7"/>
<path d="M92.2,403.1L93.9,396.4L97.6,397.9L95.9,404.4z" fill="#d7ffa8"/>
<path d="M95.4,404.2L97.1,397.8L101.3,399.5L99.7,405.7z" fill="#d5ffa9"/>
<path d="M99.1,405.5L100.8,399.3L105.4,401.3L103.7,407.1z" fill="#d4ffaa"/>
<path d="M103.1,406.9L104.8,401.1L109.9,403.2L108.2,408.7z" fill="#d3ffab"/>
<path d="M107.5,408.5L109.2,403L114.6,405.2L113,410.4z" fill="#d2ffad"/>
<path d="M112.3,410.1L113.9,405L119.7,407.4L118.1,412.2z" fill="#d0ffae"/>
<path d="M117.3,411.9L119,407.2L125.1,409.7L123.5,414.1z" fill="#cfffb0"/>
<path d="M122.7,413.7L124.4,409.5L130.8,412.2L129.2,416z" fill="#cdffb1"/>
<path d="M128.4,415.7L130,411.9L136.7,414.7L135.1,418.1z" fill="#cbffb3"/>
<path d="M134.3,417.8L135.9,414.4L142.8,417.3L141.2,420.3z" fill="#caffb5"/>
<path d="M140.4,419.9L142,417L149.1,420.1L147.5,422.5z" fill="#c8ffb7"/>
<path d="M146.7,422.1L148.3,419.7L155.6,422.8L154,424.7z" fill="#c3ffb5"/>
<path d="M153.1,424.4L154.7,422.4L162.1,425.6L160.6,427z" fill="#afffa2"/>
<path d="M159.7,426.7L161.2,425.2L168.7,428.5L167.2,429.4z" fill="#9aff90"/>
<path d="M166.3,429L167.8,428.1L175.4,431.3L173.9,431.7z" fill="#84ff80"/>
<path d="M173,431.3L174.5,430.9L182,434.2L180.6,434z" fill="#80ff84"/>
<path d="M179.6,433.7L181.1,433.8L188.7,437L187.2,436.3z" fill="#90ff9a"/>
<path d="M186.3,436L187.7,436.6L195.2,439.8L193.8,438.6z" fill="#86ff97"/>
<path d="M192.8,438.3L194.3,439.5L201.6,442.6L200.2,440.9z" fill="#83ff9b"/>
<path d="M199.3,440.5L200.7,442.2L207.9,445.2L206.5,443.1z" fill="#80ff9e"/>
<path d="M205.6,442.8L207,445L214,447.9L212.7,445.2z" fill="#7cffa1"/>
<path d="M211.7,444.9L213.1,447.6L219.9,450.4L218.5,447.2z" fill="#79ffa4"/>
<path d="M217.6,447L219,450.2L225.6,452.8L224.2,449.2z" fill="#76ffa7"/>
<path d="M223.3,449L224.7,452.6L230.9,455.1L229.6,451z" fill="#73ffaa"/>
<path d="M228.7,450.9L230.1,455L236,457.3L234.6,452.7z" fill="#71ffad"/>
<path d="M233.8,452.6L235.2,457.2L240.7,459.3L239.3,454.4z" fill="#6effaf"/>
<path d="M238.6,454.3L240,459.3L245.1,461.2L243.7,455.9z" fill="#6cffb2"/>
<path d="M243,455.9L244.5,461.2L249.2,462.9L247.7,457.3z" fill="#6affb4"/>
<path d="M247.1,457.3L248.6,463L252.8,464.5L251.4,458.6z" fill="#68ffb6"/>
<path d="M250.8,458.6L252.3,464.6L256.1,465.9L254.6,459.7z" fill="#66ffb8"/>
<path d="M254.1,459.7L255.7,466L259,467.1L257.4,460.7z" fill="#64ffb9"/>
<path d="M257,460.7L258.6,467.2L261.5,468.2L259.9,461.6z" fill="#63ffbb"/>
<path d="M85.3,404.4L87,400.4L90.1,401.5L88.3,405.4z" fill="#c5ffb9"/>
<path d="M87.8,405.2L89.5,401.3L93,402.5L91.3,406.3z" fill="#c5ffb9"/>
<path d="M90.6,406L92.3,402.3L96.3,403.7L94.6,407.4z" fill="#c5ffb9"/>
<path d="M93.9,407.1L95.6,403.5L100,405.1L98.3,408.5z" fill="#c5ffba"/>
<path d="M97.6,408.2L99.2,404.8L104,406.6L102.4,409.8z" fill="#c5ffba"/>
<path d="M101.6,409.5L103.3,406.3L108.5,408.1L106.8,411.2z" fill="#c4ffba"/>
<path d="M106,410.9L107.7,407.8L113.2,409.9L111.6,412.7z" fill="#c4ffbb"/>
<path d="M110.8,412.4L112.4,409.6L118.3,411.7L116.7,414.3z" fill="#c4ffbb"/>
<path d="M115.9,414L117.5,411.4L123.7,413.6L122.1,416z" fill="#c3ffbb"/>
<path d="M121.3,415.7L122.8,413.3L129.4,415.6L127.8,417.8z" fill="#c1ffba"/>
<path d="M126.9,417.5L128.5,415.3L135.3,417.8L133.7,419.7z" fill="#b9ffb2"/>
<path d="M132.8,419.3L134.4,417.4L141.4,419.9L139.8,421.6z" fill="#b0ffa9"/>
<path d="M138.9,421.3L140.5,419.6L147.7,422.2L146.1,423.6z" fill="#a6ffa0"/>
<path d="M145.2,423.3L146.8,421.9L154.1,424.5L152.6,425.7z" fill="#9dff97"/>
<path d="M151.7,425.3L153.2,424.2L160.7,426.8L159.2,427.7z" fill="#92ff8e"/>
<path d="M158.2,427.4L159.7,426.5L167.3,429.2L165.8,429.8z" fill="#88ff85"/>
<path d="M164.9,429.5L166.4,428.9L173.9,431.6L172.5,432z" fill="#80ff7f"/>
<path d="M171.5,431.6L173,431.2L180.6,433.9L179.1,434.1z" fill="#7fff80"/>
<path d="M178.2,433.7L179.7,433.6L187.2,436.3L185.8,436.2z" fill="#85ff88"/>
<path d="M184.8,435.8L186.3,436L193.8,438.6L192.3,438.2z" fill="#8eff92"/>
<path d="M191.4,437.9L192.8,438.3L200.2,440.9L198.8,440.3z" fill="#8cff92"/>
<path d="M197.8,440L199.3,440.6L206.5,443.2L205.1,442.3z" fill="#8bff93"/>
<path d="M204.1,442L205.6,442.9L212.6,445.4L211.2,444.2z" fill="#8aff93"/>
<path d="M210.2,443.9L211.7,445.1L218.5,447.5L217.1,446.1z" fill="#89ff94"/>
<path d="M216.1,445.8L217.6,447.2L224.2,449.5L222.8,447.9z" fill="#89ff95"/>
<path d="M221.8,447.6L223.2,449.2L229.5,451.4L228.1,449.5z" fill="#88ff96"/>
<path d="M227.2,449.3L228.6,451.2L234.6,453.2L233.2,451.1z" fill="#87ff96"/>
<path d="M232.3,450.9L233.7,453L239.4,454.9L238,452.6z" fill="#87ff97"/>
<path d="M237.1,452.4L238.4,454.8L243.8,456.5L242.4,454z" fill="#86ff98"/>
<path d="M241.5,453.8L242.9,456.4L247.8,458L246.4,455.2z" fill="#86ff98"/>
<path d="M245.6,455.1L247,457.9L251.5,459.3L250.1,456.3z" fill="#85ff99"/>
<path d="M249.2,456.3L250.7,459.3L254.8,460.5L253.3,457.3z" fill="#85ff99"/>
<path d="M252.5,457.3L254,460.5L257.7,461.5L256.2,458.2z" fill="#84ff99"/>
<path d="M255.4,458.2L257,461.6L260.1,462.4L258.6,458.9z" fill="#84ff9a"/>
<path d="M77.5,405.7L86.2,403.9L88.7,404.9L80,406.6z" fill="#80ff80"/>
<path d="M80,406.4L88.6,404.7L91.6,405.8L82.9,407.6z" fill="#80ff80"/>
<path d="M82.9,407.4L91.5,405.6L94.9,406.9L86.2,408.6z" fill="#80ff80"/>
<path d="M86.2,408.4L94.8,406.6L98.6,408.1L89.9,409.8z" fill="#80ff80"/>
<path d="M89.8,409.6L98.5,407.8L102.6,409.4L94,411.2z" fill="#80ff80"/>
<path d="M93.9,410.9L102.5,409L107,410.8L98.4,412.6z" fill="#80ff80"/>
<path d="M98.3,412.3L106.9,410.4L111.8,412.3L103.2,414.2z" fill="#80ff80"/>
<path d="M103.1,413.8L111.6,411.9L116.9,413.9L108.3,415.8z" fill="#80ff80"/>
<path d="M108.2,415.4L116.7,413.5L122.3,415.7L113.8,417.6z" fill="#80ff80"/>
<path d="M113.5,417.1L122,415.2L127.9,417.5L119.4,419.4z" fill="#80ff80"/>
<path d="M119.2,418.9L127.7,417L133.8,419.4L125.4,421.3z" fill="#80ff80"/>
<path d="M125.1,420.8L133.5,418.9L139.9,421.3L131.5,423.3z" fill="#80ff80"/>
<path d="M131.2,422.8L139.6,420.9L146.2,423.3L137.8,425.3z" fill="#80ff80"/>
<path d="M137.5,424.8L145.9,422.9L152.7,425.4L144.3,427.3z" fill="#80ff80"/>
<path d="M144,426.9L152.3,424.9L159.2,427.5L150.9,429.4z" fill="#80ff80"/>
<path d="M150.5,428.9L158.9,427L165.8,429.6L157.5,431.6z" fill="#80ff80"/>
<path d="M157.1,431.1L165.5,429.1L172.5,431.8L164.2,433.7z" fill="#80ff80"/>
<path d="M163.8,433.2L172.1,431.3L179.2,433.9L170.8,435.8z" fill="#80ff80"/>
<path d="M170.5,435.3L178.8,433.4L185.8,436L177.4,438z" fill="#80ff80"/>
<path d="M177.1,437.5L185.5,435.5L192.4,438.1L184,440z" fill="#80ff80"/>
<path d="M183.6,439.5L192,437.6L198.8,440.2L190.4,442.1z" fill="#80ff80"/>
<path d="M190.1,441.6L198.5,439.7L205.1,442.2L196.7,444.1z" fill="#80ff80"/>
<path d="M196.4,443.6L204.8,441.7L211.2,444.1L202.8,446.1z" fill="#80ff80"/>
<path d="M202.5,445.6L210.9,443.7L217.1,446L208.7,447.9z" fill="#80ff80"/>
<path d="M208.4,447.5L216.9,445.6L222.8,447.8L214.3,449.7z" fill="#80ff80"/>
<path d="M214.1,449.3L222.6,447.4L228.1,449.5L219.6,451.4z" fill="#80ff80"/>
<path d="M219.4,451L228,449.1L233.2,451.2L224.7,453z" fill="#80ff80"/>
<path d="M224.5,452.6L233.1,450.8L238,452.7L229.4,454.5z" fill="#80ff80"/>
<path d="M229.3,454.2L237.9,452.3L242.4,454.1L233.8,455.9z" fill="#80ff80"/>
<path d="M233.7,455.6L242.3,453.8L246.5,455.4L237.9,457.2z" fill="#80ff80"/>
<path d="M237.8,456.9L246.4,455.1L250.1,456.5L241.5,458.3z" fill="#80ff80"/>
<path d="M241.4,458.1L250.1,456.3L253.4,457.6L244.8,459.4z" fill="#80ff80"/>
<path d="M244.7,459.1L253.4,457.4L256.3,458.5L247.7,460.3z" fill="#80ff80"/>
<path d="M247.6,460.1L256.3,458.3L258.8,459.3L250.1,461z" fill="#80ff80"/>
</g>
<line x1="69.8" y1="464.5" x2="69.8" y2="331" stroke="#bbb" stroke-width="1"/>
<line x1="69.8" y1="464.5" x2="258.8" y2="524.9" stroke="#555" stroke-width="1.2"/>
<line x1="258.8" y1="524.9" x2="499.8" y2="478.4" stroke="#555" stroke-width="1.2"/>
<line x1="258.8" y1="524.9" x2="265" y2="526.9" stroke="#555" stroke-width="1"/>
<line x1="307" y1="515.6" x2="313.2" y2="517.6" stroke="#555" stroke-width="1"/>
<line x1="355.2" y1="506.3" x2="361.4" y2="508.3" stroke="#555" stroke-width="1"/>
<line x1="403.4" y1="497" x2="409.6" y2="499" stroke="#555" stroke-width="1"/>
<line x1="451.6" y1="487.7" x2="457.8" y2="489.7" stroke="#555" stroke-width="1"/>
<line x1="499.8" y1="478.4" x2="506" y2="480.4" stroke="#555" stroke-width="1"/>
<line x1="78" y1="467.1" x2="71.6" y2="468.4" stroke="#555" stroke-width="1"/>
<line x1="164.3" y1="494.7" x2="157.9" y2="496" stroke="#555" stroke-width="1"/>
<line x1="250.6" y1="522.3" x2="244.2" y2="523.6" stroke="#555" stroke-width="1"/>
<line x1="69.8" y1="463.5" x2="64.6" y2="461.8" stroke="#555" stroke-width="1"/>
<line x1="69.8" y1="410.5" x2="64.6" y2="408.8" stroke="#555" stroke-width="1"/>
<line x1="69.8" y1="357.5" x2="64.6" y2="355.8" stroke="#555" stroke-width="1"/>
<line x1="69.8" y1="331" x2="64.6" y2="329.3" stroke="#555" stroke-width="1"/>
<text x="63.5" y="467.1" font-size="11.5" text-anchor="end">1.7963</text>
<text x="63.5" y="414.1" font-size="11.5" text-anchor="end">1.7965</text>
<text x="63.5" y="361.1" font-size="11.5" text-anchor="end">1.7966</text>
<text x="63.5" y="334.6" font-size="11.5" text-anchor="end">1.7966</text>
<text x="67.5" y="480.1" font-size="11.5" text-anchor="middle">1</text>
<text x="151.7" y="507" font-size="11.5" text-anchor="middle">0</text>
<text x="234.4" y="536.1" font-size="11.5" text-anchor="middle">-1</text>
<text x="266" y="538.1" font-size="11.5" text-anchor="middle">0</text>
<text x="319.5" y="528.8" font-size="11.5" text-anchor="middle">10</text>
<text x="365.7" y="520.1" font-size="11.5" text-anchor="middle">20</text>
<text x="415" y="510.5" font-size="11.5" text-anchor="middle">30</text>
<text x="463.5" y="501.6" font-size="11.5" text-anchor="middle">40</text>
<text x="512" y="491.6" font-size="11.5" text-anchor="middle">50</text>
<text x="54.5" y="520.2" font-size="11.5" text-anchor="middle">x 10</text>
<text x="67.8" y="510" font-size="8" text-anchor="middle">-4</text>
<text x="79" y="319.8" font-size="11.5" text-anchor="middle">x 10</text>
<text x="93.3" y="309.3" font-size="8" text-anchor="middle">4</text>
<text transform="translate(19.4 397.7) rotate(-90)" font-size="12" text-anchor="middle">Water Concentration (mol/m<tspan dy="-4.5" font-size="8.5">3</tspan><tspan dy="4.5">)</tspan></text>
<text transform="translate(138 523.5) rotate(12)" font-size="12" text-anchor="middle" font-style="italic">Thickness (m)</text>
<text transform="translate(418 532.5) rotate(-11)" font-size="12" text-anchor="middle">Time (s)</text>
<text class="s" x="448.7" y="316" font-size="23" text-anchor="middle">(b)</text>
</svg>
</body></html>
